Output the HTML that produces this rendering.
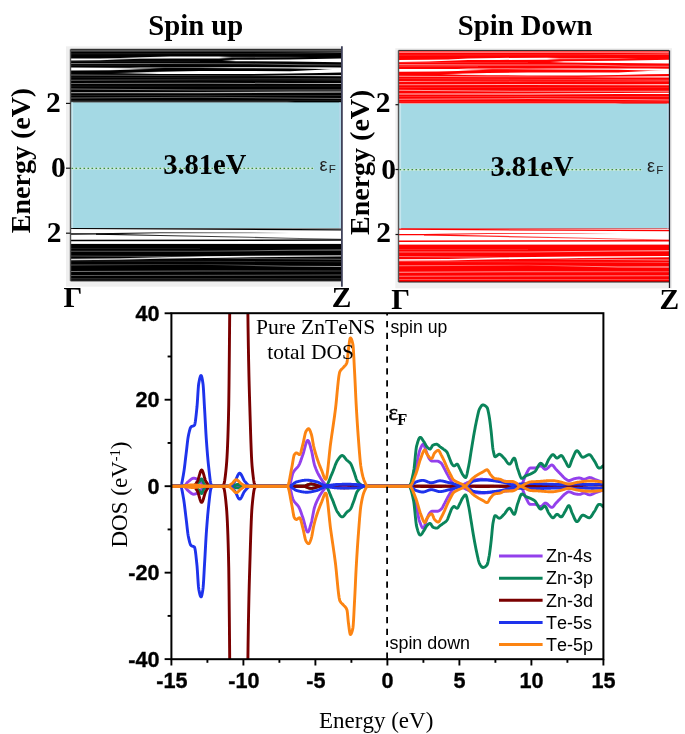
<!DOCTYPE html>
<html><head><meta charset="utf-8">
<style>
html,body{margin:0;padding:0;background:#fff;}
body{width:685px;height:734px;overflow:hidden;}
svg{display:block;}
.serif{font-family:"Liberation Serif","Times New Roman",serif;}
.sans{font-family:"Liberation Sans",Arial,sans-serif;}
text{font-kerning:none;}
.num{stroke:#000;stroke-width:0.35px;}
</style></head><body>
<svg width="685" height="734" viewBox="0 0 685 734">
<defs><filter id="blur" x="-5%" y="-50%" width="110%" height="200%"><feGaussianBlur stdDeviation="0.55"/></filter></defs>
<rect width="685" height="734" fill="#fff"/>
<rect x="66.0" y="46.3" width="275.5" height="240.4" fill="#EFEFEF"/>
<defs><clipPath id="clip70"><rect x="70.5" y="49.3" width="270.7" height="231.6"/></clipPath><linearGradient id="g1" gradientUnits="userSpaceOnUse" x1="70.0" y1="0" x2="341.0" y2="0"><stop offset="0.0000" stop-color="#fff" stop-opacity="0.45"/><stop offset="1.0000" stop-color="#fff" stop-opacity="0.42"/></linearGradient><linearGradient id="g2" gradientUnits="userSpaceOnUse" x1="70.0" y1="0" x2="341.0" y2="0"><stop offset="0.0000" stop-color="#fff" stop-opacity="0.15"/><stop offset="0.6642" stop-color="#fff" stop-opacity="0.10"/><stop offset="1.0000" stop-color="#fff" stop-opacity="0.30"/></linearGradient><linearGradient id="g3" gradientUnits="userSpaceOnUse" x1="70.0" y1="0" x2="310.0" y2="0"><stop offset="0.0000" stop-color="#fff" stop-opacity="1.00"/><stop offset="0.1250" stop-color="#fff" stop-opacity="1.00"/><stop offset="0.2083" stop-color="#fff" stop-opacity="0.75"/><stop offset="0.2917" stop-color="#fff" stop-opacity="0.85"/><stop offset="0.4167" stop-color="#fff" stop-opacity="1.00"/><stop offset="0.6208" stop-color="#fff" stop-opacity="1.00"/><stop offset="0.6750" stop-color="#fff" stop-opacity="0.35"/><stop offset="0.9167" stop-color="#fff" stop-opacity="0.25"/><stop offset="1.0000" stop-color="#fff" stop-opacity="0.00"/></linearGradient><linearGradient id="g4" gradientUnits="userSpaceOnUse" x1="222.0" y1="0" x2="341.0" y2="0"><stop offset="0.0000" stop-color="#fff" stop-opacity="0.00"/><stop offset="0.1176" stop-color="#fff" stop-opacity="1.00"/><stop offset="0.5714" stop-color="#fff" stop-opacity="1.00"/><stop offset="1.0000" stop-color="#fff" stop-opacity="1.00"/></linearGradient><linearGradient id="g5" gradientUnits="userSpaceOnUse" x1="70.0" y1="0" x2="200.0" y2="0"><stop offset="0.0000" stop-color="#fff" stop-opacity="0.15"/><stop offset="1.0000" stop-color="#fff" stop-opacity="0.10"/></linearGradient><linearGradient id="g6" gradientUnits="userSpaceOnUse" x1="70.0" y1="0" x2="341.0" y2="0"><stop offset="0.0000" stop-color="#fff" stop-opacity="0.45"/><stop offset="0.3321" stop-color="#fff" stop-opacity="0.40"/><stop offset="0.6642" stop-color="#fff" stop-opacity="0.35"/><stop offset="0.8487" stop-color="#fff" stop-opacity="0.40"/><stop offset="1.0000" stop-color="#fff" stop-opacity="0.30"/></linearGradient><linearGradient id="g7" gradientUnits="userSpaceOnUse" x1="70.0" y1="0" x2="150.0" y2="0"><stop offset="0.0000" stop-color="#fff" stop-opacity="0.15"/><stop offset="1.0000" stop-color="#fff" stop-opacity="0.10"/></linearGradient><linearGradient id="g8" gradientUnits="userSpaceOnUse" x1="70.0" y1="0" x2="165.0" y2="0"><stop offset="0.0000" stop-color="#fff" stop-opacity="1.00"/><stop offset="0.4211" stop-color="#fff" stop-opacity="1.00"/><stop offset="0.6316" stop-color="#fff" stop-opacity="0.80"/><stop offset="0.8421" stop-color="#fff" stop-opacity="0.40"/><stop offset="1.0000" stop-color="#fff" stop-opacity="0.00"/></linearGradient><linearGradient id="g9" gradientUnits="userSpaceOnUse" x1="129.0" y1="0" x2="341.0" y2="0"><stop offset="0.0000" stop-color="#fff" stop-opacity="0.00"/><stop offset="0.0519" stop-color="#fff" stop-opacity="0.30"/><stop offset="0.3349" stop-color="#fff" stop-opacity="0.45"/><stop offset="0.5000" stop-color="#fff" stop-opacity="0.80"/><stop offset="0.7594" stop-color="#fff" stop-opacity="0.85"/><stop offset="0.9009" stop-color="#fff" stop-opacity="0.90"/><stop offset="1.0000" stop-color="#fff" stop-opacity="1.00"/></linearGradient><linearGradient id="g10" gradientUnits="userSpaceOnUse" x1="112.0" y1="0" x2="341.0" y2="0"><stop offset="0.0000" stop-color="#fff" stop-opacity="0.00"/><stop offset="0.1004" stop-color="#fff" stop-opacity="0.60"/><stop offset="0.2096" stop-color="#fff" stop-opacity="1.00"/><stop offset="0.3843" stop-color="#fff" stop-opacity="1.00"/><stop offset="0.6026" stop-color="#fff" stop-opacity="1.00"/><stop offset="0.7773" stop-color="#fff" stop-opacity="1.00"/><stop offset="0.9083" stop-color="#fff" stop-opacity="1.00"/><stop offset="1.0000" stop-color="#fff" stop-opacity="1.00"/></linearGradient><linearGradient id="g11" gradientUnits="userSpaceOnUse" x1="70.0" y1="0" x2="341.0" y2="0"><stop offset="0.0000" stop-color="#fff" stop-opacity="0.45"/><stop offset="0.3321" stop-color="#fff" stop-opacity="0.30"/><stop offset="0.6642" stop-color="#fff" stop-opacity="0.20"/><stop offset="0.8118" stop-color="#fff" stop-opacity="0.60"/><stop offset="1.0000" stop-color="#fff" stop-opacity="0.85"/></linearGradient><linearGradient id="g12" gradientUnits="userSpaceOnUse" x1="70.0" y1="0" x2="341.0" y2="0"><stop offset="0.0000" stop-color="#fff" stop-opacity="0.10"/><stop offset="1.0000" stop-color="#fff" stop-opacity="0.25"/></linearGradient><linearGradient id="g13" gradientUnits="userSpaceOnUse" x1="70.0" y1="0" x2="341.0" y2="0"><stop offset="0.0000" stop-color="#fff" stop-opacity="0.40"/><stop offset="0.4797" stop-color="#fff" stop-opacity="0.20"/><stop offset="1.0000" stop-color="#fff" stop-opacity="0.15"/></linearGradient><linearGradient id="g14" gradientUnits="userSpaceOnUse" x1="70.0" y1="0" x2="341.0" y2="0"><stop offset="0.0000" stop-color="#fff" stop-opacity="0.40"/><stop offset="0.4797" stop-color="#fff" stop-opacity="0.50"/><stop offset="0.8118" stop-color="#fff" stop-opacity="0.55"/><stop offset="1.0000" stop-color="#fff" stop-opacity="0.70"/></linearGradient><linearGradient id="g15" gradientUnits="userSpaceOnUse" x1="70.0" y1="0" x2="341.0" y2="0"><stop offset="0.0000" stop-color="#fff" stop-opacity="0.12"/><stop offset="1.0000" stop-color="#fff" stop-opacity="0.10"/></linearGradient><linearGradient id="g16" gradientUnits="userSpaceOnUse" x1="70.0" y1="0" x2="341.0" y2="0"><stop offset="0.0000" stop-color="#fff" stop-opacity="0.45"/><stop offset="0.4797" stop-color="#fff" stop-opacity="0.40"/><stop offset="1.0000" stop-color="#fff" stop-opacity="0.40"/></linearGradient><linearGradient id="g17" gradientUnits="userSpaceOnUse" x1="70.0" y1="0" x2="341.0" y2="0"><stop offset="0.0000" stop-color="#fff" stop-opacity="0.55"/><stop offset="0.4797" stop-color="#fff" stop-opacity="0.65"/><stop offset="0.8118" stop-color="#fff" stop-opacity="0.75"/><stop offset="1.0000" stop-color="#fff" stop-opacity="0.85"/></linearGradient><linearGradient id="g18" gradientUnits="userSpaceOnUse" x1="70.0" y1="0" x2="341.0" y2="0"><stop offset="0.0000" stop-color="#fff" stop-opacity="0.15"/><stop offset="1.0000" stop-color="#fff" stop-opacity="0.20"/></linearGradient><linearGradient id="g19" gradientUnits="userSpaceOnUse" x1="70.0" y1="0" x2="341.0" y2="0"><stop offset="0.0000" stop-color="#fff" stop-opacity="0.40"/><stop offset="0.4797" stop-color="#fff" stop-opacity="0.35"/><stop offset="1.0000" stop-color="#fff" stop-opacity="0.40"/></linearGradient><linearGradient id="g20" gradientUnits="userSpaceOnUse" x1="70.0" y1="0" x2="341.0" y2="0"><stop offset="0.0000" stop-color="#fff" stop-opacity="0.12"/><stop offset="1.0000" stop-color="#fff" stop-opacity="0.12"/></linearGradient><linearGradient id="g21" gradientUnits="userSpaceOnUse" x1="70.0" y1="0" x2="295.0" y2="0"><stop offset="0.0000" stop-color="#fff" stop-opacity="0.40"/><stop offset="0.9644" stop-color="#fff" stop-opacity="0.35"/><stop offset="1.0000" stop-color="#fff" stop-opacity="0.00"/></linearGradient><linearGradient id="g22" gradientUnits="userSpaceOnUse" x1="70.0" y1="0" x2="200.0" y2="0"><stop offset="0.0000" stop-color="#fff" stop-opacity="0.15"/><stop offset="1.0000" stop-color="#fff" stop-opacity="0.10"/></linearGradient><linearGradient id="g23" gradientUnits="userSpaceOnUse" x1="70.0" y1="0" x2="341.0" y2="0"><stop offset="0.0000" stop-color="#fff" stop-opacity="0.35"/><stop offset="0.4797" stop-color="#fff" stop-opacity="0.35"/><stop offset="0.8118" stop-color="#fff" stop-opacity="0.45"/><stop offset="1.0000" stop-color="#fff" stop-opacity="0.55"/></linearGradient><linearGradient id="g24" gradientUnits="userSpaceOnUse" x1="70.0" y1="0" x2="341.0" y2="0"><stop offset="0.0000" stop-color="#fff" stop-opacity="0.30"/><stop offset="0.3321" stop-color="#fff" stop-opacity="0.30"/><stop offset="0.6642" stop-color="#fff" stop-opacity="0.30"/><stop offset="1.0000" stop-color="#fff" stop-opacity="0.40"/></linearGradient><linearGradient id="g25" gradientUnits="userSpaceOnUse" x1="70.0" y1="0" x2="341.0" y2="0"><stop offset="0.0000" stop-color="#fff" stop-opacity="0.85"/><stop offset="0.1845" stop-color="#fff" stop-opacity="0.80"/><stop offset="0.3321" stop-color="#fff" stop-opacity="0.85"/><stop offset="0.4982" stop-color="#fff" stop-opacity="1.00"/><stop offset="0.6716" stop-color="#fff" stop-opacity="0.95"/><stop offset="1.0000" stop-color="#fff" stop-opacity="0.80"/></linearGradient><linearGradient id="g26" gradientUnits="userSpaceOnUse" x1="70.0" y1="0" x2="341.0" y2="0"><stop offset="0.0000" stop-color="#fff" stop-opacity="0.15"/><stop offset="1.0000" stop-color="#fff" stop-opacity="0.20"/></linearGradient><linearGradient id="g27" gradientUnits="userSpaceOnUse" x1="70.0" y1="0" x2="341.0" y2="0"><stop offset="0.0000" stop-color="#fff" stop-opacity="0.35"/><stop offset="0.4797" stop-color="#fff" stop-opacity="0.20"/><stop offset="0.8118" stop-color="#fff" stop-opacity="0.45"/><stop offset="1.0000" stop-color="#fff" stop-opacity="0.60"/></linearGradient><linearGradient id="g28" gradientUnits="userSpaceOnUse" x1="70.0" y1="0" x2="341.0" y2="0"><stop offset="0.0000" stop-color="#fff" stop-opacity="0.45"/><stop offset="0.4797" stop-color="#fff" stop-opacity="0.40"/><stop offset="1.0000" stop-color="#fff" stop-opacity="0.25"/></linearGradient><linearGradient id="g29" gradientUnits="userSpaceOnUse" x1="70.0" y1="0" x2="341.0" y2="0"><stop offset="0.0000" stop-color="#fff" stop-opacity="0.35"/><stop offset="1.0000" stop-color="#fff" stop-opacity="0.35"/></linearGradient><linearGradient id="g30" gradientUnits="userSpaceOnUse" x1="70.0" y1="0" x2="341.0" y2="0"><stop offset="0.0000" stop-color="#fff" stop-opacity="0.30"/><stop offset="1.0000" stop-color="#fff" stop-opacity="0.25"/></linearGradient><linearGradient id="g31" gradientUnits="userSpaceOnUse" x1="70.0" y1="0" x2="341.0" y2="0"><stop offset="0.0000" stop-color="#000" stop-opacity="1.00"/><stop offset="1.0000" stop-color="#000" stop-opacity="1.00"/></linearGradient><linearGradient id="g32" gradientUnits="userSpaceOnUse" x1="70.0" y1="0" x2="290.0" y2="0"><stop offset="0.0000" stop-color="#000" stop-opacity="1.00"/><stop offset="0.1182" stop-color="#000" stop-opacity="1.00"/><stop offset="0.4091" stop-color="#000" stop-opacity="0.80"/><stop offset="0.8182" stop-color="#000" stop-opacity="0.45"/><stop offset="1.0000" stop-color="#000" stop-opacity="0.00"/></linearGradient><linearGradient id="g33" gradientUnits="userSpaceOnUse" x1="96.0" y1="0" x2="341.0" y2="0"><stop offset="0.0000" stop-color="#000" stop-opacity="1.00"/><stop offset="0.2612" stop-color="#000" stop-opacity="0.85"/><stop offset="0.6286" stop-color="#000" stop-opacity="0.70"/><stop offset="0.8327" stop-color="#000" stop-opacity="0.60"/><stop offset="1.0000" stop-color="#000" stop-opacity="0.60"/></linearGradient><linearGradient id="g34" gradientUnits="userSpaceOnUse" x1="70.0" y1="0" x2="341.0" y2="0"><stop offset="0.0000" stop-color="#000" stop-opacity="1.00"/><stop offset="1.0000" stop-color="#000" stop-opacity="1.00"/></linearGradient></defs>
<g clip-path="url(#clip70)">
<rect x="70.5" y="49.3" width="270.7" height="231.6" fill="#000"/>
<rect x="70.5" y="102.4" width="270.7" height="125.7" fill="#A4D9E4"/>
<rect x="70.5" y="228.5" width="270.7" height="15.4" fill="#fff"/>
<g filter="url(#blur)">
<polygon points="70.00,50.15 341.00,50.15 341.00,51.45 70.00,51.45" fill="url(#g1)"/>
<polygon points="70.00,53.50 250.00,53.10 341.00,52.10 341.00,53.10 250.00,53.90 70.00,54.30" fill="url(#g2)"/>
<polygon points="70.00,58.60 100.00,58.50 120.00,58.10 140.00,57.20 170.00,56.60 219.00,56.50 232.00,56.80 290.00,56.70 310.00,56.70 310.00,57.70 290.00,57.70 232.00,58.00 219.00,58.50 170.00,58.60 140.00,58.80 120.00,59.50 100.00,60.30 70.00,60.60" fill="url(#g3)"/>
<polygon points="222.00,60.10 236.00,59.85 290.00,59.40 341.00,58.50 341.00,62.30 290.00,61.60 236.00,61.15 222.00,61.10" fill="url(#g4)"/>
<polygon points="70.00,60.70 200.00,60.70 200.00,61.50 70.00,61.50" fill="url(#g5)"/>
<polygon points="70.00,63.00 160.00,63.10 250.00,63.30 300.00,64.35 341.00,64.55 341.00,65.45 300.00,65.25 250.00,64.30 160.00,64.10 70.00,64.00" fill="url(#g6)"/>
<polygon points="70.00,64.70 150.00,64.70 150.00,65.50 70.00,65.50" fill="url(#g7)"/>
<polygon points="70.00,67.60 110.00,67.70 130.00,67.70 150.00,67.50 165.00,67.30 165.00,68.30 150.00,68.90 130.00,69.70 110.00,70.30 70.00,70.40" fill="url(#g8)"/>
<polygon points="129.00,66.90 140.00,66.90 200.00,67.10 235.00,67.10 290.00,67.15 320.00,67.30 341.00,67.40 341.00,69.80 320.00,69.10 290.00,68.45 235.00,68.30 200.00,68.10 140.00,67.90 129.00,67.90" fill="url(#g9)"/>
<polygon points="112.00,72.90 135.00,72.30 160.00,71.80 200.00,71.10 250.00,71.10 290.00,71.20 320.00,69.80 341.00,68.60 341.00,72.60 320.00,73.00 290.00,73.60 250.00,74.10 200.00,74.10 160.00,74.00 135.00,73.70 112.00,73.50" fill="url(#g10)"/>
<polygon points="70.00,74.50 160.00,74.90 250.00,75.35 290.00,75.10 341.00,75.00 341.00,76.20 290.00,76.10 250.00,76.25 160.00,75.90 70.00,75.50" fill="url(#g11)"/>
<polygon points="70.00,76.80 341.00,78.45 341.00,79.35 70.00,77.60" fill="url(#g12)"/>
<polygon points="70.00,79.70 200.00,79.35 341.00,79.60 341.00,80.40 200.00,80.25 70.00,80.70" fill="url(#g13)"/>
<polygon points="70.00,83.00 200.00,82.70 290.00,83.00 341.00,83.00 341.00,84.00 290.00,84.00 200.00,83.70 70.00,84.00" fill="url(#g14)"/>
<polygon points="70.00,85.70 341.00,85.70 341.00,86.50 70.00,86.50" fill="url(#g15)"/>
<polygon points="70.00,88.50 200.00,89.50 341.00,89.50 341.00,90.50 200.00,90.50 70.00,89.50" fill="url(#g16)"/>
<polygon points="70.00,92.10 200.00,92.10 290.00,91.60 341.00,91.40 341.00,92.60 290.00,92.80 200.00,93.30 70.00,93.30" fill="url(#g17)"/>
<polygon points="70.00,94.90 341.00,94.90 341.00,95.70 70.00,95.70" fill="url(#g18)"/>
<polygon points="70.00,97.40 200.00,96.80 341.00,98.10 341.00,99.10 200.00,97.80 70.00,98.40" fill="url(#g19)"/>
<polygon points="70.00,100.20 341.00,100.20 341.00,101.00 70.00,101.00" fill="url(#g20)"/>
<polygon points="70.00,101.60 287.00,101.60 295.00,101.60 295.00,102.40 287.00,102.40 70.00,102.40" fill="url(#g21)"/>
<polygon points="70.00,248.20 200.00,248.20 200.00,249.00 70.00,249.00" fill="url(#g22)"/>
<polygon points="70.00,250.80 200.00,250.80 290.00,249.80 341.00,249.50 341.00,250.50 290.00,250.80 200.00,251.80 70.00,251.80" fill="url(#g23)"/>
<polygon points="70.00,255.40 160.00,256.00 250.00,258.00 341.00,258.70 341.00,259.70 250.00,259.00 160.00,257.00 70.00,256.40" fill="url(#g24)"/>
<polygon points="70.00,258.65 120.00,258.30 160.00,257.25 205.00,256.30 252.00,255.70 341.00,255.25 341.00,256.55 252.00,257.30 205.00,258.10 160.00,258.75 120.00,259.70 70.00,260.15" fill="url(#g25)"/>
<polygon points="70.00,260.40 341.00,261.40 341.00,262.20 70.00,261.20" fill="url(#g26)"/>
<polygon points="70.00,264.60 200.00,263.95 290.00,265.70 341.00,265.90 341.00,266.90 290.00,266.70 200.00,264.85 70.00,265.60" fill="url(#g27)"/>
<polygon points="70.00,271.10 200.00,270.50 341.00,270.55 341.00,271.45 200.00,271.50 70.00,272.10" fill="url(#g28)"/>
<polygon points="70.00,275.10 341.00,274.50 341.00,275.50 70.00,276.10" fill="url(#g29)"/>
<polygon points="70.00,278.45 341.00,278.45 341.00,279.35 70.00,279.35" fill="url(#g30)"/>
<polygon points="70.00,227.90 341.00,229.25 341.00,230.55 70.00,229.10" fill="url(#g31)"/>
<polygon points="70.00,233.35 96.00,233.25 160.00,232.25 250.00,232.20 290.00,232.55 290.00,233.45 250.00,233.20 160.00,233.35 96.00,234.55 70.00,234.65" fill="url(#g32)"/>
<polygon points="96.00,233.45 160.00,234.90 250.00,236.75 300.00,238.10 341.00,238.80 341.00,239.80 300.00,239.10 250.00,237.85 160.00,236.10 96.00,234.75" fill="url(#g33)"/>
<polygon points="70.00,239.85 341.00,239.35 341.00,240.85 70.00,241.35" fill="url(#g34)"/>
</g>
</g>
<rect x="71.2" y="102.4" width="1.9" height="125.7" fill="#C6E6EE"/>
<rect x="339.3" y="102.4" width="1.4" height="125.7" fill="#B9D8EA"/>
<path d="M70.5,49.3 H341.2 M70.5,280.9 H341.2" stroke="#222" stroke-width="1" fill="none"/>
<line x1="70.5" y1="49.3" x2="70.5" y2="280.9" stroke="#555" stroke-width="1.4"/>
<line x1="341.9" y1="46.3" x2="341.9" y2="286.7" stroke="#40425A" stroke-width="1.8"/>
<line x1="71.5" y1="168.4" x2="314.0" y2="168.4" stroke="#E8F6DC" stroke-width="2.0" stroke-opacity="0.6"/>
<line x1="71.5" y1="168.4" x2="314.0" y2="168.4" stroke="#3F8F3F" stroke-width="1.3" stroke-dasharray="1.6 2.4"/>
<line x1="66.0" y1="103.4" x2="70.5" y2="103.4" stroke="#111" stroke-width="1.2"/>
<line x1="66.0" y1="168.2" x2="70.5" y2="168.2" stroke="#111" stroke-width="1.2"/>
<line x1="66.0" y1="233.2" x2="70.5" y2="233.2" stroke="#111" stroke-width="1.2"/>
<rect x="395.3" y="48.2" width="276.7" height="240.2" fill="#EFEFEF"/>
<defs><clipPath id="clip398"><rect x="398.5" y="50.4" width="270.5" height="231.6"/></clipPath><linearGradient id="g35" gradientUnits="userSpaceOnUse" x1="398.0" y1="0" x2="669.0" y2="0"><stop offset="0.0000" stop-color="#fff" stop-opacity="0.63"/><stop offset="1.0000" stop-color="#fff" stop-opacity="0.59"/></linearGradient><linearGradient id="g36" gradientUnits="userSpaceOnUse" x1="398.0" y1="0" x2="669.0" y2="0"><stop offset="0.0000" stop-color="#fff" stop-opacity="0.21"/><stop offset="0.6642" stop-color="#fff" stop-opacity="0.14"/><stop offset="1.0000" stop-color="#fff" stop-opacity="0.42"/></linearGradient><linearGradient id="g37" gradientUnits="userSpaceOnUse" x1="398.0" y1="0" x2="638.0" y2="0"><stop offset="0.0000" stop-color="#fff" stop-opacity="1.00"/><stop offset="0.1250" stop-color="#fff" stop-opacity="1.00"/><stop offset="0.2083" stop-color="#fff" stop-opacity="1.00"/><stop offset="0.2917" stop-color="#fff" stop-opacity="1.00"/><stop offset="0.4167" stop-color="#fff" stop-opacity="1.00"/><stop offset="0.6208" stop-color="#fff" stop-opacity="1.00"/><stop offset="0.6750" stop-color="#fff" stop-opacity="0.49"/><stop offset="0.9167" stop-color="#fff" stop-opacity="0.35"/><stop offset="1.0000" stop-color="#fff" stop-opacity="0.00"/></linearGradient><linearGradient id="g38" gradientUnits="userSpaceOnUse" x1="550.0" y1="0" x2="669.0" y2="0"><stop offset="0.0000" stop-color="#fff" stop-opacity="0.00"/><stop offset="0.1176" stop-color="#fff" stop-opacity="1.00"/><stop offset="0.5714" stop-color="#fff" stop-opacity="1.00"/><stop offset="1.0000" stop-color="#fff" stop-opacity="1.00"/></linearGradient><linearGradient id="g39" gradientUnits="userSpaceOnUse" x1="398.0" y1="0" x2="528.0" y2="0"><stop offset="0.0000" stop-color="#fff" stop-opacity="0.21"/><stop offset="1.0000" stop-color="#fff" stop-opacity="0.14"/></linearGradient><linearGradient id="g40" gradientUnits="userSpaceOnUse" x1="398.0" y1="0" x2="669.0" y2="0"><stop offset="0.0000" stop-color="#fff" stop-opacity="0.63"/><stop offset="0.3321" stop-color="#fff" stop-opacity="0.56"/><stop offset="0.6642" stop-color="#fff" stop-opacity="0.49"/><stop offset="0.8487" stop-color="#fff" stop-opacity="0.56"/><stop offset="1.0000" stop-color="#fff" stop-opacity="0.42"/></linearGradient><linearGradient id="g41" gradientUnits="userSpaceOnUse" x1="398.0" y1="0" x2="478.0" y2="0"><stop offset="0.0000" stop-color="#fff" stop-opacity="0.21"/><stop offset="1.0000" stop-color="#fff" stop-opacity="0.14"/></linearGradient><linearGradient id="g42" gradientUnits="userSpaceOnUse" x1="398.0" y1="0" x2="493.0" y2="0"><stop offset="0.0000" stop-color="#fff" stop-opacity="1.00"/><stop offset="0.4211" stop-color="#fff" stop-opacity="1.00"/><stop offset="0.6316" stop-color="#fff" stop-opacity="1.00"/><stop offset="0.8421" stop-color="#fff" stop-opacity="0.56"/><stop offset="1.0000" stop-color="#fff" stop-opacity="0.00"/></linearGradient><linearGradient id="g43" gradientUnits="userSpaceOnUse" x1="457.0" y1="0" x2="669.0" y2="0"><stop offset="0.0000" stop-color="#fff" stop-opacity="0.00"/><stop offset="0.0519" stop-color="#fff" stop-opacity="0.42"/><stop offset="0.3349" stop-color="#fff" stop-opacity="0.63"/><stop offset="0.5000" stop-color="#fff" stop-opacity="1.00"/><stop offset="0.7594" stop-color="#fff" stop-opacity="1.00"/><stop offset="0.9009" stop-color="#fff" stop-opacity="1.00"/><stop offset="1.0000" stop-color="#fff" stop-opacity="1.00"/></linearGradient><linearGradient id="g44" gradientUnits="userSpaceOnUse" x1="440.0" y1="0" x2="669.0" y2="0"><stop offset="0.0000" stop-color="#fff" stop-opacity="0.00"/><stop offset="0.1004" stop-color="#fff" stop-opacity="0.84"/><stop offset="0.2096" stop-color="#fff" stop-opacity="1.00"/><stop offset="0.3843" stop-color="#fff" stop-opacity="1.00"/><stop offset="0.6026" stop-color="#fff" stop-opacity="1.00"/><stop offset="0.7773" stop-color="#fff" stop-opacity="1.00"/><stop offset="0.9083" stop-color="#fff" stop-opacity="1.00"/><stop offset="1.0000" stop-color="#fff" stop-opacity="1.00"/></linearGradient><linearGradient id="g45" gradientUnits="userSpaceOnUse" x1="398.0" y1="0" x2="669.0" y2="0"><stop offset="0.0000" stop-color="#fff" stop-opacity="0.63"/><stop offset="0.3321" stop-color="#fff" stop-opacity="0.42"/><stop offset="0.6642" stop-color="#fff" stop-opacity="0.28"/><stop offset="0.8118" stop-color="#fff" stop-opacity="0.84"/><stop offset="1.0000" stop-color="#fff" stop-opacity="1.00"/></linearGradient><linearGradient id="g46" gradientUnits="userSpaceOnUse" x1="398.0" y1="0" x2="669.0" y2="0"><stop offset="0.0000" stop-color="#fff" stop-opacity="0.14"/><stop offset="1.0000" stop-color="#fff" stop-opacity="0.35"/></linearGradient><linearGradient id="g47" gradientUnits="userSpaceOnUse" x1="398.0" y1="0" x2="669.0" y2="0"><stop offset="0.0000" stop-color="#fff" stop-opacity="0.56"/><stop offset="0.4797" stop-color="#fff" stop-opacity="0.28"/><stop offset="1.0000" stop-color="#fff" stop-opacity="0.21"/></linearGradient><linearGradient id="g48" gradientUnits="userSpaceOnUse" x1="398.0" y1="0" x2="669.0" y2="0"><stop offset="0.0000" stop-color="#fff" stop-opacity="0.56"/><stop offset="0.4797" stop-color="#fff" stop-opacity="0.70"/><stop offset="0.8118" stop-color="#fff" stop-opacity="0.77"/><stop offset="1.0000" stop-color="#fff" stop-opacity="0.98"/></linearGradient><linearGradient id="g49" gradientUnits="userSpaceOnUse" x1="398.0" y1="0" x2="669.0" y2="0"><stop offset="0.0000" stop-color="#fff" stop-opacity="0.17"/><stop offset="1.0000" stop-color="#fff" stop-opacity="0.14"/></linearGradient><linearGradient id="g50" gradientUnits="userSpaceOnUse" x1="398.0" y1="0" x2="669.0" y2="0"><stop offset="0.0000" stop-color="#fff" stop-opacity="0.63"/><stop offset="0.4797" stop-color="#fff" stop-opacity="0.56"/><stop offset="1.0000" stop-color="#fff" stop-opacity="0.56"/></linearGradient><linearGradient id="g51" gradientUnits="userSpaceOnUse" x1="398.0" y1="0" x2="669.0" y2="0"><stop offset="0.0000" stop-color="#fff" stop-opacity="0.77"/><stop offset="0.4797" stop-color="#fff" stop-opacity="0.91"/><stop offset="0.8118" stop-color="#fff" stop-opacity="1.00"/><stop offset="1.0000" stop-color="#fff" stop-opacity="1.00"/></linearGradient><linearGradient id="g52" gradientUnits="userSpaceOnUse" x1="398.0" y1="0" x2="669.0" y2="0"><stop offset="0.0000" stop-color="#fff" stop-opacity="0.21"/><stop offset="1.0000" stop-color="#fff" stop-opacity="0.28"/></linearGradient><linearGradient id="g53" gradientUnits="userSpaceOnUse" x1="398.0" y1="0" x2="669.0" y2="0"><stop offset="0.0000" stop-color="#fff" stop-opacity="0.56"/><stop offset="0.4797" stop-color="#fff" stop-opacity="0.49"/><stop offset="1.0000" stop-color="#fff" stop-opacity="0.56"/></linearGradient><linearGradient id="g54" gradientUnits="userSpaceOnUse" x1="398.0" y1="0" x2="669.0" y2="0"><stop offset="0.0000" stop-color="#fff" stop-opacity="0.17"/><stop offset="1.0000" stop-color="#fff" stop-opacity="0.17"/></linearGradient><linearGradient id="g55" gradientUnits="userSpaceOnUse" x1="398.0" y1="0" x2="623.0" y2="0"><stop offset="0.0000" stop-color="#fff" stop-opacity="0.56"/><stop offset="0.9644" stop-color="#fff" stop-opacity="0.49"/><stop offset="1.0000" stop-color="#fff" stop-opacity="0.00"/></linearGradient><linearGradient id="g56" gradientUnits="userSpaceOnUse" x1="398.0" y1="0" x2="528.0" y2="0"><stop offset="0.0000" stop-color="#fff" stop-opacity="0.21"/><stop offset="1.0000" stop-color="#fff" stop-opacity="0.14"/></linearGradient><linearGradient id="g57" gradientUnits="userSpaceOnUse" x1="398.0" y1="0" x2="669.0" y2="0"><stop offset="0.0000" stop-color="#fff" stop-opacity="0.49"/><stop offset="0.4797" stop-color="#fff" stop-opacity="0.49"/><stop offset="0.8118" stop-color="#fff" stop-opacity="0.63"/><stop offset="1.0000" stop-color="#fff" stop-opacity="0.77"/></linearGradient><linearGradient id="g58" gradientUnits="userSpaceOnUse" x1="398.0" y1="0" x2="669.0" y2="0"><stop offset="0.0000" stop-color="#fff" stop-opacity="0.42"/><stop offset="0.3321" stop-color="#fff" stop-opacity="0.42"/><stop offset="0.6642" stop-color="#fff" stop-opacity="0.42"/><stop offset="1.0000" stop-color="#fff" stop-opacity="0.56"/></linearGradient><linearGradient id="g59" gradientUnits="userSpaceOnUse" x1="398.0" y1="0" x2="669.0" y2="0"><stop offset="0.0000" stop-color="#fff" stop-opacity="1.00"/><stop offset="0.1845" stop-color="#fff" stop-opacity="1.00"/><stop offset="0.3321" stop-color="#fff" stop-opacity="1.00"/><stop offset="0.4982" stop-color="#fff" stop-opacity="1.00"/><stop offset="0.6716" stop-color="#fff" stop-opacity="1.00"/><stop offset="1.0000" stop-color="#fff" stop-opacity="1.00"/></linearGradient><linearGradient id="g60" gradientUnits="userSpaceOnUse" x1="398.0" y1="0" x2="669.0" y2="0"><stop offset="0.0000" stop-color="#fff" stop-opacity="0.21"/><stop offset="1.0000" stop-color="#fff" stop-opacity="0.28"/></linearGradient><linearGradient id="g61" gradientUnits="userSpaceOnUse" x1="398.0" y1="0" x2="669.0" y2="0"><stop offset="0.0000" stop-color="#fff" stop-opacity="0.49"/><stop offset="0.4797" stop-color="#fff" stop-opacity="0.28"/><stop offset="0.8118" stop-color="#fff" stop-opacity="0.63"/><stop offset="1.0000" stop-color="#fff" stop-opacity="0.84"/></linearGradient><linearGradient id="g62" gradientUnits="userSpaceOnUse" x1="398.0" y1="0" x2="669.0" y2="0"><stop offset="0.0000" stop-color="#fff" stop-opacity="0.63"/><stop offset="0.4797" stop-color="#fff" stop-opacity="0.56"/><stop offset="1.0000" stop-color="#fff" stop-opacity="0.35"/></linearGradient><linearGradient id="g63" gradientUnits="userSpaceOnUse" x1="398.0" y1="0" x2="669.0" y2="0"><stop offset="0.0000" stop-color="#fff" stop-opacity="0.49"/><stop offset="1.0000" stop-color="#fff" stop-opacity="0.49"/></linearGradient><linearGradient id="g64" gradientUnits="userSpaceOnUse" x1="398.0" y1="0" x2="669.0" y2="0"><stop offset="0.0000" stop-color="#fff" stop-opacity="0.42"/><stop offset="1.0000" stop-color="#fff" stop-opacity="0.35"/></linearGradient><linearGradient id="g65" gradientUnits="userSpaceOnUse" x1="398.0" y1="0" x2="669.0" y2="0"><stop offset="0.0000" stop-color="#FF0000" stop-opacity="1.00"/><stop offset="1.0000" stop-color="#FF0000" stop-opacity="1.00"/></linearGradient><linearGradient id="g66" gradientUnits="userSpaceOnUse" x1="398.0" y1="0" x2="618.0" y2="0"><stop offset="0.0000" stop-color="#FF0000" stop-opacity="1.00"/><stop offset="0.1182" stop-color="#FF0000" stop-opacity="1.00"/><stop offset="0.4091" stop-color="#FF0000" stop-opacity="0.80"/><stop offset="0.8182" stop-color="#FF0000" stop-opacity="0.45"/><stop offset="1.0000" stop-color="#FF0000" stop-opacity="0.00"/></linearGradient><linearGradient id="g67" gradientUnits="userSpaceOnUse" x1="424.0" y1="0" x2="669.0" y2="0"><stop offset="0.0000" stop-color="#FF0000" stop-opacity="1.00"/><stop offset="0.2612" stop-color="#FF0000" stop-opacity="0.85"/><stop offset="0.6286" stop-color="#FF0000" stop-opacity="0.70"/><stop offset="0.8327" stop-color="#FF0000" stop-opacity="0.60"/><stop offset="1.0000" stop-color="#FF0000" stop-opacity="0.60"/></linearGradient><linearGradient id="g68" gradientUnits="userSpaceOnUse" x1="398.0" y1="0" x2="669.0" y2="0"><stop offset="0.0000" stop-color="#FF0000" stop-opacity="1.00"/><stop offset="1.0000" stop-color="#FF0000" stop-opacity="1.00"/></linearGradient></defs>
<g clip-path="url(#clip398)">
<rect x="398.5" y="50.4" width="270.5" height="231.6" fill="#FF0000"/>
<rect x="398.5" y="103.6" width="270.5" height="124.9" fill="#A4D9E4"/>
<rect x="398.5" y="229.2" width="270.5" height="15.4" fill="#fff"/>
<g filter="url(#blur)">
<polygon points="398.00,51.45 669.00,51.45 669.00,52.75 398.00,52.75" fill="url(#g35)"/>
<polygon points="398.00,54.80 578.00,54.40 669.00,53.40 669.00,54.40 578.00,55.20 398.00,55.60" fill="url(#g36)"/>
<polygon points="398.00,59.90 428.00,59.80 448.00,59.40 468.00,58.50 498.00,57.90 547.00,57.80 560.00,58.10 618.00,58.00 638.00,58.00 638.00,59.00 618.00,59.00 560.00,59.30 547.00,59.80 498.00,59.90 468.00,60.10 448.00,60.80 428.00,61.60 398.00,61.90" fill="url(#g37)"/>
<polygon points="550.00,61.40 564.00,61.15 618.00,60.70 669.00,59.80 669.00,63.60 618.00,62.90 564.00,62.45 550.00,62.40" fill="url(#g38)"/>
<polygon points="398.00,62.00 528.00,62.00 528.00,62.80 398.00,62.80" fill="url(#g39)"/>
<polygon points="398.00,64.30 488.00,64.40 578.00,64.60 628.00,65.65 669.00,65.85 669.00,66.75 628.00,66.55 578.00,65.60 488.00,65.40 398.00,65.30" fill="url(#g40)"/>
<polygon points="398.00,66.00 478.00,66.00 478.00,66.80 398.00,66.80" fill="url(#g41)"/>
<polygon points="398.00,68.90 438.00,69.00 458.00,69.00 478.00,68.80 493.00,68.60 493.00,69.60 478.00,70.20 458.00,71.00 438.00,71.60 398.00,71.70" fill="url(#g42)"/>
<polygon points="457.00,68.20 468.00,68.20 528.00,68.40 563.00,68.40 618.00,68.45 648.00,68.60 669.00,68.70 669.00,71.10 648.00,70.40 618.00,69.75 563.00,69.60 528.00,69.40 468.00,69.20 457.00,69.20" fill="url(#g43)"/>
<polygon points="440.00,74.20 463.00,73.60 488.00,73.10 528.00,72.40 578.00,72.40 618.00,72.50 648.00,71.10 669.00,69.90 669.00,73.90 648.00,74.30 618.00,74.90 578.00,75.40 528.00,75.40 488.00,75.30 463.00,75.00 440.00,74.80" fill="url(#g44)"/>
<polygon points="398.00,75.80 488.00,76.20 578.00,76.65 618.00,76.40 669.00,76.30 669.00,77.50 618.00,77.40 578.00,77.55 488.00,77.20 398.00,76.80" fill="url(#g45)"/>
<polygon points="398.00,78.10 669.00,79.75 669.00,80.65 398.00,78.90" fill="url(#g46)"/>
<polygon points="398.00,81.00 528.00,80.65 669.00,80.90 669.00,81.70 528.00,81.55 398.00,82.00" fill="url(#g47)"/>
<polygon points="398.00,84.30 528.00,84.00 618.00,84.30 669.00,84.30 669.00,85.30 618.00,85.30 528.00,85.00 398.00,85.30" fill="url(#g48)"/>
<polygon points="398.00,87.00 669.00,87.00 669.00,87.80 398.00,87.80" fill="url(#g49)"/>
<polygon points="398.00,89.80 528.00,90.80 669.00,90.80 669.00,91.80 528.00,91.80 398.00,90.80" fill="url(#g50)"/>
<polygon points="398.00,93.40 528.00,93.40 618.00,92.90 669.00,92.70 669.00,93.90 618.00,94.10 528.00,94.60 398.00,94.60" fill="url(#g51)"/>
<polygon points="398.00,96.20 669.00,96.20 669.00,97.00 398.00,97.00" fill="url(#g52)"/>
<polygon points="398.00,98.70 528.00,98.10 669.00,99.40 669.00,100.40 528.00,99.10 398.00,99.70" fill="url(#g53)"/>
<polygon points="398.00,101.50 669.00,101.50 669.00,102.30 398.00,102.30" fill="url(#g54)"/>
<polygon points="398.00,102.90 615.00,102.90 623.00,102.90 623.00,103.70 615.00,103.70 398.00,103.70" fill="url(#g55)"/>
<polygon points="398.00,248.90 528.00,248.90 528.00,249.70 398.00,249.70" fill="url(#g56)"/>
<polygon points="398.00,251.50 528.00,251.50 618.00,250.50 669.00,250.20 669.00,251.20 618.00,251.50 528.00,252.50 398.00,252.50" fill="url(#g57)"/>
<polygon points="398.00,256.10 488.00,256.70 578.00,258.70 669.00,259.40 669.00,260.40 578.00,259.70 488.00,257.70 398.00,257.10" fill="url(#g58)"/>
<polygon points="398.00,259.35 448.00,259.00 488.00,257.95 533.00,257.00 580.00,256.40 669.00,255.95 669.00,257.25 580.00,258.00 533.00,258.80 488.00,259.45 448.00,260.40 398.00,260.85" fill="url(#g59)"/>
<polygon points="398.00,261.10 669.00,262.10 669.00,262.90 398.00,261.90" fill="url(#g60)"/>
<polygon points="398.00,265.30 528.00,264.65 618.00,266.40 669.00,266.60 669.00,267.60 618.00,267.40 528.00,265.55 398.00,266.30" fill="url(#g61)"/>
<polygon points="398.00,271.80 528.00,271.20 669.00,271.25 669.00,272.15 528.00,272.20 398.00,272.80" fill="url(#g62)"/>
<polygon points="398.00,275.80 669.00,275.20 669.00,276.20 398.00,276.80" fill="url(#g63)"/>
<polygon points="398.00,279.15 669.00,279.15 669.00,280.05 398.00,280.05" fill="url(#g64)"/>
<polygon points="398.00,228.60 669.00,229.95 669.00,231.25 398.00,229.80" fill="url(#g65)"/>
<polygon points="398.00,234.05 424.00,233.95 488.00,232.95 578.00,232.90 618.00,233.25 618.00,234.15 578.00,233.90 488.00,234.05 424.00,235.25 398.00,235.35" fill="url(#g66)"/>
<polygon points="424.00,234.15 488.00,235.60 578.00,237.45 628.00,238.80 669.00,239.50 669.00,240.50 628.00,239.80 578.00,238.55 488.00,236.80 424.00,235.45" fill="url(#g67)"/>
<polygon points="398.00,240.55 669.00,240.05 669.00,241.55 398.00,242.05" fill="url(#g68)"/>
</g>
</g>
<rect x="399.2" y="103.6" width="1.9" height="124.9" fill="#C6E6EE"/>
<rect x="667.1" y="103.6" width="1.4" height="124.9" fill="#B9D8EA"/>
<path d="M398.5,50.4 H669.0 M398.5,282.0 H669.0" stroke="#222" stroke-width="1" fill="none"/>
<line x1="398.5" y1="50.4" x2="398.5" y2="282.0" stroke="#555" stroke-width="1.4"/>
<line x1="669.5" y1="50.4" x2="669.5" y2="288.0" stroke="#1E1E28" stroke-width="1.3"/>
<line x1="399.5" y1="169.7" x2="641.5" y2="169.7" stroke="#E8F6DC" stroke-width="2.0" stroke-opacity="0.6"/>
<line x1="399.5" y1="169.7" x2="641.5" y2="169.7" stroke="#3F8F3F" stroke-width="1.3" stroke-dasharray="1.6 2.4"/>
<line x1="395.5" y1="104.7" x2="398.5" y2="104.7" stroke="#111" stroke-width="1.2"/>
<line x1="395.5" y1="169.5" x2="398.5" y2="169.5" stroke="#111" stroke-width="1.2"/>
<line x1="395.5" y1="234.5" x2="398.5" y2="234.5" stroke="#111" stroke-width="1.2"/>
<text class="serif" x="195.8" y="34.7" font-size="28.7" font-weight="bold" text-anchor="middle">Spin up</text>
<text class="serif" x="525.2" y="34.7" font-size="28.7" font-weight="bold" text-anchor="middle">Spin Down</text>
<text class="serif" x="204.8" y="173.5" font-size="28.5" font-weight="bold" text-anchor="middle">3.81eV</text>
<text class="serif" x="532" y="176.1" font-size="28.5" font-weight="bold" text-anchor="middle">3.81eV</text>
<text class="sans" x="319.6" y="170.6" font-size="18" fill="#222">&#949;<tspan font-size="11.6" dx="1.0" dy="2.2">F</tspan></text>
<text class="sans" x="647.1" y="171.6" font-size="18" fill="#222">&#949;<tspan font-size="11.6" dx="1.0" dy="2.2">F</tspan></text>
<text class="serif" transform="translate(30.1,160.5) rotate(-90)" font-size="28" font-weight="bold" text-anchor="middle">Energy (eV)</text>
<text class="serif" transform="translate(369,162.3) rotate(-90)" font-size="28" font-weight="bold" text-anchor="middle">Energy (eV)</text>
<text class="serif" x="53.3" y="111.5" font-size="29.5" font-weight="bold" text-anchor="middle">2</text>
<text class="serif" x="58.4" y="177.1" font-size="29.5" font-weight="bold" text-anchor="middle">0</text>
<text class="serif" x="54.1" y="241.9" font-size="29.5" font-weight="bold" text-anchor="middle">2</text>
<text class="serif" x="383.2" y="111.8" font-size="29.5" font-weight="bold" text-anchor="middle">2</text>
<text class="serif" x="388.5" y="178.6" font-size="29.5" font-weight="bold" text-anchor="middle">0</text>
<text class="serif" x="383.6" y="242.1" font-size="29.5" font-weight="bold" text-anchor="middle">2</text>
<text class="serif" x="72.8" y="306.5" font-size="29.5" font-weight="bold" text-anchor="middle">&#915;</text>
<text class="serif" x="341.5" y="307" font-size="29.5" font-weight="bold" text-anchor="middle">Z</text>
<text class="serif" x="400.7" y="308.5" font-size="29.5" font-weight="bold" text-anchor="middle">&#915;</text>
<text class="serif" x="669.3" y="308.6" font-size="29.5" font-weight="bold" text-anchor="middle">Z</text>
<defs><clipPath id="pc"><rect x="171.4" y="313.2" width="432.0" height="346.0"/></clipPath></defs>
<g clip-path="url(#pc)" fill="none" stroke-width="2.9" stroke-linejoin="round">
<path d="M171.40,486.20 L171.69,486.20 L171.98,486.20 L172.26,486.20 L172.55,486.20 L172.84,486.20 L173.13,486.20 L173.42,486.20 L173.71,486.20 L173.99,486.20 L174.28,486.20 L174.57,486.20 L174.86,486.20 L175.15,486.20 L175.43,486.20 L175.72,486.20 L176.01,486.20 L176.30,486.20 L176.59,486.20 L176.88,486.20 L177.16,486.20 L177.45,486.20 L177.74,486.20 L178.03,486.20 L178.32,486.20 L178.60,486.20 L178.89,486.20 L179.18,486.20 L179.47,486.20 L179.76,486.20 L180.05,486.20 L180.33,486.20 L180.62,486.20 L180.91,486.20 L181.20,486.20 L181.49,486.20 L181.77,486.20 L182.06,486.20 L182.35,486.20 L182.64,486.20 L182.93,486.20 L183.22,486.20 L183.50,486.20 L183.79,486.19 L184.08,486.11 L184.37,485.95 L184.66,485.74 L184.95,485.47 L185.23,485.16 L185.52,484.82 L185.81,484.45 L186.10,484.07 L186.39,483.68 L186.67,483.30 L186.96,482.93 L187.25,482.58 L187.54,482.26 L187.83,481.99 L188.12,481.75 L188.40,481.52 L188.69,481.27 L188.98,481.03 L189.27,480.78 L189.56,480.53 L189.84,480.28 L190.13,480.04 L190.42,479.80 L190.71,479.57 L191.00,479.35 L191.29,479.15 L191.57,478.96 L191.86,478.78 L192.15,478.63 L192.44,478.49 L192.73,478.38 L193.01,478.29 L193.30,478.23 L193.59,478.21 L193.88,478.20 L194.17,478.22 L194.46,478.26 L194.74,478.32 L195.03,478.39 L195.32,478.47 L195.61,478.57 L195.90,478.68 L196.18,478.80 L196.47,478.92 L196.76,479.06 L197.05,479.21 L197.34,479.36 L197.63,479.51 L197.91,479.67 L198.20,479.83 L198.49,479.99 L198.78,480.16 L199.07,480.35 L199.35,480.58 L199.64,480.85 L199.93,481.15 L200.22,481.47 L200.51,481.81 L200.80,482.15 L201.08,482.50 L201.37,482.85 L201.66,483.19 L201.95,483.51 L202.24,483.80 L202.52,484.07 L202.81,484.30 L203.10,484.48 L203.39,484.65 L203.68,484.81 L203.97,484.98 L204.25,485.14 L204.54,485.30 L204.83,485.45 L205.12,485.59 L205.41,485.72 L205.69,485.84 L205.98,485.94 L206.27,486.03 L206.56,486.10 L206.85,486.16 L207.14,486.19 L207.42,486.20 L207.71,486.20 L208.00,486.20 L208.29,486.20 L208.58,486.20 L208.86,486.20 L209.15,486.20 L209.44,486.20 L209.73,486.20 L210.02,486.20 L210.31,486.20 L210.59,486.20 L210.88,486.20 L211.17,486.20 L211.46,486.20 L211.75,486.20 L212.04,486.20 L212.32,486.20 L212.61,486.20 L212.90,486.20 L213.19,486.20 L213.48,486.20 L213.76,486.20 L214.05,486.20 L214.34,486.20 L214.63,486.20 L214.92,486.20 L215.21,486.20 L215.49,486.20 L215.78,486.20 L216.07,486.20 L216.36,486.20 L216.65,486.20 L216.93,486.20 L217.22,486.20 L217.51,486.20 L217.80,486.20 L218.09,486.20 L218.38,486.20 L218.66,486.20 L218.95,486.20 L219.24,486.20 L219.53,486.20 L219.82,486.20 L220.10,486.20 L220.39,486.20 L220.68,486.20 L220.97,486.20 L221.26,486.20 L221.55,486.20 L221.83,486.20 L222.12,486.20 L222.41,486.20 L222.70,486.20 L222.99,486.20 L223.27,486.20 L223.56,486.20 L223.85,486.20 L224.14,486.20 L224.43,486.20 L224.72,486.20 L225.00,486.20 L225.29,486.20 L225.58,486.20 L225.87,486.20 L226.16,486.20 L226.44,486.20 L226.73,486.20 L227.02,486.20 L227.31,486.20 L227.60,486.20 L227.89,486.20 L228.17,486.20 L228.46,486.20 L228.75,486.20 L229.04,486.20 L229.33,486.20 L229.61,486.20 L229.90,486.20 L230.19,486.20 L230.48,486.20 L230.77,486.20 L231.06,486.20 L231.34,486.20 L231.63,486.20 L231.92,486.20 L232.21,486.20 L232.50,486.20 L232.78,486.20 L233.07,486.20 L233.36,486.20 L233.65,486.20 L233.94,486.20 L234.23,486.20 L234.51,486.20 L234.80,486.20 L235.09,486.20 L235.38,486.20 L235.67,486.20 L235.96,486.20 L236.24,486.20 L236.53,486.20 L236.82,486.20 L237.11,486.20 L237.40,486.20 L237.68,486.20 L237.97,486.20 L238.26,486.20 L238.55,486.20 L238.84,486.20 L239.13,486.20 L239.41,486.20 L239.70,486.20 L239.99,486.20 L240.28,486.20 L240.57,486.20 L240.85,486.20 L241.14,486.20 L241.43,486.20 L241.72,486.20 L242.01,486.20 L242.30,486.20 L242.58,486.20 L242.87,486.20 L243.16,486.20 L243.45,486.20 L243.74,486.20 L244.02,486.20 L244.31,486.20 L244.60,486.20 L244.89,486.20 L245.18,486.20 L245.47,486.20 L245.75,486.20 L246.04,486.20 L246.33,486.20 L246.62,486.20 L246.91,486.20 L247.19,486.20 L247.48,486.20 L247.77,486.20 L248.06,486.20 L248.35,486.20 L248.64,486.20 L248.92,486.20 L249.21,486.20 L249.50,486.20 L249.79,486.20 L250.08,486.20 L250.36,486.20 L250.65,486.20 L250.94,486.20 L251.23,486.20 L251.52,486.20 L251.81,486.20 L252.09,486.20 L252.38,486.20 L252.67,486.20 L252.96,486.20 L253.25,486.20 L253.53,486.20 L253.82,486.20 L254.11,486.20 L254.40,486.20 L254.69,486.20 L254.98,486.20 L255.26,486.20 L255.55,486.20 L255.84,486.20 L256.13,486.20 L256.42,486.20 L256.70,486.20 L256.99,486.20 L257.28,486.20 L257.57,486.20 L257.86,486.20 L258.15,486.20 L258.43,486.20 L258.72,486.20 L259.01,486.20 L259.30,486.20 L259.59,486.20 L259.87,486.20 L260.16,486.20 L260.45,486.20 L260.74,486.20 L261.03,486.20 L261.32,486.20 L261.60,486.20 L261.89,486.20 L262.18,486.20 L262.47,486.20 L262.76,486.20 L263.05,486.20 L263.33,486.20 L263.62,486.20 L263.91,486.20 L264.20,486.20 L264.49,486.20 L264.77,486.20 L265.06,486.20 L265.35,486.20 L265.64,486.20 L265.93,486.20 L266.22,486.20 L266.50,486.20 L266.79,486.20 L267.08,486.20 L267.37,486.20 L267.66,486.20 L267.94,486.20 L268.23,486.20 L268.52,486.20 L268.81,486.20 L269.10,486.20 L269.39,486.20 L269.67,486.20 L269.96,486.20 L270.25,486.20 L270.54,486.20 L270.83,486.20 L271.11,486.20 L271.40,486.20 L271.69,486.20 L271.98,486.20 L272.27,486.20 L272.56,486.20 L272.84,486.20 L273.13,486.20 L273.42,486.20 L273.71,486.20 L274.00,486.20 L274.28,486.20 L274.57,486.20 L274.86,486.20 L275.15,486.20 L275.44,486.20 L275.73,486.20 L276.01,486.20 L276.30,486.20 L276.59,486.20 L276.88,486.20 L277.17,486.20 L277.45,486.20 L277.74,486.20 L278.03,486.20 L278.32,486.20 L278.61,486.20 L278.90,486.20 L279.18,486.20 L279.47,486.20 L279.76,486.20 L280.05,486.20 L280.34,486.20 L280.62,486.20 L280.91,486.20 L281.20,486.20 L281.49,486.20 L281.78,486.20 L282.07,486.20 L282.35,486.20 L282.64,486.20 L282.93,486.20 L283.22,486.20 L283.51,486.20 L283.79,486.20 L284.08,486.20 L284.37,486.20 L284.66,486.20 L284.95,486.20 L285.24,486.20 L285.52,486.20 L285.81,486.20 L286.10,486.20 L286.39,486.20 L286.68,486.20 L286.97,486.20 L287.25,486.20 L287.54,486.20 L287.83,486.20 L288.12,486.19 L288.41,486.08 L288.69,485.84 L288.98,485.50 L289.27,485.09 L289.56,484.63 L289.85,484.15 L290.14,483.59 L290.42,482.79 L290.71,481.81 L291.00,480.68 L291.29,479.47 L291.58,478.20 L291.86,476.94 L292.15,475.74 L292.44,474.64 L292.73,473.68 L293.02,472.93 L293.31,472.36 L293.59,471.84 L293.88,471.37 L294.17,470.94 L294.46,470.54 L294.75,470.17 L295.03,469.82 L295.32,469.50 L295.61,469.19 L295.90,468.89 L296.19,468.59 L296.48,468.30 L296.76,468.00 L297.05,467.69 L297.34,467.37 L297.63,467.03 L297.92,466.66 L298.20,466.27 L298.49,465.84 L298.78,465.37 L299.07,464.86 L299.36,464.29 L299.65,463.65 L299.93,462.97 L300.22,462.24 L300.51,461.47 L300.80,460.67 L301.09,459.85 L301.37,459.01 L301.66,458.15 L301.95,457.30 L302.24,456.45 L302.53,455.62 L302.82,454.80 L303.10,453.96 L303.39,453.04 L303.68,452.04 L303.97,450.98 L304.26,449.88 L304.54,448.77 L304.83,447.65 L305.12,446.55 L305.41,445.48 L305.70,444.46 L305.99,443.52 L306.27,442.67 L306.56,441.92 L306.85,441.30 L307.14,440.82 L307.43,440.51 L307.71,440.38 L308.00,440.44 L308.29,440.71 L308.58,441.15 L308.87,441.74 L309.16,442.46 L309.44,443.29 L309.73,444.21 L310.02,445.19 L310.31,446.21 L310.60,447.24 L310.88,448.28 L311.17,449.28 L311.46,450.32 L311.75,451.54 L312.04,452.90 L312.33,454.36 L312.61,455.89 L312.90,457.44 L313.19,458.99 L313.48,460.50 L313.77,461.92 L314.06,463.22 L314.34,464.36 L314.63,465.32 L314.92,466.19 L315.21,467.03 L315.50,467.82 L315.78,468.58 L316.07,469.31 L316.36,470.01 L316.65,470.68 L316.94,471.32 L317.23,471.94 L317.51,472.54 L317.80,473.12 L318.09,473.68 L318.38,474.23 L318.67,474.78 L318.95,475.31 L319.24,475.83 L319.53,476.34 L319.82,476.84 L320.11,477.33 L320.40,477.80 L320.68,478.27 L320.97,478.72 L321.26,479.16 L321.55,479.59 L321.84,480.02 L322.12,480.43 L322.41,480.84 L322.70,481.23 L322.99,481.63 L323.28,482.01 L323.57,482.39 L323.85,482.76 L324.14,483.12 L324.43,483.50 L324.72,483.91 L325.01,484.33 L325.29,484.76 L325.58,485.16 L325.87,485.52 L326.16,485.82 L326.45,486.04 L326.74,486.18 L327.02,486.20 L327.31,486.20 L327.60,486.19 L327.89,486.19 L328.18,486.18 L328.46,486.17 L328.75,486.16 L329.04,486.15 L329.33,486.13 L329.62,486.12 L329.91,486.10 L330.19,486.08 L330.48,486.06 L330.77,486.04 L331.06,486.01 L331.35,485.99 L331.63,485.96 L331.92,485.94 L332.21,485.91 L332.50,485.88 L332.79,485.85 L333.08,485.82 L333.36,485.79 L333.65,485.76 L333.94,485.73 L334.23,485.70 L334.52,485.67 L334.80,485.64 L335.09,485.60 L335.38,485.57 L335.67,485.54 L335.96,485.51 L336.25,485.47 L336.53,485.44 L336.82,485.41 L337.11,485.38 L337.40,485.35 L337.69,485.32 L337.98,485.29 L338.26,485.26 L338.55,485.23 L338.84,485.20 L339.13,485.17 L339.42,485.15 L339.70,485.12 L339.99,485.10 L340.28,485.07 L340.57,485.05 L340.86,485.03 L341.15,485.01 L341.43,484.99 L341.72,484.98 L342.01,484.96 L342.30,484.95 L342.59,484.93 L342.87,484.92 L343.16,484.92 L343.45,484.91 L343.74,484.91 L344.03,484.90 L344.32,484.90 L344.60,484.90 L344.89,484.91 L345.18,484.91 L345.47,484.92 L345.76,484.93 L346.04,484.93 L346.33,484.94 L346.62,484.95 L346.91,484.97 L347.20,484.98 L347.49,485.00 L347.77,485.01 L348.06,485.03 L348.35,485.05 L348.64,485.06 L348.93,485.08 L349.21,485.10 L349.50,485.13 L349.79,485.15 L350.08,485.17 L350.37,485.19 L350.66,485.22 L350.94,485.24 L351.23,485.27 L351.52,485.29 L351.81,485.32 L352.10,485.34 L352.38,485.37 L352.67,485.40 L352.96,485.42 L353.25,485.45 L353.54,485.48 L353.83,485.51 L354.11,485.54 L354.40,485.56 L354.69,485.59 L354.98,485.62 L355.27,485.65 L355.55,485.67 L355.84,485.70 L356.13,485.73 L356.42,485.75 L356.71,485.78 L357.00,485.81 L357.28,485.83 L357.57,485.86 L357.86,485.88 L358.15,485.91 L358.44,485.93 L358.72,485.95 L359.01,485.97 L359.30,486.00 L359.59,486.02 L359.88,486.04 L360.17,486.05 L360.45,486.07 L360.74,486.09 L361.03,486.11 L361.32,486.12 L361.61,486.13 L361.89,486.15 L362.18,486.16 L362.47,486.17 L362.76,486.18 L363.05,486.18 L363.34,486.19 L363.62,486.19 L363.91,486.20 L364.20,486.20 L364.49,486.20 L364.78,486.20 L365.07,486.20 L365.35,486.20 L365.64,486.20 L365.93,486.20 L366.22,486.20 L366.51,486.20 L366.79,486.20 L367.08,486.20 L367.37,486.20 L367.66,486.20 L367.95,486.20 L368.24,486.20 L368.52,486.20 L368.81,486.20 L369.10,486.20 L369.39,486.20 L369.68,486.20 L369.96,486.20 L370.25,486.20 L370.54,486.20 L370.83,486.20 L371.12,486.20 L371.41,486.20 L371.69,486.20 L371.98,486.20 L372.27,486.20 L372.56,486.20 L372.85,486.20 L373.13,486.20 L373.42,486.20 L373.71,486.20 L374.00,486.20 L374.29,486.20 L374.58,486.20 L374.86,486.20 L375.15,486.20 L375.44,486.20 L375.73,486.20 L376.02,486.20 L376.30,486.20 L376.59,486.20 L376.88,486.20 L377.17,486.20 L377.46,486.20 L377.75,486.20 L378.03,486.20 L378.32,486.20 L378.61,486.20 L378.90,486.20 L379.19,486.20 L379.47,486.20 L379.76,486.20 L380.05,486.20 L380.34,486.20 L380.63,486.20 L380.92,486.20 L381.20,486.20 L381.49,486.20 L381.78,486.20 L382.07,486.20 L382.36,486.20 L382.64,486.20 L382.93,486.20 L383.22,486.20 L383.51,486.20 L383.80,486.20 L384.09,486.20 L384.37,486.20 L384.66,486.20 L384.95,486.20 L385.24,486.20 L385.53,486.20 L385.81,486.20 L386.10,486.20 L386.39,486.20 L386.68,486.20 L386.97,486.20 L387.26,486.20 L387.54,486.20 L387.83,486.20 L388.12,486.20 L388.41,486.20 L388.70,486.20 L388.99,486.20 L389.27,486.20 L389.56,486.20 L389.85,486.20 L390.14,486.20 L390.43,486.20 L390.71,486.20 L391.00,486.20 L391.29,486.20 L391.58,486.20 L391.87,486.20 L392.16,486.20 L392.44,486.20 L392.73,486.20 L393.02,486.20 L393.31,486.20 L393.60,486.20 L393.88,486.20 L394.17,486.20 L394.46,486.20 L394.75,486.20 L395.04,486.20 L395.33,486.20 L395.61,486.20 L395.90,486.20 L396.19,486.20 L396.48,486.20 L396.77,486.20 L397.05,486.20 L397.34,486.20 L397.63,486.20 L397.92,486.20 L398.21,486.20 L398.50,486.20 L398.78,486.20 L399.07,486.20 L399.36,486.20 L399.65,486.20 L399.94,486.20 L400.22,486.20 L400.51,486.20 L400.80,486.20 L401.09,486.20 L401.38,486.20 L401.67,486.20 L401.95,486.20 L402.24,486.20 L402.53,486.20 L402.82,486.20 L403.11,486.20 L403.39,486.20 L403.68,486.20 L403.97,486.20 L404.26,486.20 L404.55,486.20 L404.84,486.20 L405.12,486.20 L405.41,486.20 L405.70,486.20 L405.99,486.20 L406.28,486.20 L406.56,486.20 L406.85,486.20 L407.14,486.20 L407.43,486.20 L407.72,486.20 L408.01,486.20 L408.29,486.20 L408.58,486.20 L408.87,486.20 L409.16,486.17 L409.45,485.97 L409.73,485.66 L410.02,485.32 L410.31,484.94 L410.60,484.48 L410.89,483.96 L411.18,483.38 L411.46,482.73 L411.75,482.03 L412.04,481.27 L412.33,480.47 L412.62,479.62 L412.91,478.74 L413.19,477.83 L413.48,476.88 L413.77,475.91 L414.06,474.91 L414.35,473.90 L414.63,472.88 L414.92,471.85 L415.21,470.82 L415.50,469.79 L415.79,468.73 L416.08,467.54 L416.36,466.22 L416.65,464.80 L416.94,463.31 L417.23,461.77 L417.52,460.21 L417.80,458.66 L418.09,457.15 L418.38,455.70 L418.67,454.34 L418.96,453.10 L419.25,452.01 L419.53,451.08 L419.82,450.32 L420.11,449.58 L420.40,448.83 L420.69,448.11 L420.97,447.42 L421.26,446.76 L421.55,446.16 L421.84,445.62 L422.13,445.15 L422.42,444.77 L422.70,444.49 L422.99,444.32 L423.28,444.26 L423.57,444.41 L423.86,444.78 L424.14,445.33 L424.43,446.04 L424.72,446.85 L425.01,447.75 L425.30,448.69 L425.59,449.63 L425.87,450.53 L426.16,451.37 L426.45,452.11 L426.74,452.82 L427.03,453.56 L427.31,454.32 L427.60,455.08 L427.89,455.83 L428.18,456.55 L428.47,457.22 L428.76,457.83 L429.04,458.37 L429.33,458.81 L429.62,459.17 L429.91,459.52 L430.20,459.86 L430.48,460.17 L430.77,460.46 L431.06,460.71 L431.35,460.91 L431.64,461.05 L431.93,461.12 L432.21,461.12 L432.50,461.12 L432.79,461.12 L433.08,461.12 L433.37,461.12 L433.65,461.12 L433.94,461.12 L434.23,461.12 L434.52,461.12 L434.81,461.12 L435.10,461.12 L435.38,461.12 L435.67,461.12 L435.96,461.12 L436.25,461.12 L436.54,461.12 L436.82,461.12 L437.11,461.12 L437.40,461.13 L437.69,461.16 L437.98,461.23 L438.27,461.32 L438.55,461.43 L438.84,461.56 L439.13,461.72 L439.42,461.89 L439.71,462.08 L440.00,462.29 L440.28,462.50 L440.57,462.73 L440.86,462.96 L441.15,463.20 L441.44,463.45 L441.72,463.79 L442.01,464.20 L442.30,464.66 L442.59,465.18 L442.88,465.72 L443.17,466.29 L443.45,466.87 L443.74,467.45 L444.03,468.01 L444.32,468.54 L444.61,469.07 L444.89,469.62 L445.18,470.17 L445.47,470.73 L445.76,471.29 L446.05,471.86 L446.34,472.42 L446.62,472.98 L446.91,473.53 L447.20,474.07 L447.49,474.60 L447.78,475.12 L448.06,475.64 L448.35,476.17 L448.64,476.68 L448.93,477.19 L449.22,477.70 L449.51,478.19 L449.79,478.66 L450.08,479.12 L450.37,479.56 L450.66,479.99 L450.95,480.42 L451.23,480.85 L451.52,481.28 L451.81,481.69 L452.10,482.09 L452.39,482.46 L452.68,482.81 L452.96,483.13 L453.25,483.40 L453.54,483.64 L453.83,483.86 L454.12,484.07 L454.40,484.29 L454.69,484.50 L454.98,484.70 L455.27,484.89 L455.56,485.07 L455.85,485.23 L456.13,485.37 L456.42,485.50 L456.71,485.61 L457.00,485.69 L457.29,485.74 L457.57,485.77 L457.86,485.77 L458.15,485.75 L458.44,485.73 L458.73,485.70 L459.02,485.66 L459.30,485.62 L459.59,485.56 L459.88,485.51 L460.17,485.44 L460.46,485.38 L460.74,485.31 L461.03,485.23 L461.32,485.16 L461.61,485.08 L461.90,485.00 L462.19,484.93 L462.47,484.85 L462.76,484.76 L463.05,484.66 L463.34,484.55 L463.63,484.44 L463.92,484.31 L464.20,484.18 L464.49,484.04 L464.78,483.90 L465.07,483.76 L465.36,483.61 L465.64,483.46 L465.93,483.32 L466.22,483.17 L466.51,483.02 L466.80,482.88 L467.09,482.74 L467.37,482.60 L467.66,482.47 L467.95,482.35 L468.24,482.23 L468.53,482.11 L468.81,481.98 L469.10,481.86 L469.39,481.73 L469.68,481.60 L469.97,481.48 L470.26,481.35 L470.54,481.23 L470.83,481.10 L471.12,480.99 L471.41,480.87 L471.70,480.76 L471.98,480.65 L472.27,480.55 L472.56,480.46 L472.85,480.37 L473.14,480.30 L473.43,480.23 L473.71,480.16 L474.00,480.11 L474.29,480.06 L474.58,480.00 L474.87,479.95 L475.15,479.90 L475.44,479.85 L475.73,479.80 L476.02,479.75 L476.31,479.71 L476.60,479.66 L476.88,479.62 L477.17,479.58 L477.46,479.54 L477.75,479.50 L478.04,479.47 L478.32,479.44 L478.61,479.41 L478.90,479.38 L479.19,479.36 L479.48,479.34 L479.77,479.32 L480.05,479.30 L480.34,479.29 L480.63,479.29 L480.92,479.28 L481.21,479.28 L481.49,479.29 L481.78,479.29 L482.07,479.30 L482.36,479.31 L482.65,479.32 L482.94,479.33 L483.22,479.34 L483.51,479.36 L483.80,479.37 L484.09,479.39 L484.38,479.41 L484.66,479.43 L484.95,479.45 L485.24,479.47 L485.53,479.50 L485.82,479.52 L486.11,479.54 L486.39,479.57 L486.68,479.59 L486.97,479.61 L487.26,479.64 L487.55,479.66 L487.83,479.69 L488.12,479.71 L488.41,479.73 L488.70,479.76 L488.99,479.79 L489.28,479.82 L489.56,479.85 L489.85,479.89 L490.14,479.92 L490.43,479.96 L490.72,480.00 L491.01,480.04 L491.29,480.08 L491.58,480.12 L491.87,480.16 L492.16,480.20 L492.45,480.24 L492.73,480.28 L493.02,480.32 L493.31,480.35 L493.60,480.39 L493.89,480.43 L494.18,480.46 L494.46,480.49 L494.75,480.52 L495.04,480.55 L495.33,480.57 L495.62,480.60 L495.90,480.62 L496.19,480.64 L496.48,480.66 L496.77,480.68 L497.06,480.69 L497.35,480.71 L497.63,480.73 L497.92,480.74 L498.21,480.76 L498.50,480.77 L498.79,480.79 L499.07,480.80 L499.36,480.81 L499.65,480.83 L499.94,480.84 L500.23,480.86 L500.52,480.87 L500.80,480.89 L501.09,480.91 L501.38,480.93 L501.67,480.94 L501.96,480.96 L502.24,480.98 L502.53,481.01 L502.82,481.03 L503.11,481.05 L503.40,481.08 L503.69,481.10 L503.97,481.13 L504.26,481.16 L504.55,481.18 L504.84,481.21 L505.13,481.24 L505.41,481.27 L505.70,481.31 L505.99,481.34 L506.28,481.37 L506.57,481.41 L506.86,481.44 L507.14,481.48 L507.43,481.52 L507.72,481.56 L508.01,481.60 L508.30,481.64 L508.58,481.68 L508.87,481.72 L509.16,481.77 L509.45,481.82 L509.74,481.87 L510.03,481.92 L510.31,481.97 L510.60,482.03 L510.89,482.09 L511.18,482.16 L511.47,482.23 L511.75,482.30 L512.04,482.38 L512.33,482.45 L512.62,482.54 L512.91,482.62 L513.20,482.71 L513.48,482.80 L513.77,482.89 L514.06,482.98 L514.35,483.08 L514.64,483.18 L514.93,483.28 L515.21,483.38 L515.50,483.48 L515.79,483.59 L516.08,483.69 L516.37,483.80 L516.65,483.91 L516.94,484.02 L517.23,484.14 L517.52,484.28 L517.81,484.44 L518.10,484.62 L518.38,484.81 L518.67,484.99 L518.96,485.17 L519.25,485.34 L519.54,485.49 L519.82,485.61 L520.11,485.70 L520.40,485.76 L520.69,485.76 L520.98,485.65 L521.27,485.41 L521.55,485.06 L521.84,484.61 L522.13,484.07 L522.42,483.45 L522.71,482.76 L522.99,482.03 L523.28,481.26 L523.57,480.46 L523.86,479.65 L524.15,478.83 L524.44,478.03 L524.72,477.25 L525.01,476.51 L525.30,475.81 L525.59,475.18 L525.88,474.62 L526.16,474.10 L526.45,473.56 L526.74,472.99 L527.03,472.41 L527.32,471.83 L527.61,471.26 L527.89,470.70 L528.18,470.17 L528.47,469.68 L528.76,469.24 L529.05,468.85 L529.33,468.52 L529.62,468.28 L529.91,468.11 L530.20,468.04 L530.49,468.04 L530.78,468.04 L531.06,468.04 L531.35,468.04 L531.64,468.04 L531.93,468.04 L532.22,468.04 L532.50,468.04 L532.79,468.04 L533.08,468.04 L533.37,468.04 L533.66,468.04 L533.95,468.04 L534.23,468.04 L534.52,468.04 L534.81,468.04 L535.10,468.03 L535.39,467.99 L535.67,467.93 L535.96,467.84 L536.25,467.74 L536.54,467.62 L536.83,467.48 L537.12,467.33 L537.40,467.18 L537.69,467.02 L537.98,466.87 L538.27,466.71 L538.56,466.56 L538.84,466.42 L539.13,466.28 L539.42,466.16 L539.71,466.06 L540.00,465.98 L540.29,465.92 L540.57,465.89 L540.86,465.89 L541.15,465.95 L541.44,466.08 L541.73,466.27 L542.02,466.51 L542.30,466.78 L542.59,467.09 L542.88,467.40 L543.17,467.73 L543.46,468.05 L543.74,468.35 L544.03,468.64 L544.32,468.88 L544.61,469.09 L544.90,469.24 L545.19,469.32 L545.47,469.34 L545.76,469.29 L546.05,469.21 L546.34,469.08 L546.63,468.91 L546.91,468.72 L547.20,468.50 L547.49,468.25 L547.78,467.99 L548.07,467.71 L548.36,467.43 L548.64,467.14 L548.93,466.85 L549.22,466.57 L549.51,466.30 L549.80,466.04 L550.08,465.80 L550.37,465.59 L550.66,465.40 L550.95,465.24 L551.24,465.12 L551.53,465.05 L551.81,465.02 L552.10,465.05 L552.39,465.15 L552.68,465.32 L552.97,465.55 L553.25,465.83 L553.54,466.15 L553.83,466.50 L554.12,466.88 L554.41,467.27 L554.70,467.67 L554.98,468.06 L555.27,468.45 L555.56,468.81 L555.85,469.15 L556.14,469.46 L556.42,469.75 L556.71,470.05 L557.00,470.35 L557.29,470.65 L557.58,470.95 L557.87,471.25 L558.15,471.55 L558.44,471.85 L558.73,472.15 L559.02,472.45 L559.31,472.74 L559.59,473.04 L559.88,473.33 L560.17,473.63 L560.46,473.92 L560.75,474.21 L561.04,474.51 L561.32,474.81 L561.61,475.12 L561.90,475.43 L562.19,475.75 L562.48,476.06 L562.76,476.37 L563.05,476.67 L563.34,476.97 L563.63,477.26 L563.92,477.54 L564.21,477.80 L564.49,478.06 L564.78,478.29 L565.07,478.51 L565.36,478.72 L565.65,478.92 L565.94,479.14 L566.22,479.35 L566.51,479.56 L566.80,479.76 L567.09,479.95 L567.38,480.12 L567.66,480.27 L567.95,480.40 L568.24,480.49 L568.53,480.56 L568.82,480.58 L569.11,480.57 L569.39,480.54 L569.68,480.49 L569.97,480.42 L570.26,480.33 L570.55,480.24 L570.83,480.13 L571.12,480.01 L571.41,479.88 L571.70,479.75 L571.99,479.62 L572.28,479.49 L572.56,479.36 L572.85,479.23 L573.14,479.10 L573.43,478.99 L573.72,478.88 L574.00,478.78 L574.29,478.70 L574.58,478.64 L574.87,478.58 L575.16,478.53 L575.45,478.47 L575.73,478.42 L576.02,478.36 L576.31,478.31 L576.60,478.26 L576.89,478.21 L577.17,478.17 L577.46,478.12 L577.75,478.09 L578.04,478.06 L578.33,478.03 L578.62,478.01 L578.90,477.99 L579.19,477.99 L579.48,477.99 L579.77,478.02 L580.06,478.07 L580.34,478.14 L580.63,478.23 L580.92,478.33 L581.21,478.45 L581.50,478.57 L581.79,478.69 L582.07,478.81 L582.36,478.92 L582.65,479.03 L582.94,479.12 L583.23,479.19 L583.51,479.25 L583.80,479.28 L584.09,479.28 L584.38,479.26 L584.67,479.21 L584.96,479.15 L585.24,479.06 L585.53,478.97 L585.82,478.86 L586.11,478.74 L586.40,478.62 L586.68,478.49 L586.97,478.36 L587.26,478.23 L587.55,478.11 L587.84,477.99 L588.13,477.88 L588.41,477.78 L588.70,477.70 L588.99,477.63 L589.28,477.58 L589.57,477.56 L589.85,477.56 L590.14,477.58 L590.43,477.61 L590.72,477.67 L591.01,477.74 L591.30,477.83 L591.58,477.92 L591.87,478.03 L592.16,478.15 L592.45,478.27 L592.74,478.41 L593.03,478.54 L593.31,478.68 L593.60,478.82 L593.89,478.96 L594.18,479.10 L594.47,479.24 L594.75,479.37 L595.04,479.49 L595.33,479.61 L595.62,479.71 L595.91,479.81 L596.20,479.91 L596.48,480.01 L596.77,480.11 L597.06,480.21 L597.35,480.31 L597.64,480.41 L597.92,480.51 L598.21,480.61 L598.50,480.71 L598.79,480.80 L599.08,480.90 L599.37,481.00 L599.65,481.09 L599.94,481.19 L600.23,481.28 L600.52,481.38 L600.81,481.47 L601.09,481.57 L601.38,481.66 L601.67,481.76 L601.96,481.85 L602.25,481.94 L602.54,482.03 L602.82,482.13 L603.11,482.22 L603.40,482.31" stroke="#9340EC"/>
<path d="M171.40,486.20 L171.69,486.20 L171.98,486.20 L172.26,486.20 L172.55,486.20 L172.84,486.20 L173.13,486.20 L173.42,486.20 L173.71,486.20 L173.99,486.20 L174.28,486.20 L174.57,486.20 L174.86,486.20 L175.15,486.20 L175.43,486.20 L175.72,486.20 L176.01,486.20 L176.30,486.20 L176.59,486.20 L176.88,486.20 L177.16,486.20 L177.45,486.20 L177.74,486.20 L178.03,486.20 L178.32,486.20 L178.60,486.20 L178.89,486.20 L179.18,486.20 L179.47,486.20 L179.76,486.20 L180.05,486.20 L180.33,486.20 L180.62,486.20 L180.91,486.20 L181.20,486.20 L181.49,486.20 L181.77,486.20 L182.06,486.20 L182.35,486.20 L182.64,486.20 L182.93,486.20 L183.22,486.20 L183.50,486.20 L183.79,486.21 L184.08,486.29 L184.37,486.45 L184.66,486.66 L184.95,486.93 L185.23,487.24 L185.52,487.58 L185.81,487.95 L186.10,488.33 L186.39,488.72 L186.67,489.10 L186.96,489.47 L187.25,489.82 L187.54,490.14 L187.83,490.41 L188.12,490.65 L188.40,490.88 L188.69,491.13 L188.98,491.37 L189.27,491.62 L189.56,491.87 L189.84,492.12 L190.13,492.36 L190.42,492.60 L190.71,492.83 L191.00,493.05 L191.29,493.25 L191.57,493.44 L191.86,493.62 L192.15,493.77 L192.44,493.91 L192.73,494.02 L193.01,494.11 L193.30,494.17 L193.59,494.19 L193.88,494.20 L194.17,494.18 L194.46,494.14 L194.74,494.08 L195.03,494.01 L195.32,493.93 L195.61,493.83 L195.90,493.72 L196.18,493.60 L196.47,493.48 L196.76,493.34 L197.05,493.19 L197.34,493.04 L197.63,492.89 L197.91,492.73 L198.20,492.57 L198.49,492.41 L198.78,492.24 L199.07,492.05 L199.35,491.82 L199.64,491.55 L199.93,491.25 L200.22,490.93 L200.51,490.59 L200.80,490.25 L201.08,489.90 L201.37,489.55 L201.66,489.21 L201.95,488.89 L202.24,488.60 L202.52,488.33 L202.81,488.10 L203.10,487.92 L203.39,487.75 L203.68,487.59 L203.97,487.42 L204.25,487.26 L204.54,487.10 L204.83,486.95 L205.12,486.81 L205.41,486.68 L205.69,486.56 L205.98,486.46 L206.27,486.37 L206.56,486.30 L206.85,486.24 L207.14,486.21 L207.42,486.20 L207.71,486.20 L208.00,486.20 L208.29,486.20 L208.58,486.20 L208.86,486.20 L209.15,486.20 L209.44,486.20 L209.73,486.20 L210.02,486.20 L210.31,486.20 L210.59,486.20 L210.88,486.20 L211.17,486.20 L211.46,486.20 L211.75,486.20 L212.04,486.20 L212.32,486.20 L212.61,486.20 L212.90,486.20 L213.19,486.20 L213.48,486.20 L213.76,486.20 L214.05,486.20 L214.34,486.20 L214.63,486.20 L214.92,486.20 L215.21,486.20 L215.49,486.20 L215.78,486.20 L216.07,486.20 L216.36,486.20 L216.65,486.20 L216.93,486.20 L217.22,486.20 L217.51,486.20 L217.80,486.20 L218.09,486.20 L218.38,486.20 L218.66,486.20 L218.95,486.20 L219.24,486.20 L219.53,486.20 L219.82,486.20 L220.10,486.20 L220.39,486.20 L220.68,486.20 L220.97,486.20 L221.26,486.20 L221.55,486.20 L221.83,486.20 L222.12,486.20 L222.41,486.20 L222.70,486.20 L222.99,486.20 L223.27,486.20 L223.56,486.20 L223.85,486.20 L224.14,486.20 L224.43,486.20 L224.72,486.20 L225.00,486.20 L225.29,486.20 L225.58,486.20 L225.87,486.20 L226.16,486.20 L226.44,486.20 L226.73,486.20 L227.02,486.20 L227.31,486.20 L227.60,486.20 L227.89,486.20 L228.17,486.20 L228.46,486.20 L228.75,486.20 L229.04,486.20 L229.33,486.20 L229.61,486.20 L229.90,486.20 L230.19,486.20 L230.48,486.20 L230.77,486.20 L231.06,486.20 L231.34,486.20 L231.63,486.20 L231.92,486.20 L232.21,486.20 L232.50,486.20 L232.78,486.20 L233.07,486.20 L233.36,486.20 L233.65,486.20 L233.94,486.20 L234.23,486.20 L234.51,486.20 L234.80,486.20 L235.09,486.20 L235.38,486.20 L235.67,486.20 L235.96,486.20 L236.24,486.20 L236.53,486.20 L236.82,486.20 L237.11,486.20 L237.40,486.20 L237.68,486.20 L237.97,486.20 L238.26,486.20 L238.55,486.20 L238.84,486.20 L239.13,486.20 L239.41,486.20 L239.70,486.20 L239.99,486.20 L240.28,486.20 L240.57,486.20 L240.85,486.20 L241.14,486.20 L241.43,486.20 L241.72,486.20 L242.01,486.20 L242.30,486.20 L242.58,486.20 L242.87,486.20 L243.16,486.20 L243.45,486.20 L243.74,486.20 L244.02,486.20 L244.31,486.20 L244.60,486.20 L244.89,486.20 L245.18,486.20 L245.47,486.20 L245.75,486.20 L246.04,486.20 L246.33,486.20 L246.62,486.20 L246.91,486.20 L247.19,486.20 L247.48,486.20 L247.77,486.20 L248.06,486.20 L248.35,486.20 L248.64,486.20 L248.92,486.20 L249.21,486.20 L249.50,486.20 L249.79,486.20 L250.08,486.20 L250.36,486.20 L250.65,486.20 L250.94,486.20 L251.23,486.20 L251.52,486.20 L251.81,486.20 L252.09,486.20 L252.38,486.20 L252.67,486.20 L252.96,486.20 L253.25,486.20 L253.53,486.20 L253.82,486.20 L254.11,486.20 L254.40,486.20 L254.69,486.20 L254.98,486.20 L255.26,486.20 L255.55,486.20 L255.84,486.20 L256.13,486.20 L256.42,486.20 L256.70,486.20 L256.99,486.20 L257.28,486.20 L257.57,486.20 L257.86,486.20 L258.15,486.20 L258.43,486.20 L258.72,486.20 L259.01,486.20 L259.30,486.20 L259.59,486.20 L259.87,486.20 L260.16,486.20 L260.45,486.20 L260.74,486.20 L261.03,486.20 L261.32,486.20 L261.60,486.20 L261.89,486.20 L262.18,486.20 L262.47,486.20 L262.76,486.20 L263.05,486.20 L263.33,486.20 L263.62,486.20 L263.91,486.20 L264.20,486.20 L264.49,486.20 L264.77,486.20 L265.06,486.20 L265.35,486.20 L265.64,486.20 L265.93,486.20 L266.22,486.20 L266.50,486.20 L266.79,486.20 L267.08,486.20 L267.37,486.20 L267.66,486.20 L267.94,486.20 L268.23,486.20 L268.52,486.20 L268.81,486.20 L269.10,486.20 L269.39,486.20 L269.67,486.20 L269.96,486.20 L270.25,486.20 L270.54,486.20 L270.83,486.20 L271.11,486.20 L271.40,486.20 L271.69,486.20 L271.98,486.20 L272.27,486.20 L272.56,486.20 L272.84,486.20 L273.13,486.20 L273.42,486.20 L273.71,486.20 L274.00,486.20 L274.28,486.20 L274.57,486.20 L274.86,486.20 L275.15,486.20 L275.44,486.20 L275.73,486.20 L276.01,486.20 L276.30,486.20 L276.59,486.20 L276.88,486.20 L277.17,486.20 L277.45,486.20 L277.74,486.20 L278.03,486.20 L278.32,486.20 L278.61,486.20 L278.90,486.20 L279.18,486.20 L279.47,486.20 L279.76,486.20 L280.05,486.20 L280.34,486.20 L280.62,486.20 L280.91,486.20 L281.20,486.20 L281.49,486.20 L281.78,486.20 L282.07,486.20 L282.35,486.20 L282.64,486.20 L282.93,486.20 L283.22,486.20 L283.51,486.20 L283.79,486.20 L284.08,486.20 L284.37,486.20 L284.66,486.20 L284.95,486.20 L285.24,486.20 L285.52,486.20 L285.81,486.20 L286.10,486.20 L286.39,486.20 L286.68,486.20 L286.97,486.20 L287.25,486.20 L287.54,486.20 L287.83,486.20 L288.12,486.21 L288.41,486.32 L288.69,486.56 L288.98,486.90 L289.27,487.31 L289.56,487.77 L289.85,488.25 L290.14,488.81 L290.42,489.61 L290.71,490.59 L291.00,491.72 L291.29,492.93 L291.58,494.20 L291.86,495.46 L292.15,496.66 L292.44,497.76 L292.73,498.72 L293.02,499.47 L293.31,500.04 L293.59,500.56 L293.88,501.03 L294.17,501.46 L294.46,501.86 L294.75,502.23 L295.03,502.58 L295.32,502.90 L295.61,503.21 L295.90,503.51 L296.19,503.81 L296.48,504.10 L296.76,504.40 L297.05,504.71 L297.34,505.03 L297.63,505.37 L297.92,505.74 L298.20,506.13 L298.49,506.56 L298.78,507.03 L299.07,507.54 L299.36,508.11 L299.65,508.75 L299.93,509.43 L300.22,510.16 L300.51,510.93 L300.80,511.73 L301.09,512.55 L301.37,513.39 L301.66,514.25 L301.95,515.10 L302.24,515.95 L302.53,516.78 L302.82,517.60 L303.10,518.44 L303.39,519.36 L303.68,520.36 L303.97,521.42 L304.26,522.52 L304.54,523.63 L304.83,524.75 L305.12,525.85 L305.41,526.92 L305.70,527.94 L305.99,528.88 L306.27,529.73 L306.56,530.48 L306.85,531.10 L307.14,531.58 L307.43,531.89 L307.71,532.02 L308.00,531.96 L308.29,531.69 L308.58,531.25 L308.87,530.66 L309.16,529.94 L309.44,529.11 L309.73,528.19 L310.02,527.21 L310.31,526.19 L310.60,525.16 L310.88,524.12 L311.17,523.12 L311.46,522.08 L311.75,520.86 L312.04,519.50 L312.33,518.04 L312.61,516.51 L312.90,514.96 L313.19,513.41 L313.48,511.90 L313.77,510.48 L314.06,509.18 L314.34,508.04 L314.63,507.08 L314.92,506.21 L315.21,505.37 L315.50,504.58 L315.78,503.82 L316.07,503.09 L316.36,502.39 L316.65,501.72 L316.94,501.08 L317.23,500.46 L317.51,499.86 L317.80,499.28 L318.09,498.72 L318.38,498.17 L318.67,497.62 L318.95,497.09 L319.24,496.57 L319.53,496.06 L319.82,495.56 L320.11,495.07 L320.40,494.60 L320.68,494.13 L320.97,493.68 L321.26,493.24 L321.55,492.81 L321.84,492.38 L322.12,491.97 L322.41,491.56 L322.70,491.17 L322.99,490.77 L323.28,490.39 L323.57,490.01 L323.85,489.64 L324.14,489.28 L324.43,488.90 L324.72,488.49 L325.01,488.07 L325.29,487.64 L325.58,487.24 L325.87,486.88 L326.16,486.58 L326.45,486.36 L326.74,486.22 L327.02,486.20 L327.31,486.20 L327.60,486.21 L327.89,486.21 L328.18,486.22 L328.46,486.23 L328.75,486.24 L329.04,486.25 L329.33,486.27 L329.62,486.28 L329.91,486.30 L330.19,486.32 L330.48,486.34 L330.77,486.36 L331.06,486.39 L331.35,486.41 L331.63,486.44 L331.92,486.46 L332.21,486.49 L332.50,486.52 L332.79,486.55 L333.08,486.58 L333.36,486.61 L333.65,486.64 L333.94,486.67 L334.23,486.70 L334.52,486.73 L334.80,486.76 L335.09,486.80 L335.38,486.83 L335.67,486.86 L335.96,486.89 L336.25,486.93 L336.53,486.96 L336.82,486.99 L337.11,487.02 L337.40,487.05 L337.69,487.08 L337.98,487.11 L338.26,487.14 L338.55,487.17 L338.84,487.20 L339.13,487.23 L339.42,487.25 L339.70,487.28 L339.99,487.30 L340.28,487.33 L340.57,487.35 L340.86,487.37 L341.15,487.39 L341.43,487.41 L341.72,487.42 L342.01,487.44 L342.30,487.45 L342.59,487.47 L342.87,487.48 L343.16,487.48 L343.45,487.49 L343.74,487.49 L344.03,487.50 L344.32,487.50 L344.60,487.50 L344.89,487.49 L345.18,487.49 L345.47,487.48 L345.76,487.47 L346.04,487.47 L346.33,487.46 L346.62,487.45 L346.91,487.43 L347.20,487.42 L347.49,487.40 L347.77,487.39 L348.06,487.37 L348.35,487.35 L348.64,487.34 L348.93,487.32 L349.21,487.30 L349.50,487.27 L349.79,487.25 L350.08,487.23 L350.37,487.21 L350.66,487.18 L350.94,487.16 L351.23,487.13 L351.52,487.11 L351.81,487.08 L352.10,487.06 L352.38,487.03 L352.67,487.00 L352.96,486.98 L353.25,486.95 L353.54,486.92 L353.83,486.89 L354.11,486.86 L354.40,486.84 L354.69,486.81 L354.98,486.78 L355.27,486.75 L355.55,486.73 L355.84,486.70 L356.13,486.67 L356.42,486.65 L356.71,486.62 L357.00,486.59 L357.28,486.57 L357.57,486.54 L357.86,486.52 L358.15,486.49 L358.44,486.47 L358.72,486.45 L359.01,486.43 L359.30,486.40 L359.59,486.38 L359.88,486.36 L360.17,486.35 L360.45,486.33 L360.74,486.31 L361.03,486.29 L361.32,486.28 L361.61,486.27 L361.89,486.25 L362.18,486.24 L362.47,486.23 L362.76,486.22 L363.05,486.22 L363.34,486.21 L363.62,486.21 L363.91,486.20 L364.20,486.20 L364.49,486.20 L364.78,486.20 L365.07,486.20 L365.35,486.20 L365.64,486.20 L365.93,486.20 L366.22,486.20 L366.51,486.20 L366.79,486.20 L367.08,486.20 L367.37,486.20 L367.66,486.20 L367.95,486.20 L368.24,486.20 L368.52,486.20 L368.81,486.20 L369.10,486.20 L369.39,486.20 L369.68,486.20 L369.96,486.20 L370.25,486.20 L370.54,486.20 L370.83,486.20 L371.12,486.20 L371.41,486.20 L371.69,486.20 L371.98,486.20 L372.27,486.20 L372.56,486.20 L372.85,486.20 L373.13,486.20 L373.42,486.20 L373.71,486.20 L374.00,486.20 L374.29,486.20 L374.58,486.20 L374.86,486.20 L375.15,486.20 L375.44,486.20 L375.73,486.20 L376.02,486.20 L376.30,486.20 L376.59,486.20 L376.88,486.20 L377.17,486.20 L377.46,486.20 L377.75,486.20 L378.03,486.20 L378.32,486.20 L378.61,486.20 L378.90,486.20 L379.19,486.20 L379.47,486.20 L379.76,486.20 L380.05,486.20 L380.34,486.20 L380.63,486.20 L380.92,486.20 L381.20,486.20 L381.49,486.20 L381.78,486.20 L382.07,486.20 L382.36,486.20 L382.64,486.20 L382.93,486.20 L383.22,486.20 L383.51,486.20 L383.80,486.20 L384.09,486.20 L384.37,486.20 L384.66,486.20 L384.95,486.20 L385.24,486.20 L385.53,486.20 L385.81,486.20 L386.10,486.20 L386.39,486.20 L386.68,486.20 L386.97,486.20 L387.26,486.20 L387.54,486.20 L387.83,486.20 L388.12,486.20 L388.41,486.20 L388.70,486.20 L388.99,486.20 L389.27,486.20 L389.56,486.20 L389.85,486.20 L390.14,486.20 L390.43,486.20 L390.71,486.20 L391.00,486.20 L391.29,486.20 L391.58,486.20 L391.87,486.20 L392.16,486.20 L392.44,486.20 L392.73,486.20 L393.02,486.20 L393.31,486.20 L393.60,486.20 L393.88,486.20 L394.17,486.20 L394.46,486.20 L394.75,486.20 L395.04,486.20 L395.33,486.20 L395.61,486.20 L395.90,486.20 L396.19,486.20 L396.48,486.20 L396.77,486.20 L397.05,486.20 L397.34,486.20 L397.63,486.20 L397.92,486.20 L398.21,486.20 L398.50,486.20 L398.78,486.20 L399.07,486.20 L399.36,486.20 L399.65,486.20 L399.94,486.20 L400.22,486.20 L400.51,486.20 L400.80,486.20 L401.09,486.20 L401.38,486.20 L401.67,486.20 L401.95,486.20 L402.24,486.20 L402.53,486.20 L402.82,486.20 L403.11,486.20 L403.39,486.20 L403.68,486.20 L403.97,486.20 L404.26,486.20 L404.55,486.20 L404.84,486.20 L405.12,486.20 L405.41,486.20 L405.70,486.20 L405.99,486.20 L406.28,486.20 L406.56,486.20 L406.85,486.20 L407.14,486.20 L407.43,486.20 L407.72,486.20 L408.01,486.20 L408.29,486.20 L408.58,486.20 L408.87,486.20 L409.16,486.23 L409.45,486.43 L409.73,486.74 L410.02,487.08 L410.31,487.46 L410.60,487.92 L410.89,488.44 L411.18,489.02 L411.46,489.67 L411.75,490.37 L412.04,491.13 L412.33,491.93 L412.62,492.78 L412.91,493.66 L413.19,494.57 L413.48,495.52 L413.77,496.49 L414.06,497.49 L414.35,498.50 L414.63,499.52 L414.92,500.55 L415.21,501.58 L415.50,502.61 L415.79,503.67 L416.08,504.86 L416.36,506.18 L416.65,507.60 L416.94,509.09 L417.23,510.63 L417.52,512.19 L417.80,513.74 L418.09,515.25 L418.38,516.70 L418.67,518.06 L418.96,519.30 L419.25,520.39 L419.53,521.32 L419.82,522.08 L420.11,522.82 L420.40,523.57 L420.69,524.29 L420.97,524.98 L421.26,525.64 L421.55,526.24 L421.84,526.78 L422.13,527.25 L422.42,527.63 L422.70,527.91 L422.99,528.08 L423.28,528.14 L423.57,527.99 L423.86,527.62 L424.14,527.07 L424.43,526.36 L424.72,525.55 L425.01,524.65 L425.30,523.71 L425.59,522.77 L425.87,521.87 L426.16,521.03 L426.45,520.29 L426.74,519.58 L427.03,518.84 L427.31,518.08 L427.60,517.32 L427.89,516.57 L428.18,515.85 L428.47,515.18 L428.76,514.57 L429.04,514.03 L429.33,513.59 L429.62,513.23 L429.91,512.88 L430.20,512.54 L430.48,512.23 L430.77,511.94 L431.06,511.69 L431.35,511.49 L431.64,511.35 L431.93,511.28 L432.21,511.28 L432.50,511.28 L432.79,511.28 L433.08,511.28 L433.37,511.28 L433.65,511.28 L433.94,511.28 L434.23,511.28 L434.52,511.28 L434.81,511.28 L435.10,511.28 L435.38,511.28 L435.67,511.28 L435.96,511.28 L436.25,511.28 L436.54,511.28 L436.82,511.28 L437.11,511.28 L437.40,511.27 L437.69,511.24 L437.98,511.17 L438.27,511.08 L438.55,510.97 L438.84,510.84 L439.13,510.68 L439.42,510.51 L439.71,510.32 L440.00,510.11 L440.28,509.90 L440.57,509.67 L440.86,509.44 L441.15,509.20 L441.44,508.95 L441.72,508.61 L442.01,508.20 L442.30,507.74 L442.59,507.22 L442.88,506.68 L443.17,506.11 L443.45,505.53 L443.74,504.95 L444.03,504.39 L444.32,503.86 L444.61,503.33 L444.89,502.78 L445.18,502.23 L445.47,501.67 L445.76,501.11 L446.05,500.54 L446.34,499.98 L446.62,499.42 L446.91,498.87 L447.20,498.33 L447.49,497.80 L447.78,497.28 L448.06,496.76 L448.35,496.23 L448.64,495.72 L448.93,495.21 L449.22,494.70 L449.51,494.21 L449.79,493.74 L450.08,493.28 L450.37,492.84 L450.66,492.41 L450.95,491.98 L451.23,491.55 L451.52,491.12 L451.81,490.71 L452.10,490.31 L452.39,489.94 L452.68,489.59 L452.96,489.27 L453.25,489.00 L453.54,488.76 L453.83,488.54 L454.12,488.33 L454.40,488.11 L454.69,487.90 L454.98,487.70 L455.27,487.51 L455.56,487.33 L455.85,487.17 L456.13,487.03 L456.42,486.90 L456.71,486.79 L457.00,486.71 L457.29,486.66 L457.57,486.63 L457.86,486.63 L458.15,486.65 L458.44,486.67 L458.73,486.70 L459.02,486.74 L459.30,486.78 L459.59,486.84 L459.88,486.89 L460.17,486.96 L460.46,487.02 L460.74,487.09 L461.03,487.17 L461.32,487.24 L461.61,487.32 L461.90,487.40 L462.19,487.47 L462.47,487.55 L462.76,487.64 L463.05,487.74 L463.34,487.85 L463.63,487.96 L463.92,488.09 L464.20,488.22 L464.49,488.36 L464.78,488.50 L465.07,488.64 L465.36,488.79 L465.64,488.94 L465.93,489.08 L466.22,489.23 L466.51,489.38 L466.80,489.52 L467.09,489.66 L467.37,489.80 L467.66,489.93 L467.95,490.05 L468.24,490.17 L468.53,490.29 L468.81,490.42 L469.10,490.54 L469.39,490.67 L469.68,490.80 L469.97,490.92 L470.26,491.05 L470.54,491.17 L470.83,491.30 L471.12,491.41 L471.41,491.53 L471.70,491.64 L471.98,491.75 L472.27,491.85 L472.56,491.94 L472.85,492.03 L473.14,492.10 L473.43,492.17 L473.71,492.24 L474.00,492.29 L474.29,492.34 L474.58,492.40 L474.87,492.45 L475.15,492.50 L475.44,492.55 L475.73,492.60 L476.02,492.65 L476.31,492.69 L476.60,492.74 L476.88,492.78 L477.17,492.82 L477.46,492.86 L477.75,492.90 L478.04,492.93 L478.32,492.96 L478.61,492.99 L478.90,493.02 L479.19,493.04 L479.48,493.06 L479.77,493.08 L480.05,493.10 L480.34,493.11 L480.63,493.11 L480.92,493.12 L481.21,493.12 L481.49,493.11 L481.78,493.11 L482.07,493.10 L482.36,493.09 L482.65,493.08 L482.94,493.07 L483.22,493.06 L483.51,493.04 L483.80,493.03 L484.09,493.01 L484.38,492.99 L484.66,492.97 L484.95,492.95 L485.24,492.93 L485.53,492.90 L485.82,492.88 L486.11,492.86 L486.39,492.83 L486.68,492.81 L486.97,492.79 L487.26,492.76 L487.55,492.74 L487.83,492.71 L488.12,492.69 L488.41,492.67 L488.70,492.64 L488.99,492.61 L489.28,492.58 L489.56,492.55 L489.85,492.51 L490.14,492.48 L490.43,492.44 L490.72,492.40 L491.01,492.36 L491.29,492.32 L491.58,492.28 L491.87,492.24 L492.16,492.20 L492.45,492.16 L492.73,492.12 L493.02,492.08 L493.31,492.05 L493.60,492.01 L493.89,491.97 L494.18,491.94 L494.46,491.91 L494.75,491.88 L495.04,491.85 L495.33,491.83 L495.62,491.80 L495.90,491.78 L496.19,491.76 L496.48,491.74 L496.77,491.72 L497.06,491.71 L497.35,491.69 L497.63,491.67 L497.92,491.66 L498.21,491.64 L498.50,491.63 L498.79,491.61 L499.07,491.60 L499.36,491.59 L499.65,491.57 L499.94,491.56 L500.23,491.54 L500.52,491.53 L500.80,491.51 L501.09,491.49 L501.38,491.47 L501.67,491.46 L501.96,491.44 L502.24,491.42 L502.53,491.39 L502.82,491.37 L503.11,491.35 L503.40,491.32 L503.69,491.30 L503.97,491.27 L504.26,491.24 L504.55,491.22 L504.84,491.19 L505.13,491.16 L505.41,491.13 L505.70,491.09 L505.99,491.06 L506.28,491.03 L506.57,490.99 L506.86,490.96 L507.14,490.92 L507.43,490.88 L507.72,490.84 L508.01,490.80 L508.30,490.76 L508.58,490.72 L508.87,490.68 L509.16,490.63 L509.45,490.58 L509.74,490.53 L510.03,490.48 L510.31,490.43 L510.60,490.37 L510.89,490.31 L511.18,490.24 L511.47,490.17 L511.75,490.10 L512.04,490.02 L512.33,489.95 L512.62,489.86 L512.91,489.78 L513.20,489.69 L513.48,489.60 L513.77,489.51 L514.06,489.42 L514.35,489.32 L514.64,489.22 L514.93,489.12 L515.21,489.02 L515.50,488.92 L515.79,488.81 L516.08,488.71 L516.37,488.60 L516.65,488.49 L516.94,488.38 L517.23,488.26 L517.52,488.12 L517.81,487.96 L518.10,487.78 L518.38,487.59 L518.67,487.41 L518.96,487.23 L519.25,487.06 L519.54,486.91 L519.82,486.79 L520.11,486.70 L520.40,486.64 L520.69,486.64 L520.98,486.75 L521.27,486.99 L521.55,487.34 L521.84,487.79 L522.13,488.33 L522.42,488.95 L522.71,489.64 L522.99,490.37 L523.28,491.14 L523.57,491.94 L523.86,492.75 L524.15,493.57 L524.44,494.37 L524.72,495.15 L525.01,495.89 L525.30,496.59 L525.59,497.22 L525.88,497.78 L526.16,498.30 L526.45,498.84 L526.74,499.41 L527.03,499.99 L527.32,500.57 L527.61,501.14 L527.89,501.70 L528.18,502.23 L528.47,502.72 L528.76,503.16 L529.05,503.55 L529.33,503.88 L529.62,504.12 L529.91,504.29 L530.20,504.36 L530.49,504.36 L530.78,504.36 L531.06,504.36 L531.35,504.36 L531.64,504.36 L531.93,504.36 L532.22,504.36 L532.50,504.36 L532.79,504.36 L533.08,504.36 L533.37,504.36 L533.66,504.36 L533.95,504.36 L534.23,504.36 L534.52,504.36 L534.81,504.36 L535.10,504.37 L535.39,504.41 L535.67,504.47 L535.96,504.56 L536.25,504.66 L536.54,504.78 L536.83,504.92 L537.12,505.07 L537.40,505.22 L537.69,505.38 L537.98,505.53 L538.27,505.69 L538.56,505.84 L538.84,505.98 L539.13,506.12 L539.42,506.24 L539.71,506.34 L540.00,506.42 L540.29,506.48 L540.57,506.51 L540.86,506.51 L541.15,506.45 L541.44,506.32 L541.73,506.13 L542.02,505.89 L542.30,505.62 L542.59,505.31 L542.88,505.00 L543.17,504.67 L543.46,504.35 L543.74,504.05 L544.03,503.76 L544.32,503.52 L544.61,503.31 L544.90,503.16 L545.19,503.08 L545.47,503.06 L545.76,503.11 L546.05,503.19 L546.34,503.32 L546.63,503.49 L546.91,503.68 L547.20,503.90 L547.49,504.15 L547.78,504.41 L548.07,504.69 L548.36,504.97 L548.64,505.26 L548.93,505.55 L549.22,505.83 L549.51,506.10 L549.80,506.36 L550.08,506.60 L550.37,506.81 L550.66,507.00 L550.95,507.16 L551.24,507.28 L551.53,507.35 L551.81,507.38 L552.10,507.35 L552.39,507.25 L552.68,507.08 L552.97,506.85 L553.25,506.57 L553.54,506.25 L553.83,505.90 L554.12,505.52 L554.41,505.13 L554.70,504.73 L554.98,504.34 L555.27,503.95 L555.56,503.59 L555.85,503.25 L556.14,502.94 L556.42,502.65 L556.71,502.35 L557.00,502.05 L557.29,501.75 L557.58,501.45 L557.87,501.15 L558.15,500.85 L558.44,500.55 L558.73,500.25 L559.02,499.95 L559.31,499.66 L559.59,499.36 L559.88,499.07 L560.17,498.77 L560.46,498.48 L560.75,498.19 L561.04,497.89 L561.32,497.59 L561.61,497.28 L561.90,496.97 L562.19,496.65 L562.48,496.34 L562.76,496.03 L563.05,495.73 L563.34,495.43 L563.63,495.14 L563.92,494.86 L564.21,494.60 L564.49,494.34 L564.78,494.11 L565.07,493.89 L565.36,493.68 L565.65,493.48 L565.94,493.26 L566.22,493.05 L566.51,492.84 L566.80,492.64 L567.09,492.45 L567.38,492.28 L567.66,492.13 L567.95,492.00 L568.24,491.91 L568.53,491.84 L568.82,491.82 L569.11,491.83 L569.39,491.86 L569.68,491.91 L569.97,491.98 L570.26,492.07 L570.55,492.16 L570.83,492.27 L571.12,492.39 L571.41,492.52 L571.70,492.65 L571.99,492.78 L572.28,492.91 L572.56,493.04 L572.85,493.17 L573.14,493.30 L573.43,493.41 L573.72,493.52 L574.00,493.62 L574.29,493.70 L574.58,493.76 L574.87,493.82 L575.16,493.87 L575.45,493.93 L575.73,493.98 L576.02,494.04 L576.31,494.09 L576.60,494.14 L576.89,494.19 L577.17,494.23 L577.46,494.28 L577.75,494.31 L578.04,494.34 L578.33,494.37 L578.62,494.39 L578.90,494.41 L579.19,494.41 L579.48,494.41 L579.77,494.38 L580.06,494.33 L580.34,494.26 L580.63,494.17 L580.92,494.07 L581.21,493.95 L581.50,493.83 L581.79,493.71 L582.07,493.59 L582.36,493.48 L582.65,493.37 L582.94,493.28 L583.23,493.21 L583.51,493.15 L583.80,493.12 L584.09,493.12 L584.38,493.14 L584.67,493.19 L584.96,493.25 L585.24,493.34 L585.53,493.43 L585.82,493.54 L586.11,493.66 L586.40,493.78 L586.68,493.91 L586.97,494.04 L587.26,494.17 L587.55,494.29 L587.84,494.41 L588.13,494.52 L588.41,494.62 L588.70,494.70 L588.99,494.77 L589.28,494.82 L589.57,494.84 L589.85,494.84 L590.14,494.82 L590.43,494.79 L590.72,494.73 L591.01,494.66 L591.30,494.57 L591.58,494.48 L591.87,494.37 L592.16,494.25 L592.45,494.13 L592.74,493.99 L593.03,493.86 L593.31,493.72 L593.60,493.58 L593.89,493.44 L594.18,493.30 L594.47,493.16 L594.75,493.03 L595.04,492.91 L595.33,492.79 L595.62,492.69 L595.91,492.59 L596.20,492.49 L596.48,492.39 L596.77,492.29 L597.06,492.19 L597.35,492.09 L597.64,491.99 L597.92,491.89 L598.21,491.79 L598.50,491.69 L598.79,491.60 L599.08,491.50 L599.37,491.40 L599.65,491.31 L599.94,491.21 L600.23,491.12 L600.52,491.02 L600.81,490.93 L601.09,490.83 L601.38,490.74 L601.67,490.64 L601.96,490.55 L602.25,490.46 L602.54,490.37 L602.82,490.27 L603.11,490.18 L603.40,490.09" stroke="#9340EC"/>
<path d="M171.40,486.20 L171.69,486.20 L171.98,486.20 L172.26,486.20 L172.55,486.20 L172.84,486.20 L173.13,486.20 L173.42,486.20 L173.71,486.20 L173.99,486.20 L174.28,486.20 L174.57,486.20 L174.86,486.20 L175.15,486.20 L175.43,486.20 L175.72,486.20 L176.01,486.20 L176.30,486.20 L176.59,486.20 L176.88,486.20 L177.16,486.20 L177.45,486.20 L177.74,486.20 L178.03,486.20 L178.32,486.20 L178.60,486.20 L178.89,486.20 L179.18,486.20 L179.47,486.20 L179.76,486.20 L180.05,486.20 L180.33,486.20 L180.62,486.20 L180.91,486.20 L181.20,486.20 L181.49,486.20 L181.77,486.20 L182.06,486.20 L182.35,486.20 L182.64,486.20 L182.93,486.20 L183.22,486.20 L183.50,486.20 L183.79,486.20 L184.08,486.20 L184.37,486.20 L184.66,486.20 L184.95,486.20 L185.23,486.20 L185.52,486.20 L185.81,486.20 L186.10,486.20 L186.39,486.20 L186.67,486.20 L186.96,486.20 L187.25,486.20 L187.54,486.20 L187.83,486.20 L188.12,486.20 L188.40,486.20 L188.69,486.20 L188.98,486.20 L189.27,486.20 L189.56,486.20 L189.84,486.20 L190.13,486.20 L190.42,486.20 L190.71,486.20 L191.00,486.20 L191.29,486.20 L191.57,486.20 L191.86,486.20 L192.15,486.20 L192.44,486.20 L192.73,486.20 L193.01,486.20 L193.30,486.20 L193.59,486.20 L193.88,486.19 L194.17,486.15 L194.46,486.06 L194.74,485.94 L195.03,485.78 L195.32,485.59 L195.61,485.39 L195.90,485.15 L196.18,484.91 L196.47,484.65 L196.76,484.38 L197.05,484.10 L197.34,483.83 L197.63,483.55 L197.91,483.29 L198.20,483.02 L198.49,482.68 L198.78,482.29 L199.07,481.85 L199.35,481.39 L199.64,480.93 L199.93,480.47 L200.22,480.04 L200.51,479.65 L200.80,479.32 L201.08,479.06 L201.37,478.90 L201.66,478.85 L201.95,479.04 L202.24,479.49 L202.52,480.13 L202.81,480.88 L203.10,481.66 L203.39,482.39 L203.68,482.98 L203.97,483.41 L204.25,483.83 L204.54,484.24 L204.83,484.65 L205.12,485.04 L205.41,485.39 L205.69,485.69 L205.98,485.93 L206.27,486.10 L206.56,486.19 L206.85,486.20 L207.14,486.20 L207.42,486.20 L207.71,486.20 L208.00,486.20 L208.29,486.20 L208.58,486.20 L208.86,486.20 L209.15,486.20 L209.44,486.20 L209.73,486.20 L210.02,486.20 L210.31,486.20 L210.59,486.20 L210.88,486.20 L211.17,486.20 L211.46,486.20 L211.75,486.20 L212.04,486.20 L212.32,486.20 L212.61,486.20 L212.90,486.20 L213.19,486.20 L213.48,486.20 L213.76,486.20 L214.05,486.20 L214.34,486.20 L214.63,486.20 L214.92,486.20 L215.21,486.20 L215.49,486.20 L215.78,486.20 L216.07,486.20 L216.36,486.20 L216.65,486.20 L216.93,486.20 L217.22,486.20 L217.51,486.20 L217.80,486.20 L218.09,486.20 L218.38,486.20 L218.66,486.20 L218.95,486.20 L219.24,486.20 L219.53,486.20 L219.82,486.20 L220.10,486.20 L220.39,486.20 L220.68,486.20 L220.97,486.20 L221.26,486.20 L221.55,486.20 L221.83,486.20 L222.12,486.20 L222.41,486.20 L222.70,486.20 L222.99,486.20 L223.27,486.20 L223.56,486.20 L223.85,486.20 L224.14,486.20 L224.43,486.20 L224.72,486.20 L225.00,486.20 L225.29,486.20 L225.58,486.20 L225.87,486.20 L226.16,486.20 L226.44,486.20 L226.73,486.20 L227.02,486.20 L227.31,486.20 L227.60,486.20 L227.89,486.20 L228.17,486.20 L228.46,486.20 L228.75,486.20 L229.04,486.20 L229.33,486.20 L229.61,486.20 L229.90,486.20 L230.19,486.20 L230.48,486.20 L230.77,486.19 L231.06,486.16 L231.34,486.13 L231.63,486.07 L231.92,486.01 L232.21,485.94 L232.50,485.86 L232.78,485.77 L233.07,485.68 L233.36,485.58 L233.65,485.48 L233.94,485.37 L234.23,485.27 L234.51,485.17 L234.80,485.06 L235.09,484.97 L235.38,484.88 L235.67,484.79 L235.96,484.71 L236.24,484.64 L236.53,484.58 L236.82,484.53 L237.11,484.50 L237.40,484.48 L237.68,484.47 L237.97,484.48 L238.26,484.50 L238.55,484.52 L238.84,484.56 L239.13,484.61 L239.41,484.66 L239.70,484.72 L239.99,484.78 L240.28,484.86 L240.57,484.93 L240.85,485.01 L241.14,485.09 L241.43,485.18 L241.72,485.26 L242.01,485.35 L242.30,485.44 L242.58,485.52 L242.87,485.60 L243.16,485.69 L243.45,485.76 L243.74,485.84 L244.02,485.91 L244.31,485.97 L244.60,486.03 L244.89,486.08 L245.18,486.12 L245.47,486.16 L245.75,486.18 L246.04,486.20 L246.33,486.20 L246.62,486.20 L246.91,486.20 L247.19,486.20 L247.48,486.20 L247.77,486.20 L248.06,486.20 L248.35,486.20 L248.64,486.20 L248.92,486.20 L249.21,486.20 L249.50,486.20 L249.79,486.20 L250.08,486.20 L250.36,486.20 L250.65,486.20 L250.94,486.20 L251.23,486.20 L251.52,486.20 L251.81,486.20 L252.09,486.20 L252.38,486.20 L252.67,486.20 L252.96,486.20 L253.25,486.20 L253.53,486.20 L253.82,486.20 L254.11,486.20 L254.40,486.20 L254.69,486.20 L254.98,486.20 L255.26,486.20 L255.55,486.20 L255.84,486.20 L256.13,486.20 L256.42,486.20 L256.70,486.20 L256.99,486.20 L257.28,486.20 L257.57,486.20 L257.86,486.20 L258.15,486.20 L258.43,486.20 L258.72,486.20 L259.01,486.20 L259.30,486.20 L259.59,486.20 L259.87,486.20 L260.16,486.20 L260.45,486.20 L260.74,486.20 L261.03,486.20 L261.32,486.20 L261.60,486.20 L261.89,486.20 L262.18,486.20 L262.47,486.20 L262.76,486.20 L263.05,486.20 L263.33,486.20 L263.62,486.20 L263.91,486.20 L264.20,486.20 L264.49,486.20 L264.77,486.20 L265.06,486.20 L265.35,486.20 L265.64,486.20 L265.93,486.20 L266.22,486.20 L266.50,486.20 L266.79,486.20 L267.08,486.20 L267.37,486.20 L267.66,486.20 L267.94,486.20 L268.23,486.20 L268.52,486.20 L268.81,486.20 L269.10,486.20 L269.39,486.20 L269.67,486.20 L269.96,486.20 L270.25,486.20 L270.54,486.20 L270.83,486.20 L271.11,486.20 L271.40,486.20 L271.69,486.20 L271.98,486.20 L272.27,486.20 L272.56,486.20 L272.84,486.20 L273.13,486.20 L273.42,486.20 L273.71,486.20 L274.00,486.20 L274.28,486.20 L274.57,486.20 L274.86,486.20 L275.15,486.20 L275.44,486.20 L275.73,486.20 L276.01,486.20 L276.30,486.20 L276.59,486.20 L276.88,486.20 L277.17,486.20 L277.45,486.20 L277.74,486.20 L278.03,486.20 L278.32,486.20 L278.61,486.20 L278.90,486.20 L279.18,486.20 L279.47,486.20 L279.76,486.20 L280.05,486.20 L280.34,486.20 L280.62,486.20 L280.91,486.20 L281.20,486.20 L281.49,486.20 L281.78,486.20 L282.07,486.20 L282.35,486.20 L282.64,486.20 L282.93,486.20 L283.22,486.20 L283.51,486.20 L283.79,486.20 L284.08,486.20 L284.37,486.20 L284.66,486.20 L284.95,486.20 L285.24,486.20 L285.52,486.20 L285.81,486.20 L286.10,486.20 L286.39,486.20 L286.68,486.20 L286.97,486.20 L287.25,486.20 L287.54,486.20 L287.83,486.20 L288.12,486.20 L288.41,486.20 L288.69,486.20 L288.98,486.20 L289.27,486.20 L289.56,486.20 L289.85,486.20 L290.14,486.20 L290.42,486.20 L290.71,486.20 L291.00,486.20 L291.29,486.20 L291.58,486.20 L291.86,486.20 L292.15,486.20 L292.44,486.20 L292.73,486.20 L293.02,486.20 L293.31,486.20 L293.59,486.20 L293.88,486.20 L294.17,486.20 L294.46,486.20 L294.75,486.20 L295.03,486.20 L295.32,486.20 L295.61,486.20 L295.90,486.20 L296.19,486.20 L296.48,486.20 L296.76,486.20 L297.05,486.20 L297.34,486.20 L297.63,486.20 L297.92,486.20 L298.20,486.20 L298.49,486.20 L298.78,486.20 L299.07,486.20 L299.36,486.20 L299.65,486.20 L299.93,486.20 L300.22,486.20 L300.51,486.20 L300.80,486.20 L301.09,486.20 L301.37,486.20 L301.66,486.20 L301.95,486.20 L302.24,486.20 L302.53,486.20 L302.82,486.20 L303.10,486.19 L303.39,486.18 L303.68,486.14 L303.97,486.09 L304.26,486.04 L304.54,485.97 L304.83,485.89 L305.12,485.80 L305.41,485.71 L305.70,485.61 L305.99,485.50 L306.27,485.39 L306.56,485.28 L306.85,485.17 L307.14,485.06 L307.43,484.94 L307.71,484.83 L308.00,484.72 L308.29,484.62 L308.58,484.52 L308.87,484.42 L309.16,484.34 L309.44,484.26 L309.73,484.19 L310.02,484.14 L310.31,484.09 L310.60,484.06 L310.88,484.04 L311.17,484.04 L311.46,484.05 L311.75,484.06 L312.04,484.09 L312.33,484.12 L312.61,484.16 L312.90,484.21 L313.19,484.26 L313.48,484.32 L313.77,484.39 L314.06,484.46 L314.34,484.53 L314.63,484.61 L314.92,484.69 L315.21,484.78 L315.50,484.86 L315.78,484.95 L316.07,485.04 L316.36,485.13 L316.65,485.22 L316.94,485.30 L317.23,485.39 L317.51,485.48 L317.80,485.56 L318.09,485.64 L318.38,485.72 L318.67,485.79 L318.95,485.86 L319.24,485.92 L319.53,485.98 L319.82,486.04 L320.11,486.08 L320.40,486.12 L320.68,486.15 L320.97,486.18 L321.26,486.19 L321.55,486.20 L321.84,486.20 L322.12,486.20 L322.41,486.20 L322.70,486.20 L322.99,486.20 L323.28,486.20 L323.57,486.20 L323.85,486.20 L324.14,486.20 L324.43,486.20 L324.72,486.20 L325.01,486.20 L325.29,486.20 L325.58,486.19 L325.87,486.12 L326.16,485.95 L326.45,485.71 L326.74,485.39 L327.02,485.00 L327.31,484.55 L327.60,484.05 L327.89,483.49 L328.18,482.89 L328.46,482.26 L328.75,481.59 L329.04,480.90 L329.33,480.18 L329.62,479.45 L329.91,478.72 L330.19,477.98 L330.48,477.25 L330.77,476.53 L331.06,475.82 L331.35,475.14 L331.63,474.49 L331.92,473.86 L332.21,473.21 L332.50,472.53 L332.79,471.81 L333.08,471.07 L333.36,470.30 L333.65,469.52 L333.94,468.74 L334.23,467.95 L334.52,467.16 L334.80,466.37 L335.09,465.60 L335.38,464.85 L335.67,464.12 L335.96,463.42 L336.25,462.75 L336.53,462.12 L336.82,461.54 L337.11,461.00 L337.40,460.52 L337.69,460.10 L337.98,459.69 L338.26,459.27 L338.55,458.85 L338.84,458.44 L339.13,458.03 L339.42,457.65 L339.70,457.28 L339.99,456.93 L340.28,456.61 L340.57,456.32 L340.86,456.07 L341.15,455.86 L341.43,455.70 L341.72,455.58 L342.01,455.52 L342.30,455.51 L342.59,455.57 L342.87,455.70 L343.16,455.88 L343.45,456.11 L343.74,456.38 L344.03,456.69 L344.32,457.03 L344.60,457.38 L344.89,457.76 L345.18,458.14 L345.47,458.53 L345.76,458.91 L346.04,459.27 L346.33,459.62 L346.62,459.94 L346.91,460.23 L347.20,460.49 L347.49,460.73 L347.77,460.96 L348.06,461.17 L348.35,461.39 L348.64,461.60 L348.93,461.83 L349.21,462.06 L349.50,462.32 L349.79,462.60 L350.08,462.91 L350.37,463.26 L350.66,463.66 L350.94,464.16 L351.23,464.73 L351.52,465.36 L351.81,466.05 L352.10,466.78 L352.38,467.55 L352.67,468.33 L352.96,469.12 L353.25,469.91 L353.54,470.69 L353.83,471.44 L354.11,472.21 L354.40,473.05 L354.69,473.93 L354.98,474.84 L355.27,475.77 L355.55,476.68 L355.84,477.58 L356.13,478.42 L356.42,479.20 L356.71,479.90 L357.00,480.50 L357.28,480.98 L357.57,481.38 L357.86,481.76 L358.15,482.13 L358.44,482.48 L358.72,482.81 L359.01,483.12 L359.30,483.42 L359.59,483.70 L359.88,483.96 L360.17,484.20 L360.45,484.43 L360.74,484.63 L361.03,484.82 L361.32,484.99 L361.61,485.14 L361.89,485.27 L362.18,485.38 L362.47,485.49 L362.76,485.60 L363.05,485.70 L363.34,485.80 L363.62,485.89 L363.91,485.97 L364.20,486.04 L364.49,486.10 L364.78,486.15 L365.07,486.18 L365.35,486.20 L365.64,486.20 L365.93,486.20 L366.22,486.20 L366.51,486.20 L366.79,486.20 L367.08,486.20 L367.37,486.20 L367.66,486.20 L367.95,486.20 L368.24,486.20 L368.52,486.20 L368.81,486.20 L369.10,486.20 L369.39,486.20 L369.68,486.20 L369.96,486.20 L370.25,486.20 L370.54,486.20 L370.83,486.20 L371.12,486.20 L371.41,486.20 L371.69,486.20 L371.98,486.20 L372.27,486.20 L372.56,486.20 L372.85,486.20 L373.13,486.20 L373.42,486.20 L373.71,486.20 L374.00,486.20 L374.29,486.20 L374.58,486.20 L374.86,486.20 L375.15,486.20 L375.44,486.20 L375.73,486.20 L376.02,486.20 L376.30,486.20 L376.59,486.20 L376.88,486.20 L377.17,486.20 L377.46,486.20 L377.75,486.20 L378.03,486.20 L378.32,486.20 L378.61,486.20 L378.90,486.20 L379.19,486.20 L379.47,486.20 L379.76,486.20 L380.05,486.20 L380.34,486.20 L380.63,486.20 L380.92,486.20 L381.20,486.20 L381.49,486.20 L381.78,486.20 L382.07,486.20 L382.36,486.20 L382.64,486.20 L382.93,486.20 L383.22,486.20 L383.51,486.20 L383.80,486.20 L384.09,486.20 L384.37,486.20 L384.66,486.20 L384.95,486.20 L385.24,486.20 L385.53,486.20 L385.81,486.20 L386.10,486.20 L386.39,486.20 L386.68,486.20 L386.97,486.20 L387.26,486.20 L387.54,486.20 L387.83,486.20 L388.12,486.20 L388.41,486.20 L388.70,486.20 L388.99,486.20 L389.27,486.20 L389.56,486.20 L389.85,486.20 L390.14,486.20 L390.43,486.20 L390.71,486.20 L391.00,486.20 L391.29,486.20 L391.58,486.20 L391.87,486.20 L392.16,486.20 L392.44,486.20 L392.73,486.20 L393.02,486.20 L393.31,486.20 L393.60,486.20 L393.88,486.20 L394.17,486.20 L394.46,486.20 L394.75,486.20 L395.04,486.20 L395.33,486.20 L395.61,486.20 L395.90,486.20 L396.19,486.20 L396.48,486.20 L396.77,486.20 L397.05,486.20 L397.34,486.20 L397.63,486.20 L397.92,486.20 L398.21,486.20 L398.50,486.20 L398.78,486.20 L399.07,486.20 L399.36,486.20 L399.65,486.20 L399.94,486.20 L400.22,486.20 L400.51,486.20 L400.80,486.20 L401.09,486.20 L401.38,486.20 L401.67,486.20 L401.95,486.20 L402.24,486.20 L402.53,486.20 L402.82,486.20 L403.11,486.20 L403.39,486.20 L403.68,486.20 L403.97,486.20 L404.26,486.20 L404.55,486.20 L404.84,486.20 L405.12,486.20 L405.41,486.20 L405.70,486.20 L405.99,486.20 L406.28,486.20 L406.56,486.20 L406.85,486.20 L407.14,486.20 L407.43,486.20 L407.72,486.20 L408.01,486.20 L408.29,486.20 L408.58,486.20 L408.87,486.20 L409.16,486.17 L409.45,486.00 L409.73,485.67 L410.02,485.19 L410.31,484.58 L410.60,483.85 L410.89,483.00 L411.18,482.05 L411.46,481.02 L411.75,479.90 L412.04,478.71 L412.33,477.46 L412.62,476.17 L412.91,474.84 L413.19,473.48 L413.48,472.11 L413.77,470.63 L414.06,468.63 L414.35,466.19 L414.63,463.42 L414.92,460.45 L415.21,457.43 L415.50,454.47 L415.79,451.71 L416.08,449.28 L416.36,447.31 L416.65,445.92 L416.94,444.84 L417.23,443.78 L417.52,442.77 L417.80,441.81 L418.09,440.92 L418.38,440.10 L418.67,439.36 L418.96,438.72 L419.25,438.19 L419.53,437.78 L419.82,437.50 L420.11,437.36 L420.40,437.36 L420.69,437.47 L420.97,437.65 L421.26,437.91 L421.55,438.24 L421.84,438.61 L422.13,439.02 L422.42,439.46 L422.70,439.92 L422.99,440.39 L423.28,440.85 L423.57,441.29 L423.86,441.70 L424.14,442.14 L424.43,442.62 L424.72,443.13 L425.01,443.66 L425.30,444.20 L425.59,444.73 L425.87,445.25 L426.16,445.74 L426.45,446.18 L426.74,446.57 L427.03,446.88 L427.31,447.17 L427.60,447.46 L427.89,447.75 L428.18,448.02 L428.47,448.28 L428.76,448.50 L429.04,448.70 L429.33,448.85 L429.62,448.96 L429.91,449.01 L430.20,448.99 L430.48,448.80 L430.77,448.48 L431.06,448.06 L431.35,447.57 L431.64,447.04 L431.93,446.52 L432.21,446.03 L432.50,445.61 L432.79,445.30 L433.08,445.12 L433.37,445.00 L433.65,444.89 L433.94,444.79 L434.23,444.69 L434.52,444.60 L434.81,444.52 L435.10,444.45 L435.38,444.39 L435.67,444.34 L435.96,444.30 L436.25,444.28 L436.54,444.27 L436.82,444.28 L437.11,444.35 L437.40,444.47 L437.69,444.64 L437.98,444.84 L438.27,445.08 L438.55,445.33 L438.84,445.61 L439.13,445.88 L439.42,446.16 L439.71,446.42 L440.00,446.66 L440.28,446.88 L440.57,447.09 L440.86,447.29 L441.15,447.49 L441.44,447.69 L441.72,447.89 L442.01,448.10 L442.30,448.30 L442.59,448.51 L442.88,448.72 L443.17,448.94 L443.45,449.16 L443.74,449.37 L444.03,449.57 L444.32,449.77 L444.61,449.97 L444.89,450.18 L445.18,450.39 L445.47,450.62 L445.76,450.87 L446.05,451.13 L446.34,451.42 L446.62,451.74 L446.91,452.10 L447.20,452.54 L447.49,453.10 L447.78,453.75 L448.06,454.46 L448.35,455.21 L448.64,455.99 L448.93,456.76 L449.22,457.50 L449.51,458.20 L449.79,458.91 L450.08,459.66 L450.37,460.44 L450.66,461.21 L450.95,461.96 L451.23,462.66 L451.52,463.28 L451.81,463.80 L452.10,464.20 L452.39,464.56 L452.68,464.91 L452.96,465.22 L453.25,465.50 L453.54,465.71 L453.83,465.84 L454.12,465.88 L454.40,465.82 L454.69,465.69 L454.98,465.51 L455.27,465.28 L455.56,465.04 L455.85,464.79 L456.13,464.56 L456.42,464.37 L456.71,464.23 L457.00,464.16 L457.29,464.19 L457.57,464.41 L457.86,464.77 L458.15,465.25 L458.44,465.82 L458.73,466.44 L459.02,467.08 L459.30,467.71 L459.59,468.30 L459.88,468.84 L460.17,469.41 L460.46,470.02 L460.74,470.66 L461.03,471.30 L461.32,471.93 L461.61,472.55 L461.90,473.14 L462.19,473.68 L462.47,474.17 L462.76,474.60 L463.05,475.00 L463.34,475.42 L463.63,475.83 L463.92,476.23 L464.20,476.60 L464.49,476.92 L464.78,477.19 L465.07,477.40 L465.36,477.52 L465.64,477.55 L465.93,477.31 L466.22,476.78 L466.51,475.97 L466.80,474.95 L467.09,473.76 L467.37,472.44 L467.66,471.03 L467.95,469.58 L468.24,468.13 L468.53,466.73 L468.81,465.36 L469.10,463.85 L469.39,462.22 L469.68,460.49 L469.97,458.68 L470.26,456.84 L470.54,454.97 L470.83,453.12 L471.12,451.30 L471.41,449.55 L471.70,447.80 L471.98,446.04 L472.27,444.26 L472.56,442.49 L472.85,440.73 L473.14,438.98 L473.43,437.26 L473.71,435.58 L474.00,433.94 L474.29,432.34 L474.58,430.74 L474.87,429.17 L475.15,427.62 L475.44,426.09 L475.73,424.61 L476.02,423.16 L476.31,421.77 L476.60,420.43 L476.88,419.13 L477.17,417.80 L477.46,416.46 L477.75,415.13 L478.04,413.85 L478.32,412.63 L478.61,411.51 L478.90,410.51 L479.19,409.65 L479.48,408.97 L479.77,408.44 L480.05,407.93 L480.34,407.43 L480.63,406.96 L480.92,406.52 L481.21,406.12 L481.49,405.77 L481.78,405.47 L482.07,405.23 L482.36,405.05 L482.65,404.95 L482.94,404.92 L483.22,404.94 L483.51,404.99 L483.80,405.06 L484.09,405.16 L484.38,405.28 L484.66,405.43 L484.95,405.60 L485.24,405.79 L485.53,406.01 L485.82,406.25 L486.11,406.51 L486.39,406.80 L486.68,407.10 L486.97,407.43 L487.26,407.86 L487.55,408.62 L487.83,409.65 L488.12,410.90 L488.41,412.30 L488.70,413.79 L488.99,415.33 L489.28,416.93 L489.56,418.78 L489.85,420.84 L490.14,423.06 L490.43,425.40 L490.72,427.81 L491.01,430.23 L491.29,432.78 L491.58,435.70 L491.87,438.83 L492.16,441.96 L492.45,444.91 L492.73,447.49 L493.02,449.49 L493.31,450.97 L493.60,452.39 L493.89,453.71 L494.18,454.88 L494.46,455.83 L494.75,456.48 L495.04,456.79 L495.33,456.78 L495.62,456.70 L495.90,456.56 L496.19,456.37 L496.48,456.15 L496.77,455.90 L497.06,455.64 L497.35,455.37 L497.63,455.11 L497.92,454.86 L498.21,454.64 L498.50,454.45 L498.79,454.31 L499.07,454.23 L499.36,454.21 L499.65,454.25 L499.94,454.33 L500.23,454.46 L500.52,454.63 L500.80,454.83 L501.09,455.07 L501.38,455.32 L501.67,455.60 L501.96,455.89 L502.24,456.20 L502.53,456.51 L502.82,456.83 L503.11,457.14 L503.40,457.45 L503.69,457.75 L503.97,458.04 L504.26,458.32 L504.55,458.64 L504.84,458.99 L505.13,459.37 L505.41,459.78 L505.70,460.19 L505.99,460.62 L506.28,461.04 L506.57,461.47 L506.86,461.88 L507.14,462.28 L507.43,462.65 L507.72,463.00 L508.01,463.31 L508.30,463.58 L508.58,463.81 L508.87,463.98 L509.16,464.10 L509.45,464.15 L509.74,464.11 L510.03,463.95 L510.31,463.69 L510.60,463.34 L510.89,462.92 L511.18,462.44 L511.47,461.92 L511.75,461.38 L512.04,460.83 L512.33,460.29 L512.62,459.77 L512.91,459.30 L513.20,458.88 L513.48,458.53 L513.77,458.28 L514.06,458.13 L514.35,458.11 L514.64,458.35 L514.93,458.86 L515.21,459.60 L515.50,460.51 L515.79,461.56 L516.08,462.71 L516.37,463.90 L516.65,465.11 L516.94,466.27 L517.23,467.36 L517.52,468.33 L517.81,469.14 L518.10,469.95 L518.38,470.79 L518.67,471.67 L518.96,472.55 L519.25,473.42 L519.54,474.27 L519.82,475.09 L520.11,475.85 L520.40,476.54 L520.69,477.15 L520.98,477.66 L521.27,478.05 L521.55,478.30 L521.84,478.42 L522.13,478.40 L522.42,478.33 L522.71,478.21 L522.99,478.05 L523.28,477.86 L523.57,477.65 L523.86,477.41 L524.15,477.17 L524.44,476.92 L524.72,476.67 L525.01,476.44 L525.30,476.21 L525.59,476.02 L525.88,475.85 L526.16,475.71 L526.45,475.58 L526.74,475.46 L527.03,475.34 L527.32,475.23 L527.61,475.12 L527.89,475.01 L528.18,474.91 L528.47,474.81 L528.76,474.70 L529.05,474.59 L529.33,474.48 L529.62,474.37 L529.91,474.25 L530.20,474.12 L530.49,473.98 L530.78,473.85 L531.06,473.72 L531.35,473.58 L531.64,473.44 L531.93,473.30 L532.22,473.16 L532.50,473.01 L532.79,472.85 L533.08,472.69 L533.37,472.52 L533.66,472.35 L533.95,472.16 L534.23,471.96 L534.52,471.76 L534.81,471.54 L535.10,471.28 L535.39,470.97 L535.67,470.59 L535.96,470.17 L536.25,469.70 L536.54,469.20 L536.83,468.68 L537.12,468.13 L537.40,467.58 L537.69,467.03 L537.98,466.49 L538.27,465.96 L538.56,465.46 L538.84,464.99 L539.13,464.56 L539.42,464.18 L539.71,463.85 L540.00,463.59 L540.29,463.41 L540.57,463.31 L540.86,463.29 L541.15,463.37 L541.44,463.51 L541.73,463.73 L542.02,463.98 L542.30,464.28 L542.59,464.59 L542.88,464.92 L543.17,465.24 L543.46,465.54 L543.74,465.81 L544.03,466.03 L544.32,466.20 L544.61,466.29 L544.90,466.30 L545.19,466.17 L545.47,465.91 L545.76,465.54 L546.05,465.07 L546.34,464.52 L546.63,463.91 L546.91,463.25 L547.20,462.58 L547.49,461.89 L547.78,461.22 L548.07,460.58 L548.36,459.99 L548.64,459.46 L548.93,459.01 L549.22,458.62 L549.51,458.21 L549.80,457.79 L550.08,457.38 L550.37,456.96 L550.66,456.56 L550.95,456.18 L551.24,455.82 L551.53,455.50 L551.81,455.21 L552.10,454.98 L552.39,454.80 L552.68,454.69 L552.97,454.64 L553.25,454.68 L553.54,454.81 L553.83,455.02 L554.12,455.29 L554.41,455.61 L554.70,455.96 L554.98,456.33 L555.27,456.70 L555.56,457.05 L555.85,457.38 L556.14,457.66 L556.42,457.89 L556.71,458.04 L557.00,458.10 L557.29,458.07 L557.58,457.98 L557.87,457.83 L558.15,457.64 L558.44,457.41 L558.73,457.16 L559.02,456.90 L559.31,456.63 L559.59,456.37 L559.88,456.12 L560.17,455.90 L560.46,455.72 L560.75,455.59 L561.04,455.52 L561.32,455.51 L561.61,455.61 L561.90,455.80 L562.19,456.07 L562.48,456.42 L562.76,456.83 L563.05,457.28 L563.34,457.78 L563.63,458.29 L563.92,458.83 L564.21,459.36 L564.49,459.89 L564.78,460.39 L565.07,460.87 L565.36,461.31 L565.65,461.80 L565.94,462.34 L566.22,462.92 L566.51,463.52 L566.80,464.11 L567.09,464.69 L567.38,465.23 L567.66,465.72 L567.95,466.13 L568.24,466.45 L568.53,466.66 L568.82,466.74 L569.11,466.65 L569.39,466.36 L569.68,465.90 L569.97,465.29 L570.26,464.58 L570.55,463.78 L570.83,462.94 L571.12,462.07 L571.41,461.21 L571.70,460.40 L571.99,459.65 L572.28,459.01 L572.56,458.41 L572.85,457.77 L573.14,457.11 L573.43,456.43 L573.72,455.74 L574.00,455.06 L574.29,454.39 L574.58,453.75 L574.87,453.14 L575.16,452.57 L575.45,452.07 L575.73,451.63 L576.02,451.26 L576.31,450.99 L576.60,450.81 L576.89,450.75 L577.17,450.79 L577.46,450.91 L577.75,451.11 L578.04,451.38 L578.33,451.70 L578.62,452.07 L578.90,452.48 L579.19,452.92 L579.48,453.38 L579.77,453.85 L580.06,454.32 L580.34,454.79 L580.63,455.24 L580.92,455.67 L581.21,456.06 L581.50,456.42 L581.79,456.72 L582.07,456.96 L582.36,457.13 L582.65,457.22 L582.94,457.23 L583.23,457.20 L583.51,457.15 L583.80,457.07 L584.09,456.97 L584.38,456.85 L584.67,456.72 L584.96,456.57 L585.24,456.41 L585.53,456.24 L585.82,456.07 L586.11,455.90 L586.40,455.73 L586.68,455.56 L586.97,455.40 L587.26,455.24 L587.55,455.10 L587.84,454.97 L588.13,454.86 L588.41,454.77 L588.70,454.70 L588.99,454.66 L589.28,454.64 L589.57,454.67 L589.85,454.78 L590.14,454.95 L590.43,455.18 L590.72,455.46 L591.01,455.79 L591.30,456.15 L591.58,456.56 L591.87,456.98 L592.16,457.44 L592.45,457.90 L592.74,458.38 L593.03,458.86 L593.31,459.34 L593.60,459.81 L593.89,460.27 L594.18,460.71 L594.47,461.12 L594.75,461.54 L595.04,462.02 L595.33,462.53 L595.62,463.08 L595.91,463.65 L596.20,464.23 L596.48,464.80 L596.77,465.36 L597.06,465.90 L597.35,466.40 L597.64,466.86 L597.92,467.25 L598.21,467.58 L598.50,467.83 L598.79,467.99 L599.08,468.04 L599.37,468.04 L599.65,468.01 L599.94,467.97 L600.23,467.91 L600.52,467.82 L600.81,467.71 L601.09,467.57 L601.38,467.39 L601.67,467.18 L601.96,466.93 L602.25,466.64 L602.54,466.31 L602.82,465.93 L603.11,465.50 L603.40,465.02" stroke="#0A845A"/>
<path d="M171.40,486.20 L171.69,486.20 L171.98,486.20 L172.26,486.20 L172.55,486.20 L172.84,486.20 L173.13,486.20 L173.42,486.20 L173.71,486.20 L173.99,486.20 L174.28,486.20 L174.57,486.20 L174.86,486.20 L175.15,486.20 L175.43,486.20 L175.72,486.20 L176.01,486.20 L176.30,486.20 L176.59,486.20 L176.88,486.20 L177.16,486.20 L177.45,486.20 L177.74,486.20 L178.03,486.20 L178.32,486.20 L178.60,486.20 L178.89,486.20 L179.18,486.20 L179.47,486.20 L179.76,486.20 L180.05,486.20 L180.33,486.20 L180.62,486.20 L180.91,486.20 L181.20,486.20 L181.49,486.20 L181.77,486.20 L182.06,486.20 L182.35,486.20 L182.64,486.20 L182.93,486.20 L183.22,486.20 L183.50,486.20 L183.79,486.20 L184.08,486.20 L184.37,486.20 L184.66,486.20 L184.95,486.20 L185.23,486.20 L185.52,486.20 L185.81,486.20 L186.10,486.20 L186.39,486.20 L186.67,486.20 L186.96,486.20 L187.25,486.20 L187.54,486.20 L187.83,486.20 L188.12,486.20 L188.40,486.20 L188.69,486.20 L188.98,486.20 L189.27,486.20 L189.56,486.20 L189.84,486.20 L190.13,486.20 L190.42,486.20 L190.71,486.20 L191.00,486.20 L191.29,486.20 L191.57,486.20 L191.86,486.20 L192.15,486.20 L192.44,486.20 L192.73,486.20 L193.01,486.20 L193.30,486.20 L193.59,486.20 L193.88,486.21 L194.17,486.25 L194.46,486.34 L194.74,486.46 L195.03,486.62 L195.32,486.81 L195.61,487.01 L195.90,487.25 L196.18,487.49 L196.47,487.75 L196.76,488.02 L197.05,488.30 L197.34,488.57 L197.63,488.85 L197.91,489.11 L198.20,489.38 L198.49,489.72 L198.78,490.11 L199.07,490.55 L199.35,491.01 L199.64,491.47 L199.93,491.93 L200.22,492.36 L200.51,492.75 L200.80,493.08 L201.08,493.34 L201.37,493.50 L201.66,493.55 L201.95,493.36 L202.24,492.91 L202.52,492.27 L202.81,491.52 L203.10,490.74 L203.39,490.01 L203.68,489.42 L203.97,488.99 L204.25,488.57 L204.54,488.16 L204.83,487.75 L205.12,487.36 L205.41,487.01 L205.69,486.71 L205.98,486.47 L206.27,486.30 L206.56,486.21 L206.85,486.20 L207.14,486.20 L207.42,486.20 L207.71,486.20 L208.00,486.20 L208.29,486.20 L208.58,486.20 L208.86,486.20 L209.15,486.20 L209.44,486.20 L209.73,486.20 L210.02,486.20 L210.31,486.20 L210.59,486.20 L210.88,486.20 L211.17,486.20 L211.46,486.20 L211.75,486.20 L212.04,486.20 L212.32,486.20 L212.61,486.20 L212.90,486.20 L213.19,486.20 L213.48,486.20 L213.76,486.20 L214.05,486.20 L214.34,486.20 L214.63,486.20 L214.92,486.20 L215.21,486.20 L215.49,486.20 L215.78,486.20 L216.07,486.20 L216.36,486.20 L216.65,486.20 L216.93,486.20 L217.22,486.20 L217.51,486.20 L217.80,486.20 L218.09,486.20 L218.38,486.20 L218.66,486.20 L218.95,486.20 L219.24,486.20 L219.53,486.20 L219.82,486.20 L220.10,486.20 L220.39,486.20 L220.68,486.20 L220.97,486.20 L221.26,486.20 L221.55,486.20 L221.83,486.20 L222.12,486.20 L222.41,486.20 L222.70,486.20 L222.99,486.20 L223.27,486.20 L223.56,486.20 L223.85,486.20 L224.14,486.20 L224.43,486.20 L224.72,486.20 L225.00,486.20 L225.29,486.20 L225.58,486.20 L225.87,486.20 L226.16,486.20 L226.44,486.20 L226.73,486.20 L227.02,486.20 L227.31,486.20 L227.60,486.20 L227.89,486.20 L228.17,486.20 L228.46,486.20 L228.75,486.20 L229.04,486.20 L229.33,486.20 L229.61,486.20 L229.90,486.20 L230.19,486.20 L230.48,486.20 L230.77,486.21 L231.06,486.24 L231.34,486.27 L231.63,486.33 L231.92,486.39 L232.21,486.46 L232.50,486.54 L232.78,486.63 L233.07,486.72 L233.36,486.82 L233.65,486.92 L233.94,487.03 L234.23,487.13 L234.51,487.23 L234.80,487.34 L235.09,487.43 L235.38,487.52 L235.67,487.61 L235.96,487.69 L236.24,487.76 L236.53,487.82 L236.82,487.87 L237.11,487.90 L237.40,487.92 L237.68,487.93 L237.97,487.92 L238.26,487.90 L238.55,487.88 L238.84,487.84 L239.13,487.79 L239.41,487.74 L239.70,487.68 L239.99,487.62 L240.28,487.54 L240.57,487.47 L240.85,487.39 L241.14,487.31 L241.43,487.22 L241.72,487.14 L242.01,487.05 L242.30,486.96 L242.58,486.88 L242.87,486.80 L243.16,486.71 L243.45,486.64 L243.74,486.56 L244.02,486.49 L244.31,486.43 L244.60,486.37 L244.89,486.32 L245.18,486.28 L245.47,486.24 L245.75,486.22 L246.04,486.20 L246.33,486.20 L246.62,486.20 L246.91,486.20 L247.19,486.20 L247.48,486.20 L247.77,486.20 L248.06,486.20 L248.35,486.20 L248.64,486.20 L248.92,486.20 L249.21,486.20 L249.50,486.20 L249.79,486.20 L250.08,486.20 L250.36,486.20 L250.65,486.20 L250.94,486.20 L251.23,486.20 L251.52,486.20 L251.81,486.20 L252.09,486.20 L252.38,486.20 L252.67,486.20 L252.96,486.20 L253.25,486.20 L253.53,486.20 L253.82,486.20 L254.11,486.20 L254.40,486.20 L254.69,486.20 L254.98,486.20 L255.26,486.20 L255.55,486.20 L255.84,486.20 L256.13,486.20 L256.42,486.20 L256.70,486.20 L256.99,486.20 L257.28,486.20 L257.57,486.20 L257.86,486.20 L258.15,486.20 L258.43,486.20 L258.72,486.20 L259.01,486.20 L259.30,486.20 L259.59,486.20 L259.87,486.20 L260.16,486.20 L260.45,486.20 L260.74,486.20 L261.03,486.20 L261.32,486.20 L261.60,486.20 L261.89,486.20 L262.18,486.20 L262.47,486.20 L262.76,486.20 L263.05,486.20 L263.33,486.20 L263.62,486.20 L263.91,486.20 L264.20,486.20 L264.49,486.20 L264.77,486.20 L265.06,486.20 L265.35,486.20 L265.64,486.20 L265.93,486.20 L266.22,486.20 L266.50,486.20 L266.79,486.20 L267.08,486.20 L267.37,486.20 L267.66,486.20 L267.94,486.20 L268.23,486.20 L268.52,486.20 L268.81,486.20 L269.10,486.20 L269.39,486.20 L269.67,486.20 L269.96,486.20 L270.25,486.20 L270.54,486.20 L270.83,486.20 L271.11,486.20 L271.40,486.20 L271.69,486.20 L271.98,486.20 L272.27,486.20 L272.56,486.20 L272.84,486.20 L273.13,486.20 L273.42,486.20 L273.71,486.20 L274.00,486.20 L274.28,486.20 L274.57,486.20 L274.86,486.20 L275.15,486.20 L275.44,486.20 L275.73,486.20 L276.01,486.20 L276.30,486.20 L276.59,486.20 L276.88,486.20 L277.17,486.20 L277.45,486.20 L277.74,486.20 L278.03,486.20 L278.32,486.20 L278.61,486.20 L278.90,486.20 L279.18,486.20 L279.47,486.20 L279.76,486.20 L280.05,486.20 L280.34,486.20 L280.62,486.20 L280.91,486.20 L281.20,486.20 L281.49,486.20 L281.78,486.20 L282.07,486.20 L282.35,486.20 L282.64,486.20 L282.93,486.20 L283.22,486.20 L283.51,486.20 L283.79,486.20 L284.08,486.20 L284.37,486.20 L284.66,486.20 L284.95,486.20 L285.24,486.20 L285.52,486.20 L285.81,486.20 L286.10,486.20 L286.39,486.20 L286.68,486.20 L286.97,486.20 L287.25,486.20 L287.54,486.20 L287.83,486.20 L288.12,486.20 L288.41,486.20 L288.69,486.20 L288.98,486.20 L289.27,486.20 L289.56,486.20 L289.85,486.20 L290.14,486.20 L290.42,486.20 L290.71,486.20 L291.00,486.20 L291.29,486.20 L291.58,486.20 L291.86,486.20 L292.15,486.20 L292.44,486.20 L292.73,486.20 L293.02,486.20 L293.31,486.20 L293.59,486.20 L293.88,486.20 L294.17,486.20 L294.46,486.20 L294.75,486.20 L295.03,486.20 L295.32,486.20 L295.61,486.20 L295.90,486.20 L296.19,486.20 L296.48,486.20 L296.76,486.20 L297.05,486.20 L297.34,486.20 L297.63,486.20 L297.92,486.20 L298.20,486.20 L298.49,486.20 L298.78,486.20 L299.07,486.20 L299.36,486.20 L299.65,486.20 L299.93,486.20 L300.22,486.20 L300.51,486.20 L300.80,486.20 L301.09,486.20 L301.37,486.20 L301.66,486.20 L301.95,486.20 L302.24,486.20 L302.53,486.20 L302.82,486.20 L303.10,486.21 L303.39,486.22 L303.68,486.26 L303.97,486.31 L304.26,486.36 L304.54,486.43 L304.83,486.51 L305.12,486.60 L305.41,486.69 L305.70,486.79 L305.99,486.90 L306.27,487.01 L306.56,487.12 L306.85,487.23 L307.14,487.34 L307.43,487.46 L307.71,487.57 L308.00,487.68 L308.29,487.78 L308.58,487.88 L308.87,487.98 L309.16,488.06 L309.44,488.14 L309.73,488.21 L310.02,488.26 L310.31,488.31 L310.60,488.34 L310.88,488.36 L311.17,488.36 L311.46,488.35 L311.75,488.34 L312.04,488.31 L312.33,488.28 L312.61,488.24 L312.90,488.19 L313.19,488.14 L313.48,488.08 L313.77,488.01 L314.06,487.94 L314.34,487.87 L314.63,487.79 L314.92,487.71 L315.21,487.62 L315.50,487.54 L315.78,487.45 L316.07,487.36 L316.36,487.27 L316.65,487.18 L316.94,487.10 L317.23,487.01 L317.51,486.92 L317.80,486.84 L318.09,486.76 L318.38,486.68 L318.67,486.61 L318.95,486.54 L319.24,486.48 L319.53,486.42 L319.82,486.36 L320.11,486.32 L320.40,486.28 L320.68,486.25 L320.97,486.22 L321.26,486.21 L321.55,486.20 L321.84,486.20 L322.12,486.20 L322.41,486.20 L322.70,486.20 L322.99,486.20 L323.28,486.20 L323.57,486.20 L323.85,486.20 L324.14,486.20 L324.43,486.20 L324.72,486.20 L325.01,486.20 L325.29,486.20 L325.58,486.21 L325.87,486.28 L326.16,486.45 L326.45,486.69 L326.74,487.01 L327.02,487.40 L327.31,487.85 L327.60,488.35 L327.89,488.91 L328.18,489.51 L328.46,490.14 L328.75,490.81 L329.04,491.50 L329.33,492.22 L329.62,492.95 L329.91,493.68 L330.19,494.42 L330.48,495.15 L330.77,495.87 L331.06,496.58 L331.35,497.26 L331.63,497.91 L331.92,498.54 L332.21,499.19 L332.50,499.87 L332.79,500.59 L333.08,501.33 L333.36,502.10 L333.65,502.88 L333.94,503.66 L334.23,504.45 L334.52,505.24 L334.80,506.03 L335.09,506.80 L335.38,507.55 L335.67,508.28 L335.96,508.98 L336.25,509.65 L336.53,510.28 L336.82,510.86 L337.11,511.40 L337.40,511.88 L337.69,512.30 L337.98,512.71 L338.26,513.13 L338.55,513.55 L338.84,513.96 L339.13,514.37 L339.42,514.75 L339.70,515.12 L339.99,515.47 L340.28,515.79 L340.57,516.08 L340.86,516.33 L341.15,516.54 L341.43,516.70 L341.72,516.82 L342.01,516.88 L342.30,516.89 L342.59,516.83 L342.87,516.70 L343.16,516.52 L343.45,516.29 L343.74,516.02 L344.03,515.71 L344.32,515.37 L344.60,515.02 L344.89,514.64 L345.18,514.26 L345.47,513.87 L345.76,513.49 L346.04,513.13 L346.33,512.78 L346.62,512.46 L346.91,512.17 L347.20,511.91 L347.49,511.67 L347.77,511.44 L348.06,511.23 L348.35,511.01 L348.64,510.80 L348.93,510.57 L349.21,510.34 L349.50,510.08 L349.79,509.80 L350.08,509.49 L350.37,509.14 L350.66,508.74 L350.94,508.24 L351.23,507.67 L351.52,507.04 L351.81,506.35 L352.10,505.62 L352.38,504.85 L352.67,504.07 L352.96,503.28 L353.25,502.49 L353.54,501.71 L353.83,500.96 L354.11,500.19 L354.40,499.35 L354.69,498.47 L354.98,497.56 L355.27,496.63 L355.55,495.72 L355.84,494.82 L356.13,493.98 L356.42,493.20 L356.71,492.50 L357.00,491.90 L357.28,491.42 L357.57,491.02 L357.86,490.64 L358.15,490.27 L358.44,489.92 L358.72,489.59 L359.01,489.28 L359.30,488.98 L359.59,488.70 L359.88,488.44 L360.17,488.20 L360.45,487.97 L360.74,487.77 L361.03,487.58 L361.32,487.41 L361.61,487.26 L361.89,487.13 L362.18,487.02 L362.47,486.91 L362.76,486.80 L363.05,486.70 L363.34,486.60 L363.62,486.51 L363.91,486.43 L364.20,486.36 L364.49,486.30 L364.78,486.25 L365.07,486.22 L365.35,486.20 L365.64,486.20 L365.93,486.20 L366.22,486.20 L366.51,486.20 L366.79,486.20 L367.08,486.20 L367.37,486.20 L367.66,486.20 L367.95,486.20 L368.24,486.20 L368.52,486.20 L368.81,486.20 L369.10,486.20 L369.39,486.20 L369.68,486.20 L369.96,486.20 L370.25,486.20 L370.54,486.20 L370.83,486.20 L371.12,486.20 L371.41,486.20 L371.69,486.20 L371.98,486.20 L372.27,486.20 L372.56,486.20 L372.85,486.20 L373.13,486.20 L373.42,486.20 L373.71,486.20 L374.00,486.20 L374.29,486.20 L374.58,486.20 L374.86,486.20 L375.15,486.20 L375.44,486.20 L375.73,486.20 L376.02,486.20 L376.30,486.20 L376.59,486.20 L376.88,486.20 L377.17,486.20 L377.46,486.20 L377.75,486.20 L378.03,486.20 L378.32,486.20 L378.61,486.20 L378.90,486.20 L379.19,486.20 L379.47,486.20 L379.76,486.20 L380.05,486.20 L380.34,486.20 L380.63,486.20 L380.92,486.20 L381.20,486.20 L381.49,486.20 L381.78,486.20 L382.07,486.20 L382.36,486.20 L382.64,486.20 L382.93,486.20 L383.22,486.20 L383.51,486.20 L383.80,486.20 L384.09,486.20 L384.37,486.20 L384.66,486.20 L384.95,486.20 L385.24,486.20 L385.53,486.20 L385.81,486.20 L386.10,486.20 L386.39,486.20 L386.68,486.20 L386.97,486.20 L387.26,486.20 L387.54,486.20 L387.83,486.20 L388.12,486.20 L388.41,486.20 L388.70,486.20 L388.99,486.20 L389.27,486.20 L389.56,486.20 L389.85,486.20 L390.14,486.20 L390.43,486.20 L390.71,486.20 L391.00,486.20 L391.29,486.20 L391.58,486.20 L391.87,486.20 L392.16,486.20 L392.44,486.20 L392.73,486.20 L393.02,486.20 L393.31,486.20 L393.60,486.20 L393.88,486.20 L394.17,486.20 L394.46,486.20 L394.75,486.20 L395.04,486.20 L395.33,486.20 L395.61,486.20 L395.90,486.20 L396.19,486.20 L396.48,486.20 L396.77,486.20 L397.05,486.20 L397.34,486.20 L397.63,486.20 L397.92,486.20 L398.21,486.20 L398.50,486.20 L398.78,486.20 L399.07,486.20 L399.36,486.20 L399.65,486.20 L399.94,486.20 L400.22,486.20 L400.51,486.20 L400.80,486.20 L401.09,486.20 L401.38,486.20 L401.67,486.20 L401.95,486.20 L402.24,486.20 L402.53,486.20 L402.82,486.20 L403.11,486.20 L403.39,486.20 L403.68,486.20 L403.97,486.20 L404.26,486.20 L404.55,486.20 L404.84,486.20 L405.12,486.20 L405.41,486.20 L405.70,486.20 L405.99,486.20 L406.28,486.20 L406.56,486.20 L406.85,486.20 L407.14,486.20 L407.43,486.20 L407.72,486.20 L408.01,486.20 L408.29,486.20 L408.58,486.20 L408.87,486.20 L409.16,486.23 L409.45,486.40 L409.73,486.73 L410.02,487.21 L410.31,487.82 L410.60,488.55 L410.89,489.40 L411.18,490.35 L411.46,491.38 L411.75,492.50 L412.04,493.69 L412.33,494.94 L412.62,496.23 L412.91,497.56 L413.19,498.92 L413.48,500.29 L413.77,501.77 L414.06,503.77 L414.35,506.21 L414.63,508.98 L414.92,511.95 L415.21,514.97 L415.50,517.93 L415.79,520.69 L416.08,523.12 L416.36,525.09 L416.65,526.48 L416.94,527.56 L417.23,528.62 L417.52,529.63 L417.80,530.59 L418.09,531.48 L418.38,532.30 L418.67,533.04 L418.96,533.68 L419.25,534.21 L419.53,534.62 L419.82,534.90 L420.11,535.04 L420.40,535.04 L420.69,534.93 L420.97,534.75 L421.26,534.49 L421.55,534.16 L421.84,533.79 L422.13,533.38 L422.42,532.94 L422.70,532.48 L422.99,532.01 L423.28,531.55 L423.57,531.11 L423.86,530.70 L424.14,530.26 L424.43,529.78 L424.72,529.27 L425.01,528.74 L425.30,528.20 L425.59,527.67 L425.87,527.15 L426.16,526.66 L426.45,526.22 L426.74,525.83 L427.03,525.52 L427.31,525.23 L427.60,524.94 L427.89,524.65 L428.18,524.38 L428.47,524.12 L428.76,523.90 L429.04,523.70 L429.33,523.55 L429.62,523.44 L429.91,523.39 L430.20,523.41 L430.48,523.60 L430.77,523.92 L431.06,524.34 L431.35,524.83 L431.64,525.36 L431.93,525.88 L432.21,526.37 L432.50,526.79 L432.79,527.10 L433.08,527.28 L433.37,527.40 L433.65,527.51 L433.94,527.61 L434.23,527.71 L434.52,527.80 L434.81,527.88 L435.10,527.95 L435.38,528.01 L435.67,528.06 L435.96,528.10 L436.25,528.12 L436.54,528.13 L436.82,528.12 L437.11,528.05 L437.40,527.93 L437.69,527.76 L437.98,527.56 L438.27,527.32 L438.55,527.07 L438.84,526.79 L439.13,526.52 L439.42,526.24 L439.71,525.98 L440.00,525.74 L440.28,525.52 L440.57,525.31 L440.86,525.11 L441.15,524.91 L441.44,524.71 L441.72,524.51 L442.01,524.30 L442.30,524.10 L442.59,523.89 L442.88,523.68 L443.17,523.46 L443.45,523.24 L443.74,523.03 L444.03,522.83 L444.32,522.63 L444.61,522.43 L444.89,522.22 L445.18,522.01 L445.47,521.78 L445.76,521.53 L446.05,521.27 L446.34,520.98 L446.62,520.66 L446.91,520.30 L447.20,519.86 L447.49,519.30 L447.78,518.65 L448.06,517.94 L448.35,517.19 L448.64,516.41 L448.93,515.64 L449.22,514.90 L449.51,514.20 L449.79,513.49 L450.08,512.74 L450.37,511.96 L450.66,511.19 L450.95,510.44 L451.23,509.74 L451.52,509.12 L451.81,508.60 L452.10,508.20 L452.39,507.84 L452.68,507.49 L452.96,507.18 L453.25,506.90 L453.54,506.69 L453.83,506.56 L454.12,506.52 L454.40,506.58 L454.69,506.71 L454.98,506.89 L455.27,507.12 L455.56,507.36 L455.85,507.61 L456.13,507.84 L456.42,508.03 L456.71,508.17 L457.00,508.24 L457.29,508.21 L457.57,507.99 L457.86,507.63 L458.15,507.15 L458.44,506.58 L458.73,505.96 L459.02,505.32 L459.30,504.69 L459.59,504.10 L459.88,503.56 L460.17,502.99 L460.46,502.38 L460.74,501.74 L461.03,501.10 L461.32,500.47 L461.61,499.85 L461.90,499.26 L462.19,498.72 L462.47,498.23 L462.76,497.80 L463.05,497.40 L463.34,496.98 L463.63,496.57 L463.92,496.17 L464.20,495.80 L464.49,495.48 L464.78,495.21 L465.07,495.00 L465.36,494.88 L465.64,494.85 L465.93,495.09 L466.22,495.62 L466.51,496.43 L466.80,497.45 L467.09,498.64 L467.37,499.96 L467.66,501.37 L467.95,502.82 L468.24,504.27 L468.53,505.67 L468.81,507.04 L469.10,508.55 L469.39,510.18 L469.68,511.91 L469.97,513.72 L470.26,515.56 L470.54,517.43 L470.83,519.28 L471.12,521.10 L471.41,522.85 L471.70,524.60 L471.98,526.36 L472.27,528.14 L472.56,529.91 L472.85,531.67 L473.14,533.42 L473.43,535.14 L473.71,536.82 L474.00,538.46 L474.29,540.06 L474.58,541.66 L474.87,543.23 L475.15,544.78 L475.44,546.31 L475.73,547.79 L476.02,549.24 L476.31,550.63 L476.60,551.97 L476.88,553.27 L477.17,554.60 L477.46,555.94 L477.75,557.27 L478.04,558.55 L478.32,559.77 L478.61,560.89 L478.90,561.89 L479.19,562.75 L479.48,563.43 L479.77,563.96 L480.05,564.47 L480.34,564.97 L480.63,565.44 L480.92,565.88 L481.21,566.28 L481.49,566.63 L481.78,566.93 L482.07,567.17 L482.36,567.35 L482.65,567.45 L482.94,567.48 L483.22,567.46 L483.51,567.41 L483.80,567.34 L484.09,567.24 L484.38,567.12 L484.66,566.97 L484.95,566.80 L485.24,566.61 L485.53,566.39 L485.82,566.15 L486.11,565.89 L486.39,565.60 L486.68,565.30 L486.97,564.97 L487.26,564.54 L487.55,563.78 L487.83,562.75 L488.12,561.50 L488.41,560.10 L488.70,558.61 L488.99,557.07 L489.28,555.47 L489.56,553.62 L489.85,551.56 L490.14,549.34 L490.43,547.00 L490.72,544.59 L491.01,542.17 L491.29,539.62 L491.58,536.70 L491.87,533.57 L492.16,530.44 L492.45,527.49 L492.73,524.91 L493.02,522.91 L493.31,521.43 L493.60,520.01 L493.89,518.69 L494.18,517.52 L494.46,516.57 L494.75,515.92 L495.04,515.61 L495.33,515.62 L495.62,515.70 L495.90,515.84 L496.19,516.03 L496.48,516.25 L496.77,516.50 L497.06,516.76 L497.35,517.03 L497.63,517.29 L497.92,517.54 L498.21,517.76 L498.50,517.95 L498.79,518.09 L499.07,518.17 L499.36,518.19 L499.65,518.15 L499.94,518.07 L500.23,517.94 L500.52,517.77 L500.80,517.57 L501.09,517.33 L501.38,517.08 L501.67,516.80 L501.96,516.51 L502.24,516.20 L502.53,515.89 L502.82,515.57 L503.11,515.26 L503.40,514.95 L503.69,514.65 L503.97,514.36 L504.26,514.08 L504.55,513.76 L504.84,513.41 L505.13,513.03 L505.41,512.62 L505.70,512.21 L505.99,511.78 L506.28,511.36 L506.57,510.93 L506.86,510.52 L507.14,510.12 L507.43,509.75 L507.72,509.40 L508.01,509.09 L508.30,508.82 L508.58,508.59 L508.87,508.42 L509.16,508.30 L509.45,508.25 L509.74,508.29 L510.03,508.45 L510.31,508.71 L510.60,509.06 L510.89,509.48 L511.18,509.96 L511.47,510.48 L511.75,511.02 L512.04,511.57 L512.33,512.11 L512.62,512.63 L512.91,513.10 L513.20,513.52 L513.48,513.87 L513.77,514.12 L514.06,514.27 L514.35,514.29 L514.64,514.05 L514.93,513.54 L515.21,512.80 L515.50,511.89 L515.79,510.84 L516.08,509.69 L516.37,508.50 L516.65,507.29 L516.94,506.13 L517.23,505.04 L517.52,504.07 L517.81,503.26 L518.10,502.45 L518.38,501.61 L518.67,500.73 L518.96,499.85 L519.25,498.98 L519.54,498.13 L519.82,497.31 L520.11,496.55 L520.40,495.86 L520.69,495.25 L520.98,494.74 L521.27,494.35 L521.55,494.10 L521.84,493.98 L522.13,494.00 L522.42,494.07 L522.71,494.19 L522.99,494.35 L523.28,494.54 L523.57,494.75 L523.86,494.99 L524.15,495.23 L524.44,495.48 L524.72,495.73 L525.01,495.96 L525.30,496.19 L525.59,496.38 L525.88,496.55 L526.16,496.69 L526.45,496.82 L526.74,496.94 L527.03,497.06 L527.32,497.17 L527.61,497.28 L527.89,497.39 L528.18,497.49 L528.47,497.59 L528.76,497.70 L529.05,497.81 L529.33,497.92 L529.62,498.03 L529.91,498.15 L530.20,498.28 L530.49,498.42 L530.78,498.55 L531.06,498.68 L531.35,498.82 L531.64,498.96 L531.93,499.10 L532.22,499.24 L532.50,499.39 L532.79,499.55 L533.08,499.71 L533.37,499.88 L533.66,500.05 L533.95,500.24 L534.23,500.44 L534.52,500.64 L534.81,500.86 L535.10,501.12 L535.39,501.43 L535.67,501.81 L535.96,502.23 L536.25,502.70 L536.54,503.20 L536.83,503.72 L537.12,504.27 L537.40,504.82 L537.69,505.37 L537.98,505.91 L538.27,506.44 L538.56,506.94 L538.84,507.41 L539.13,507.84 L539.42,508.22 L539.71,508.55 L540.00,508.81 L540.29,508.99 L540.57,509.09 L540.86,509.11 L541.15,509.03 L541.44,508.89 L541.73,508.67 L542.02,508.42 L542.30,508.12 L542.59,507.81 L542.88,507.48 L543.17,507.16 L543.46,506.86 L543.74,506.59 L544.03,506.37 L544.32,506.20 L544.61,506.11 L544.90,506.10 L545.19,506.23 L545.47,506.49 L545.76,506.86 L546.05,507.33 L546.34,507.88 L546.63,508.49 L546.91,509.15 L547.20,509.82 L547.49,510.51 L547.78,511.18 L548.07,511.82 L548.36,512.41 L548.64,512.94 L548.93,513.39 L549.22,513.78 L549.51,514.19 L549.80,514.61 L550.08,515.02 L550.37,515.44 L550.66,515.84 L550.95,516.22 L551.24,516.58 L551.53,516.90 L551.81,517.19 L552.10,517.42 L552.39,517.60 L552.68,517.71 L552.97,517.76 L553.25,517.72 L553.54,517.59 L553.83,517.38 L554.12,517.11 L554.41,516.79 L554.70,516.44 L554.98,516.07 L555.27,515.70 L555.56,515.35 L555.85,515.02 L556.14,514.74 L556.42,514.51 L556.71,514.36 L557.00,514.30 L557.29,514.33 L557.58,514.42 L557.87,514.57 L558.15,514.76 L558.44,514.99 L558.73,515.24 L559.02,515.50 L559.31,515.77 L559.59,516.03 L559.88,516.28 L560.17,516.50 L560.46,516.68 L560.75,516.81 L561.04,516.88 L561.32,516.89 L561.61,516.79 L561.90,516.60 L562.19,516.33 L562.48,515.98 L562.76,515.57 L563.05,515.12 L563.34,514.62 L563.63,514.11 L563.92,513.57 L564.21,513.04 L564.49,512.51 L564.78,512.01 L565.07,511.53 L565.36,511.09 L565.65,510.60 L565.94,510.06 L566.22,509.48 L566.51,508.88 L566.80,508.29 L567.09,507.71 L567.38,507.17 L567.66,506.68 L567.95,506.27 L568.24,505.95 L568.53,505.74 L568.82,505.66 L569.11,505.75 L569.39,506.04 L569.68,506.50 L569.97,507.11 L570.26,507.82 L570.55,508.62 L570.83,509.46 L571.12,510.33 L571.41,511.19 L571.70,512.00 L571.99,512.75 L572.28,513.39 L572.56,513.99 L572.85,514.63 L573.14,515.29 L573.43,515.97 L573.72,516.66 L574.00,517.34 L574.29,518.01 L574.58,518.65 L574.87,519.26 L575.16,519.83 L575.45,520.33 L575.73,520.77 L576.02,521.14 L576.31,521.41 L576.60,521.59 L576.89,521.65 L577.17,521.61 L577.46,521.49 L577.75,521.29 L578.04,521.02 L578.33,520.70 L578.62,520.33 L578.90,519.92 L579.19,519.48 L579.48,519.02 L579.77,518.55 L580.06,518.08 L580.34,517.61 L580.63,517.16 L580.92,516.73 L581.21,516.34 L581.50,515.98 L581.79,515.68 L582.07,515.44 L582.36,515.27 L582.65,515.18 L582.94,515.17 L583.23,515.20 L583.51,515.25 L583.80,515.33 L584.09,515.43 L584.38,515.55 L584.67,515.68 L584.96,515.83 L585.24,515.99 L585.53,516.16 L585.82,516.33 L586.11,516.50 L586.40,516.67 L586.68,516.84 L586.97,517.00 L587.26,517.16 L587.55,517.30 L587.84,517.43 L588.13,517.54 L588.41,517.63 L588.70,517.70 L588.99,517.74 L589.28,517.76 L589.57,517.73 L589.85,517.62 L590.14,517.45 L590.43,517.22 L590.72,516.94 L591.01,516.61 L591.30,516.25 L591.58,515.84 L591.87,515.42 L592.16,514.96 L592.45,514.50 L592.74,514.02 L593.03,513.54 L593.31,513.06 L593.60,512.59 L593.89,512.13 L594.18,511.69 L594.47,511.28 L594.75,510.86 L595.04,510.38 L595.33,509.87 L595.62,509.32 L595.91,508.75 L596.20,508.17 L596.48,507.60 L596.77,507.04 L597.06,506.50 L597.35,506.00 L597.64,505.54 L597.92,505.15 L598.21,504.82 L598.50,504.57 L598.79,504.41 L599.08,504.36 L599.37,504.36 L599.65,504.39 L599.94,504.43 L600.23,504.49 L600.52,504.58 L600.81,504.69 L601.09,504.83 L601.38,505.01 L601.67,505.22 L601.96,505.47 L602.25,505.76 L602.54,506.09 L602.82,506.47 L603.11,506.90 L603.40,507.38" stroke="#0A845A"/>
<path d="M171.40,486.20 L171.69,486.20 L171.98,486.20 L172.26,486.20 L172.55,486.20 L172.84,486.20 L173.13,486.20 L173.42,486.20 L173.71,486.20 L173.99,486.20 L174.28,486.20 L174.57,486.20 L174.86,486.20 L175.15,486.20 L175.43,486.20 L175.72,486.20 L176.01,486.20 L176.30,486.20 L176.59,486.20 L176.88,486.20 L177.16,486.20 L177.45,486.20 L177.74,486.20 L178.03,486.20 L178.32,486.20 L178.60,486.20 L178.89,486.20 L179.18,486.20 L179.47,486.20 L179.76,486.20 L180.05,486.20 L180.33,486.20 L180.62,486.20 L180.91,486.20 L181.20,486.20 L181.49,486.20 L181.77,486.20 L182.06,486.20 L182.35,486.20 L182.64,486.20 L182.93,486.20 L183.22,486.20 L183.50,486.20 L183.79,486.20 L184.08,486.20 L184.37,486.20 L184.66,486.20 L184.95,486.20 L185.23,486.20 L185.52,486.20 L185.81,486.20 L186.10,486.20 L186.39,486.20 L186.67,486.20 L186.96,486.20 L187.25,486.20 L187.54,486.20 L187.83,486.20 L188.12,486.20 L188.40,486.20 L188.69,486.20 L188.98,486.20 L189.27,486.20 L189.56,486.20 L189.84,486.20 L190.13,486.20 L190.42,486.20 L190.71,486.20 L191.00,486.20 L191.29,486.20 L191.57,486.20 L191.86,486.20 L192.15,486.20 L192.44,486.20 L192.73,486.20 L193.01,486.20 L193.30,486.16 L193.59,486.07 L193.88,485.91 L194.17,485.70 L194.46,485.45 L194.74,485.15 L195.03,484.82 L195.32,484.46 L195.61,484.06 L195.90,483.65 L196.18,483.22 L196.47,482.77 L196.76,482.32 L197.05,481.87 L197.34,481.42 L197.63,480.87 L197.91,480.17 L198.20,479.34 L198.49,478.41 L198.78,477.41 L199.07,476.38 L199.35,475.33 L199.64,474.30 L199.93,473.31 L200.22,472.40 L200.51,471.60 L200.80,470.92 L201.08,470.41 L201.37,470.09 L201.66,469.99 L201.95,470.12 L202.24,470.47 L202.52,471.01 L202.81,471.70 L203.10,472.52 L203.39,473.45 L203.68,474.44 L203.97,475.47 L204.25,476.52 L204.54,477.56 L204.83,478.55 L205.12,479.46 L205.41,480.27 L205.69,480.96 L205.98,481.48 L206.27,481.93 L206.56,482.39 L206.85,482.84 L207.14,483.28 L207.42,483.71 L207.71,484.12 L208.00,484.51 L208.29,484.87 L208.58,485.20 L208.86,485.49 L209.15,485.74 L209.44,485.94 L209.73,486.08 L210.02,486.17 L210.31,486.20 L210.59,486.20 L210.88,486.20 L211.17,486.20 L211.46,486.20 L211.75,486.20 L212.04,486.20 L212.32,486.20 L212.61,486.20 L212.90,486.20 L213.19,486.20 L213.48,486.20 L213.76,486.20 L214.05,486.20 L214.34,486.20 L214.63,486.20 L214.92,486.20 L215.21,486.20 L215.49,486.20 L215.78,486.20 L216.07,486.20 L216.36,486.20 L216.65,486.20 L216.93,486.20 L217.22,486.20 L217.51,486.20 L217.80,486.20 L218.09,486.20 L218.38,486.20 L218.66,486.20 L218.95,486.20 L219.24,486.20 L219.53,486.20 L219.82,486.20 L220.10,486.20 L220.39,486.20 L220.68,486.19 L220.97,486.15 L221.26,486.09 L221.55,486.01 L221.83,485.91 L222.12,485.78 L222.41,485.64 L222.70,485.48 L222.99,485.30 L223.27,485.09 L223.56,484.87 L223.85,484.37 L224.14,483.45 L224.43,482.15 L224.72,480.50 L225.00,478.53 L225.29,476.27 L225.58,473.76 L225.87,471.03 L226.16,468.12 L226.44,465.05 L226.73,461.42 L227.02,456.92 L227.31,451.45 L227.60,444.93 L227.89,437.26 L228.17,428.35 L228.46,418.11 L228.75,404.64 L229.04,382.67 L229.33,354.81 L229.61,324.37 L229.90,291.30 L230.19,249.91 L230.48,209.52 L230.77,180.49 L231.06,158.23 L231.34,136.34 L231.63,114.83 L231.92,93.74 L232.21,73.10 L232.50,52.94 L232.78,33.30 L233.07,14.20 L233.36,-4.32 L233.65,-22.23 L233.94,-39.51 L234.23,-56.12 L234.51,-72.02 L234.80,-87.19 L235.09,-101.60 L235.38,-115.21 L235.67,-127.99 L235.96,-139.92 L236.24,-150.96 L236.53,-161.07 L236.82,-170.24 L237.11,-178.42 L237.40,-185.58 L237.68,-191.70 L237.97,-196.75 L238.26,-200.68 L238.55,-203.47 L238.84,-205.09 L239.13,-205.51 L239.41,-204.67 L239.70,-202.57 L239.99,-199.23 L240.28,-194.69 L240.57,-188.97 L240.85,-182.11 L241.14,-174.13 L241.43,-165.07 L241.72,-154.94 L242.01,-143.79 L242.30,-131.63 L242.58,-118.50 L242.87,-104.42 L243.16,-89.43 L243.45,-73.56 L243.74,-56.83 L244.02,-39.26 L244.31,-20.90 L244.60,-1.77 L244.89,18.10 L245.18,38.69 L245.47,59.96 L245.75,81.89 L246.04,104.44 L246.33,127.59 L246.62,151.31 L246.91,175.57 L247.19,207.73 L247.48,258.68 L247.77,304.14 L248.06,327.48 L248.35,345.79 L248.64,361.35 L248.92,374.66 L249.21,386.25 L249.50,396.62 L249.79,406.28 L250.08,415.72 L250.36,425.12 L250.65,434.19 L250.94,442.70 L251.23,450.38 L251.52,457.00 L251.81,462.29 L252.09,466.04 L252.38,469.11 L252.67,472.00 L252.96,474.67 L253.25,477.09 L253.53,479.24 L253.82,481.09 L254.11,482.62 L254.40,483.78 L254.69,484.57 L254.98,484.95 L255.26,485.18 L255.55,485.39 L255.84,485.58 L256.13,485.74 L256.42,485.88 L256.70,486.00 L256.99,486.09 L257.28,486.15 L257.57,486.19 L257.86,486.20 L258.15,486.20 L258.43,486.20 L258.72,486.20 L259.01,486.20 L259.30,486.20 L259.59,486.20 L259.87,486.20 L260.16,486.20 L260.45,486.20 L260.74,486.20 L261.03,486.20 L261.32,486.20 L261.60,486.20 L261.89,486.20 L262.18,486.20 L262.47,486.20 L262.76,486.20 L263.05,486.20 L263.33,486.20 L263.62,486.20 L263.91,486.20 L264.20,486.20 L264.49,486.20 L264.77,486.20 L265.06,486.20 L265.35,486.20 L265.64,486.20 L265.93,486.20 L266.22,486.20 L266.50,486.20 L266.79,486.20 L267.08,486.20 L267.37,486.20 L267.66,486.20 L267.94,486.20 L268.23,486.20 L268.52,486.20 L268.81,486.20 L269.10,486.20 L269.39,486.20 L269.67,486.20 L269.96,486.20 L270.25,486.20 L270.54,486.20 L270.83,486.20 L271.11,486.20 L271.40,486.20 L271.69,486.20 L271.98,486.20 L272.27,486.20 L272.56,486.20 L272.84,486.20 L273.13,486.20 L273.42,486.20 L273.71,486.20 L274.00,486.20 L274.28,486.20 L274.57,486.20 L274.86,486.20 L275.15,486.20 L275.44,486.20 L275.73,486.20 L276.01,486.20 L276.30,486.20 L276.59,486.20 L276.88,486.20 L277.17,486.20 L277.45,486.20 L277.74,486.20 L278.03,486.20 L278.32,486.20 L278.61,486.20 L278.90,486.20 L279.18,486.20 L279.47,486.20 L279.76,486.20 L280.05,486.20 L280.34,486.20 L280.62,486.20 L280.91,486.20 L281.20,486.20 L281.49,486.20 L281.78,486.20 L282.07,486.20 L282.35,486.20 L282.64,486.20 L282.93,486.20 L283.22,486.20 L283.51,486.20 L283.79,486.20 L284.08,486.20 L284.37,486.20 L284.66,486.20 L284.95,486.20 L285.24,486.20 L285.52,486.20 L285.81,486.20 L286.10,486.20 L286.39,486.20 L286.68,486.20 L286.97,486.20 L287.25,486.20 L287.54,486.20 L287.83,486.20 L288.12,486.20 L288.41,486.20 L288.69,486.20 L288.98,486.20 L289.27,486.20 L289.56,486.20 L289.85,486.20 L290.14,486.20 L290.42,486.20 L290.71,486.20 L291.00,486.20 L291.29,486.20 L291.58,486.20 L291.86,486.20 L292.15,486.20 L292.44,486.20 L292.73,486.20 L293.02,486.20 L293.31,486.20 L293.59,486.20 L293.88,486.20 L294.17,486.20 L294.46,486.20 L294.75,486.20 L295.03,486.20 L295.32,486.20 L295.61,486.20 L295.90,486.20 L296.19,486.20 L296.48,486.20 L296.76,486.20 L297.05,486.20 L297.34,486.20 L297.63,486.20 L297.92,486.20 L298.20,486.20 L298.49,486.20 L298.78,486.20 L299.07,486.20 L299.36,486.20 L299.65,486.20 L299.93,486.20 L300.22,486.20 L300.51,486.20 L300.80,486.20 L301.09,486.20 L301.37,486.20 L301.66,486.20 L301.95,486.20 L302.24,486.20 L302.53,486.20 L302.82,486.20 L303.10,486.19 L303.39,486.18 L303.68,486.14 L303.97,486.09 L304.26,486.04 L304.54,485.97 L304.83,485.89 L305.12,485.80 L305.41,485.71 L305.70,485.61 L305.99,485.50 L306.27,485.39 L306.56,485.28 L306.85,485.17 L307.14,485.06 L307.43,484.94 L307.71,484.83 L308.00,484.72 L308.29,484.62 L308.58,484.52 L308.87,484.42 L309.16,484.34 L309.44,484.26 L309.73,484.19 L310.02,484.14 L310.31,484.09 L310.60,484.06 L310.88,484.04 L311.17,484.04 L311.46,484.05 L311.75,484.06 L312.04,484.09 L312.33,484.12 L312.61,484.16 L312.90,484.21 L313.19,484.26 L313.48,484.32 L313.77,484.39 L314.06,484.46 L314.34,484.53 L314.63,484.61 L314.92,484.69 L315.21,484.78 L315.50,484.86 L315.78,484.95 L316.07,485.04 L316.36,485.13 L316.65,485.22 L316.94,485.30 L317.23,485.39 L317.51,485.48 L317.80,485.56 L318.09,485.64 L318.38,485.72 L318.67,485.79 L318.95,485.86 L319.24,485.92 L319.53,485.98 L319.82,486.04 L320.11,486.08 L320.40,486.12 L320.68,486.15 L320.97,486.18 L321.26,486.19 L321.55,486.20 L321.84,486.20 L322.12,486.20 L322.41,486.20 L322.70,486.20 L322.99,486.20 L323.28,486.20 L323.57,486.20 L323.85,486.20 L324.14,486.20 L324.43,486.20 L324.72,486.20 L325.01,486.20 L325.29,486.20 L325.58,486.20 L325.87,486.20 L326.16,486.20 L326.45,486.20 L326.74,486.20 L327.02,486.20 L327.31,486.20 L327.60,486.19 L327.89,486.18 L328.18,486.17 L328.46,486.16 L328.75,486.15 L329.04,486.13 L329.33,486.11 L329.62,486.09 L329.91,486.06 L330.19,486.04 L330.48,486.01 L330.77,485.98 L331.06,485.95 L331.35,485.92 L331.63,485.88 L331.92,485.85 L332.21,485.81 L332.50,485.78 L332.79,485.74 L333.08,485.70 L333.36,485.66 L333.65,485.62 L333.94,485.58 L334.23,485.53 L334.52,485.49 L334.80,485.45 L335.09,485.41 L335.38,485.36 L335.67,485.32 L335.96,485.28 L336.25,485.23 L336.53,485.19 L336.82,485.15 L337.11,485.11 L337.40,485.06 L337.69,485.02 L337.98,484.98 L338.26,484.94 L338.55,484.90 L338.84,484.87 L339.13,484.83 L339.42,484.79 L339.70,484.76 L339.99,484.73 L340.28,484.70 L340.57,484.67 L340.86,484.64 L341.15,484.61 L341.43,484.59 L341.72,484.57 L342.01,484.55 L342.30,484.53 L342.59,484.51 L342.87,484.50 L343.16,484.49 L343.45,484.48 L343.74,484.47 L344.03,484.47 L344.32,484.47 L344.60,484.47 L344.89,484.48 L345.18,484.48 L345.47,484.49 L345.76,484.50 L346.04,484.51 L346.33,484.52 L346.62,484.54 L346.91,484.56 L347.20,484.57 L347.49,484.59 L347.77,484.61 L348.06,484.64 L348.35,484.66 L348.64,484.69 L348.93,484.71 L349.21,484.74 L349.50,484.77 L349.79,484.80 L350.08,484.83 L350.37,484.86 L350.66,484.89 L350.94,484.92 L351.23,484.96 L351.52,484.99 L351.81,485.02 L352.10,485.06 L352.38,485.09 L352.67,485.13 L352.96,485.17 L353.25,485.20 L353.54,485.24 L353.83,485.28 L354.11,485.31 L354.40,485.35 L354.69,485.39 L354.98,485.43 L355.27,485.46 L355.55,485.50 L355.84,485.53 L356.13,485.57 L356.42,485.61 L356.71,485.64 L357.00,485.68 L357.28,485.71 L357.57,485.74 L357.86,485.78 L358.15,485.81 L358.44,485.84 L358.72,485.87 L359.01,485.90 L359.30,485.93 L359.59,485.96 L359.88,485.98 L360.17,486.01 L360.45,486.03 L360.74,486.05 L361.03,486.07 L361.32,486.09 L361.61,486.11 L361.89,486.13 L362.18,486.14 L362.47,486.16 L362.76,486.17 L363.05,486.18 L363.34,486.19 L363.62,486.19 L363.91,486.20 L364.20,486.20 L364.49,486.20 L364.78,486.20 L365.07,486.20 L365.35,486.20 L365.64,486.20 L365.93,486.20 L366.22,486.20 L366.51,486.20 L366.79,486.20 L367.08,486.20 L367.37,486.20 L367.66,486.20 L367.95,486.20 L368.24,486.20 L368.52,486.20 L368.81,486.20 L369.10,486.20 L369.39,486.20 L369.68,486.20 L369.96,486.20 L370.25,486.20 L370.54,486.20 L370.83,486.20 L371.12,486.20 L371.41,486.20 L371.69,486.20 L371.98,486.20 L372.27,486.20 L372.56,486.20 L372.85,486.20 L373.13,486.20 L373.42,486.20 L373.71,486.20 L374.00,486.20 L374.29,486.20 L374.58,486.20 L374.86,486.20 L375.15,486.20 L375.44,486.20 L375.73,486.20 L376.02,486.20 L376.30,486.20 L376.59,486.20 L376.88,486.20 L377.17,486.20 L377.46,486.20 L377.75,486.20 L378.03,486.20 L378.32,486.20 L378.61,486.20 L378.90,486.20 L379.19,486.20 L379.47,486.20 L379.76,486.20 L380.05,486.20 L380.34,486.20 L380.63,486.20 L380.92,486.20 L381.20,486.20 L381.49,486.20 L381.78,486.20 L382.07,486.20 L382.36,486.20 L382.64,486.20 L382.93,486.20 L383.22,486.20 L383.51,486.20 L383.80,486.20 L384.09,486.20 L384.37,486.20 L384.66,486.20 L384.95,486.20 L385.24,486.20 L385.53,486.20 L385.81,486.20 L386.10,486.20 L386.39,486.20 L386.68,486.20 L386.97,486.20 L387.26,486.20 L387.54,486.20 L387.83,486.20 L388.12,486.20 L388.41,486.20 L388.70,486.20 L388.99,486.20 L389.27,486.20 L389.56,486.20 L389.85,486.20 L390.14,486.20 L390.43,486.20 L390.71,486.20 L391.00,486.20 L391.29,486.20 L391.58,486.20 L391.87,486.20 L392.16,486.20 L392.44,486.20 L392.73,486.20 L393.02,486.20 L393.31,486.20 L393.60,486.20 L393.88,486.20 L394.17,486.20 L394.46,486.20 L394.75,486.20 L395.04,486.20 L395.33,486.20 L395.61,486.20 L395.90,486.20 L396.19,486.20 L396.48,486.20 L396.77,486.20 L397.05,486.20 L397.34,486.20 L397.63,486.20 L397.92,486.20 L398.21,486.20 L398.50,486.20 L398.78,486.20 L399.07,486.20 L399.36,486.20 L399.65,486.20 L399.94,486.20 L400.22,486.20 L400.51,486.20 L400.80,486.20 L401.09,486.20 L401.38,486.20 L401.67,486.20 L401.95,486.20 L402.24,486.20 L402.53,486.20 L402.82,486.20 L403.11,486.20 L403.39,486.20 L403.68,486.20 L403.97,486.20 L404.26,486.20 L404.55,486.20 L404.84,486.20 L405.12,486.20 L405.41,486.20 L405.70,486.20 L405.99,486.20 L406.28,486.20 L406.56,486.20 L406.85,486.20 L407.14,486.20 L407.43,486.20 L407.72,486.20 L408.01,486.20 L408.29,486.20 L408.58,486.20 L408.87,486.20 L409.16,486.20 L409.45,486.20 L409.73,486.20 L410.02,486.20 L410.31,486.20 L410.60,486.20 L410.89,486.20 L411.18,486.20 L411.46,486.20 L411.75,486.19 L412.04,486.19 L412.33,486.19 L412.62,486.18 L412.91,486.18 L413.19,486.17 L413.48,486.16 L413.77,486.16 L414.06,486.15 L414.35,486.14 L414.63,486.14 L414.92,486.13 L415.21,486.12 L415.50,486.11 L415.79,486.10 L416.08,486.10 L416.36,486.09 L416.65,486.08 L416.94,486.07 L417.23,486.06 L417.52,486.05 L417.80,486.04 L418.09,486.04 L418.38,486.03 L418.67,486.02 L418.96,486.01 L419.25,486.00 L419.53,486.00 L419.82,485.99 L420.11,485.98 L420.40,485.98 L420.69,485.97 L420.97,485.96 L421.26,485.96 L421.55,485.95 L421.84,485.95 L422.13,485.95 L422.42,485.94 L422.70,485.94 L422.99,485.94 L423.28,485.94 L423.57,485.94 L423.86,485.94 L424.14,485.94 L424.43,485.94 L424.72,485.94 L425.01,485.94 L425.30,485.94 L425.59,485.94 L425.87,485.94 L426.16,485.94 L426.45,485.94 L426.74,485.94 L427.03,485.94 L427.31,485.94 L427.60,485.94 L427.89,485.94 L428.18,485.94 L428.47,485.94 L428.76,485.94 L429.04,485.94 L429.33,485.94 L429.62,485.94 L429.91,485.94 L430.20,485.94 L430.48,485.94 L430.77,485.94 L431.06,485.94 L431.35,485.94 L431.64,485.94 L431.93,485.94 L432.21,485.94 L432.50,485.94 L432.79,485.94 L433.08,485.94 L433.37,485.94 L433.65,485.94 L433.94,485.94 L434.23,485.94 L434.52,485.94 L434.81,485.94 L435.10,485.94 L435.38,485.94 L435.67,485.94 L435.96,485.94 L436.25,485.94 L436.54,485.94 L436.82,485.94 L437.11,485.94 L437.40,485.94 L437.69,485.94 L437.98,485.94 L438.27,485.94 L438.55,485.94 L438.84,485.94 L439.13,485.94 L439.42,485.94 L439.71,485.94 L440.00,485.94 L440.28,485.95 L440.57,485.95 L440.86,485.95 L441.15,485.96 L441.44,485.96 L441.72,485.97 L442.01,485.97 L442.30,485.98 L442.59,485.98 L442.88,485.99 L443.17,486.00 L443.45,486.01 L443.74,486.01 L444.03,486.02 L444.32,486.03 L444.61,486.04 L444.89,486.05 L445.18,486.05 L445.47,486.06 L445.76,486.07 L446.05,486.08 L446.34,486.09 L446.62,486.10 L446.91,486.11 L447.20,486.11 L447.49,486.12 L447.78,486.13 L448.06,486.14 L448.35,486.14 L448.64,486.15 L448.93,486.16 L449.22,486.17 L449.51,486.17 L449.79,486.18 L450.08,486.18 L450.37,486.19 L450.66,486.19 L450.95,486.19 L451.23,486.20 L451.52,486.20 L451.81,486.20 L452.10,486.20 L452.39,486.20 L452.68,486.20 L452.96,486.20 L453.25,486.20 L453.54,486.20 L453.83,486.20 L454.12,486.20 L454.40,486.20 L454.69,486.20 L454.98,486.20 L455.27,486.20 L455.56,486.20 L455.85,486.20 L456.13,486.20 L456.42,486.20 L456.71,486.20 L457.00,486.20 L457.29,486.20 L457.57,486.20 L457.86,486.20 L458.15,486.20 L458.44,486.20 L458.73,486.20 L459.02,486.20 L459.30,486.20 L459.59,486.20 L459.88,486.20 L460.17,486.20 L460.46,486.20 L460.74,486.20 L461.03,486.20 L461.32,486.20 L461.61,486.20 L461.90,486.20 L462.19,486.20 L462.47,486.20 L462.76,486.20 L463.05,486.20 L463.34,486.20 L463.63,486.20 L463.92,486.20 L464.20,486.20 L464.49,486.20 L464.78,486.20 L465.07,486.20 L465.36,486.20 L465.64,486.20 L465.93,486.20 L466.22,486.20 L466.51,486.20 L466.80,486.20 L467.09,486.20 L467.37,486.20 L467.66,486.19 L467.95,486.19 L468.24,486.19 L468.53,486.18 L468.81,486.18 L469.10,486.17 L469.39,486.17 L469.68,486.16 L469.97,486.15 L470.26,486.14 L470.54,486.14 L470.83,486.13 L471.12,486.12 L471.41,486.11 L471.70,486.10 L471.98,486.09 L472.27,486.08 L472.56,486.07 L472.85,486.06 L473.14,486.05 L473.43,486.04 L473.71,486.03 L474.00,486.02 L474.29,486.01 L474.58,486.00 L474.87,485.99 L475.15,485.98 L475.44,485.97 L475.73,485.96 L476.02,485.95 L476.31,485.94 L476.60,485.93 L476.88,485.92 L477.17,485.91 L477.46,485.91 L477.75,485.90 L478.04,485.89 L478.32,485.89 L478.61,485.88 L478.90,485.87 L479.19,485.87 L479.48,485.86 L479.77,485.86 L480.05,485.86 L480.34,485.86 L480.63,485.85 L480.92,485.85 L481.21,485.85 L481.49,485.85 L481.78,485.86 L482.07,485.86 L482.36,485.86 L482.65,485.86 L482.94,485.86 L483.22,485.86 L483.51,485.87 L483.80,485.87 L484.09,485.87 L484.38,485.88 L484.66,485.88 L484.95,485.88 L485.24,485.89 L485.53,485.89 L485.82,485.90 L486.11,485.90 L486.39,485.91 L486.68,485.91 L486.97,485.92 L487.26,485.92 L487.55,485.93 L487.83,485.94 L488.12,485.94 L488.41,485.95 L488.70,485.95 L488.99,485.96 L489.28,485.97 L489.56,485.97 L489.85,485.98 L490.14,485.99 L490.43,485.99 L490.72,486.00 L491.01,486.01 L491.29,486.01 L491.58,486.02 L491.87,486.03 L492.16,486.04 L492.45,486.04 L492.73,486.05 L493.02,486.06 L493.31,486.06 L493.60,486.07 L493.89,486.08 L494.18,486.08 L494.46,486.09 L494.75,486.10 L495.04,486.10 L495.33,486.11 L495.62,486.11 L495.90,486.12 L496.19,486.13 L496.48,486.13 L496.77,486.14 L497.06,486.14 L497.35,486.15 L497.63,486.15 L497.92,486.16 L498.21,486.16 L498.50,486.17 L498.79,486.17 L499.07,486.18 L499.36,486.18 L499.65,486.18 L499.94,486.19 L500.23,486.19 L500.52,486.19 L500.80,486.19 L501.09,486.20 L501.38,486.20 L501.67,486.20 L501.96,486.20 L502.24,486.20 L502.53,486.20 L502.82,486.20 L503.11,486.20 L503.40,486.20 L503.69,486.20 L503.97,486.20 L504.26,486.20 L504.55,486.20 L504.84,486.20 L505.13,486.20 L505.41,486.20 L505.70,486.20 L505.99,486.20 L506.28,486.20 L506.57,486.20 L506.86,486.20 L507.14,486.20 L507.43,486.20 L507.72,486.20 L508.01,486.20 L508.30,486.20 L508.58,486.20 L508.87,486.20 L509.16,486.20 L509.45,486.20 L509.74,486.20 L510.03,486.20 L510.31,486.20 L510.60,486.20 L510.89,486.20 L511.18,486.20 L511.47,486.20 L511.75,486.20 L512.04,486.20 L512.33,486.20 L512.62,486.20 L512.91,486.20 L513.20,486.20 L513.48,486.20 L513.77,486.20 L514.06,486.20 L514.35,486.20 L514.64,486.20 L514.93,486.20 L515.21,486.20 L515.50,486.20 L515.79,486.20 L516.08,486.20 L516.37,486.20 L516.65,486.20 L516.94,486.20 L517.23,486.20 L517.52,486.20 L517.81,486.20 L518.10,486.20 L518.38,486.20 L518.67,486.20 L518.96,486.20 L519.25,486.20 L519.54,486.20 L519.82,486.20 L520.11,486.20 L520.40,486.20 L520.69,486.20 L520.98,486.20 L521.27,486.20 L521.55,486.20 L521.84,486.20 L522.13,486.20 L522.42,486.20 L522.71,486.20 L522.99,486.20 L523.28,486.20 L523.57,486.20 L523.86,486.20 L524.15,486.20 L524.44,486.20 L524.72,486.20 L525.01,486.20 L525.30,486.20 L525.59,486.20 L525.88,486.20 L526.16,486.20 L526.45,486.20 L526.74,486.20 L527.03,486.20 L527.32,486.20 L527.61,486.20 L527.89,486.20 L528.18,486.20 L528.47,486.20 L528.76,486.20 L529.05,486.20 L529.33,486.20 L529.62,486.20 L529.91,486.20 L530.20,486.20 L530.49,486.20 L530.78,486.20 L531.06,486.20 L531.35,486.20 L531.64,486.20 L531.93,486.20 L532.22,486.20 L532.50,486.20 L532.79,486.20 L533.08,486.20 L533.37,486.20 L533.66,486.20 L533.95,486.20 L534.23,486.20 L534.52,486.20 L534.81,486.20 L535.10,486.20 L535.39,486.20 L535.67,486.20 L535.96,486.20 L536.25,486.20 L536.54,486.20 L536.83,486.20 L537.12,486.20 L537.40,486.20 L537.69,486.20 L537.98,486.20 L538.27,486.20 L538.56,486.20 L538.84,486.20 L539.13,486.20 L539.42,486.20 L539.71,486.20 L540.00,486.20 L540.29,486.20 L540.57,486.20 L540.86,486.20 L541.15,486.20 L541.44,486.20 L541.73,486.20 L542.02,486.20 L542.30,486.20 L542.59,486.20 L542.88,486.20 L543.17,486.20 L543.46,486.20 L543.74,486.20 L544.03,486.20 L544.32,486.20 L544.61,486.20 L544.90,486.20 L545.19,486.20 L545.47,486.20 L545.76,486.20 L546.05,486.20 L546.34,486.20 L546.63,486.20 L546.91,486.20 L547.20,486.20 L547.49,486.20 L547.78,486.20 L548.07,486.20 L548.36,486.20 L548.64,486.20 L548.93,486.20 L549.22,486.20 L549.51,486.20 L549.80,486.20 L550.08,486.20 L550.37,486.20 L550.66,486.20 L550.95,486.20 L551.24,486.20 L551.53,486.20 L551.81,486.20 L552.10,486.20 L552.39,486.20 L552.68,486.20 L552.97,486.20 L553.25,486.20 L553.54,486.20 L553.83,486.20 L554.12,486.20 L554.41,486.20 L554.70,486.20 L554.98,486.20 L555.27,486.20 L555.56,486.20 L555.85,486.20 L556.14,486.20 L556.42,486.20 L556.71,486.20 L557.00,486.20 L557.29,486.20 L557.58,486.20 L557.87,486.20 L558.15,486.20 L558.44,486.20 L558.73,486.20 L559.02,486.20 L559.31,486.20 L559.59,486.20 L559.88,486.20 L560.17,486.20 L560.46,486.20 L560.75,486.20 L561.04,486.20 L561.32,486.20 L561.61,486.20 L561.90,486.20 L562.19,486.20 L562.48,486.20 L562.76,486.20 L563.05,486.20 L563.34,486.20 L563.63,486.20 L563.92,486.20 L564.21,486.20 L564.49,486.20 L564.78,486.20 L565.07,486.20 L565.36,486.20 L565.65,486.20 L565.94,486.20 L566.22,486.20 L566.51,486.20 L566.80,486.20 L567.09,486.20 L567.38,486.20 L567.66,486.20 L567.95,486.20 L568.24,486.19 L568.53,486.18 L568.82,486.17 L569.11,486.16 L569.39,486.15 L569.68,486.13 L569.97,486.11 L570.26,486.09 L570.55,486.07 L570.83,486.05 L571.12,486.03 L571.41,486.00 L571.70,485.97 L571.99,485.95 L572.28,485.92 L572.56,485.89 L572.85,485.86 L573.14,485.82 L573.43,485.79 L573.72,485.76 L574.00,485.73 L574.29,485.69 L574.58,485.66 L574.87,485.62 L575.16,485.59 L575.45,485.55 L575.73,485.52 L576.02,485.48 L576.31,485.44 L576.60,485.41 L576.89,485.37 L577.17,485.34 L577.46,485.31 L577.75,485.27 L578.04,485.24 L578.33,485.21 L578.62,485.18 L578.90,485.14 L579.19,485.11 L579.48,485.09 L579.77,485.06 L580.06,485.03 L580.34,485.01 L580.63,484.98 L580.92,484.96 L581.21,484.94 L581.50,484.92 L581.79,484.90 L582.07,484.89 L582.36,484.87 L582.65,484.85 L582.94,484.84 L583.23,484.82 L583.51,484.80 L583.80,484.79 L584.09,484.77 L584.38,484.75 L584.67,484.73 L584.96,484.72 L585.24,484.70 L585.53,484.68 L585.82,484.67 L586.11,484.65 L586.40,484.64 L586.68,484.62 L586.97,484.61 L587.26,484.59 L587.55,484.58 L587.84,484.57 L588.13,484.56 L588.41,484.54 L588.70,484.53 L588.99,484.52 L589.28,484.51 L589.57,484.51 L589.85,484.50 L590.14,484.49 L590.43,484.48 L590.72,484.48 L591.01,484.48 L591.30,484.47 L591.58,484.47 L591.87,484.47 L592.16,484.47 L592.45,484.47 L592.74,484.47 L593.03,484.47 L593.31,484.47 L593.60,484.47 L593.89,484.47 L594.18,484.47 L594.47,484.48 L594.75,484.48 L595.04,484.48 L595.33,484.48 L595.62,484.48 L595.91,484.48 L596.20,484.49 L596.48,484.49 L596.77,484.49 L597.06,484.50 L597.35,484.50 L597.64,484.50 L597.92,484.51 L598.21,484.51 L598.50,484.52 L598.79,484.53 L599.08,484.53 L599.37,484.54 L599.65,484.55 L599.94,484.55 L600.23,484.56 L600.52,484.57 L600.81,484.58 L601.09,484.59 L601.38,484.60 L601.67,484.61 L601.96,484.62 L602.25,484.63 L602.54,484.65 L602.82,484.66 L603.11,484.67 L603.40,484.69" stroke="#7A0000"/>
<path d="M171.40,486.20 L171.69,486.20 L171.98,486.20 L172.26,486.20 L172.55,486.20 L172.84,486.20 L173.13,486.20 L173.42,486.20 L173.71,486.20 L173.99,486.20 L174.28,486.20 L174.57,486.20 L174.86,486.20 L175.15,486.20 L175.43,486.20 L175.72,486.20 L176.01,486.20 L176.30,486.20 L176.59,486.20 L176.88,486.20 L177.16,486.20 L177.45,486.20 L177.74,486.20 L178.03,486.20 L178.32,486.20 L178.60,486.20 L178.89,486.20 L179.18,486.20 L179.47,486.20 L179.76,486.20 L180.05,486.20 L180.33,486.20 L180.62,486.20 L180.91,486.20 L181.20,486.20 L181.49,486.20 L181.77,486.20 L182.06,486.20 L182.35,486.20 L182.64,486.20 L182.93,486.20 L183.22,486.20 L183.50,486.20 L183.79,486.20 L184.08,486.20 L184.37,486.20 L184.66,486.20 L184.95,486.20 L185.23,486.20 L185.52,486.20 L185.81,486.20 L186.10,486.20 L186.39,486.20 L186.67,486.20 L186.96,486.20 L187.25,486.20 L187.54,486.20 L187.83,486.20 L188.12,486.20 L188.40,486.20 L188.69,486.20 L188.98,486.20 L189.27,486.20 L189.56,486.20 L189.84,486.20 L190.13,486.20 L190.42,486.20 L190.71,486.20 L191.00,486.20 L191.29,486.20 L191.57,486.20 L191.86,486.20 L192.15,486.20 L192.44,486.20 L192.73,486.20 L193.01,486.20 L193.30,486.24 L193.59,486.33 L193.88,486.49 L194.17,486.70 L194.46,486.95 L194.74,487.25 L195.03,487.58 L195.32,487.94 L195.61,488.34 L195.90,488.75 L196.18,489.18 L196.47,489.63 L196.76,490.08 L197.05,490.53 L197.34,490.98 L197.63,491.53 L197.91,492.23 L198.20,493.06 L198.49,493.99 L198.78,494.99 L199.07,496.02 L199.35,497.07 L199.64,498.10 L199.93,499.09 L200.22,500.00 L200.51,500.80 L200.80,501.48 L201.08,501.99 L201.37,502.31 L201.66,502.41 L201.95,502.28 L202.24,501.93 L202.52,501.39 L202.81,500.70 L203.10,499.88 L203.39,498.95 L203.68,497.96 L203.97,496.93 L204.25,495.88 L204.54,494.84 L204.83,493.85 L205.12,492.94 L205.41,492.13 L205.69,491.44 L205.98,490.92 L206.27,490.47 L206.56,490.01 L206.85,489.56 L207.14,489.12 L207.42,488.69 L207.71,488.28 L208.00,487.89 L208.29,487.53 L208.58,487.20 L208.86,486.91 L209.15,486.66 L209.44,486.46 L209.73,486.32 L210.02,486.23 L210.31,486.20 L210.59,486.20 L210.88,486.20 L211.17,486.20 L211.46,486.20 L211.75,486.20 L212.04,486.20 L212.32,486.20 L212.61,486.20 L212.90,486.20 L213.19,486.20 L213.48,486.20 L213.76,486.20 L214.05,486.20 L214.34,486.20 L214.63,486.20 L214.92,486.20 L215.21,486.20 L215.49,486.20 L215.78,486.20 L216.07,486.20 L216.36,486.20 L216.65,486.20 L216.93,486.20 L217.22,486.20 L217.51,486.20 L217.80,486.20 L218.09,486.20 L218.38,486.20 L218.66,486.20 L218.95,486.20 L219.24,486.20 L219.53,486.20 L219.82,486.20 L220.10,486.20 L220.39,486.20 L220.68,486.21 L220.97,486.25 L221.26,486.31 L221.55,486.39 L221.83,486.49 L222.12,486.62 L222.41,486.76 L222.70,486.92 L222.99,487.10 L223.27,487.31 L223.56,487.53 L223.85,488.03 L224.14,488.95 L224.43,490.25 L224.72,491.90 L225.00,493.87 L225.29,496.13 L225.58,498.64 L225.87,501.37 L226.16,504.28 L226.44,507.35 L226.73,510.98 L227.02,515.48 L227.31,520.95 L227.60,527.47 L227.89,535.14 L228.17,544.05 L228.46,554.29 L228.75,567.76 L229.04,589.73 L229.33,617.59 L229.61,648.03 L229.90,681.10 L230.19,722.49 L230.48,762.88 L230.77,791.91 L231.06,814.17 L231.34,836.06 L231.63,857.57 L231.92,878.66 L232.21,899.30 L232.50,919.46 L232.78,939.10 L233.07,958.20 L233.36,976.72 L233.65,994.63 L233.94,1011.91 L234.23,1028.52 L234.51,1044.42 L234.80,1059.59 L235.09,1074.00 L235.38,1087.61 L235.67,1100.39 L235.96,1112.32 L236.24,1123.36 L236.53,1133.47 L236.82,1142.64 L237.11,1150.82 L237.40,1157.98 L237.68,1164.10 L237.97,1169.15 L238.26,1173.08 L238.55,1175.87 L238.84,1177.49 L239.13,1177.91 L239.41,1177.07 L239.70,1174.97 L239.99,1171.63 L240.28,1167.09 L240.57,1161.37 L240.85,1154.51 L241.14,1146.53 L241.43,1137.47 L241.72,1127.34 L242.01,1116.19 L242.30,1104.03 L242.58,1090.90 L242.87,1076.82 L243.16,1061.83 L243.45,1045.96 L243.74,1029.23 L244.02,1011.66 L244.31,993.30 L244.60,974.17 L244.89,954.30 L245.18,933.71 L245.47,912.44 L245.75,890.51 L246.04,867.96 L246.33,844.81 L246.62,821.09 L246.91,796.83 L247.19,764.67 L247.48,713.72 L247.77,668.26 L248.06,644.92 L248.35,626.61 L248.64,611.05 L248.92,597.74 L249.21,586.15 L249.50,575.78 L249.79,566.12 L250.08,556.68 L250.36,547.28 L250.65,538.21 L250.94,529.70 L251.23,522.02 L251.52,515.40 L251.81,510.11 L252.09,506.36 L252.38,503.29 L252.67,500.40 L252.96,497.73 L253.25,495.31 L253.53,493.16 L253.82,491.31 L254.11,489.78 L254.40,488.62 L254.69,487.83 L254.98,487.45 L255.26,487.22 L255.55,487.01 L255.84,486.82 L256.13,486.66 L256.42,486.52 L256.70,486.40 L256.99,486.31 L257.28,486.25 L257.57,486.21 L257.86,486.20 L258.15,486.20 L258.43,486.20 L258.72,486.20 L259.01,486.20 L259.30,486.20 L259.59,486.20 L259.87,486.20 L260.16,486.20 L260.45,486.20 L260.74,486.20 L261.03,486.20 L261.32,486.20 L261.60,486.20 L261.89,486.20 L262.18,486.20 L262.47,486.20 L262.76,486.20 L263.05,486.20 L263.33,486.20 L263.62,486.20 L263.91,486.20 L264.20,486.20 L264.49,486.20 L264.77,486.20 L265.06,486.20 L265.35,486.20 L265.64,486.20 L265.93,486.20 L266.22,486.20 L266.50,486.20 L266.79,486.20 L267.08,486.20 L267.37,486.20 L267.66,486.20 L267.94,486.20 L268.23,486.20 L268.52,486.20 L268.81,486.20 L269.10,486.20 L269.39,486.20 L269.67,486.20 L269.96,486.20 L270.25,486.20 L270.54,486.20 L270.83,486.20 L271.11,486.20 L271.40,486.20 L271.69,486.20 L271.98,486.20 L272.27,486.20 L272.56,486.20 L272.84,486.20 L273.13,486.20 L273.42,486.20 L273.71,486.20 L274.00,486.20 L274.28,486.20 L274.57,486.20 L274.86,486.20 L275.15,486.20 L275.44,486.20 L275.73,486.20 L276.01,486.20 L276.30,486.20 L276.59,486.20 L276.88,486.20 L277.17,486.20 L277.45,486.20 L277.74,486.20 L278.03,486.20 L278.32,486.20 L278.61,486.20 L278.90,486.20 L279.18,486.20 L279.47,486.20 L279.76,486.20 L280.05,486.20 L280.34,486.20 L280.62,486.20 L280.91,486.20 L281.20,486.20 L281.49,486.20 L281.78,486.20 L282.07,486.20 L282.35,486.20 L282.64,486.20 L282.93,486.20 L283.22,486.20 L283.51,486.20 L283.79,486.20 L284.08,486.20 L284.37,486.20 L284.66,486.20 L284.95,486.20 L285.24,486.20 L285.52,486.20 L285.81,486.20 L286.10,486.20 L286.39,486.20 L286.68,486.20 L286.97,486.20 L287.25,486.20 L287.54,486.20 L287.83,486.20 L288.12,486.20 L288.41,486.20 L288.69,486.20 L288.98,486.20 L289.27,486.20 L289.56,486.20 L289.85,486.20 L290.14,486.20 L290.42,486.20 L290.71,486.20 L291.00,486.20 L291.29,486.20 L291.58,486.20 L291.86,486.20 L292.15,486.20 L292.44,486.20 L292.73,486.20 L293.02,486.20 L293.31,486.20 L293.59,486.20 L293.88,486.20 L294.17,486.20 L294.46,486.20 L294.75,486.20 L295.03,486.20 L295.32,486.20 L295.61,486.20 L295.90,486.20 L296.19,486.20 L296.48,486.20 L296.76,486.20 L297.05,486.20 L297.34,486.20 L297.63,486.20 L297.92,486.20 L298.20,486.20 L298.49,486.20 L298.78,486.20 L299.07,486.20 L299.36,486.20 L299.65,486.20 L299.93,486.20 L300.22,486.20 L300.51,486.20 L300.80,486.20 L301.09,486.20 L301.37,486.20 L301.66,486.20 L301.95,486.20 L302.24,486.20 L302.53,486.20 L302.82,486.20 L303.10,486.21 L303.39,486.22 L303.68,486.26 L303.97,486.31 L304.26,486.36 L304.54,486.43 L304.83,486.51 L305.12,486.60 L305.41,486.69 L305.70,486.79 L305.99,486.90 L306.27,487.01 L306.56,487.12 L306.85,487.23 L307.14,487.34 L307.43,487.46 L307.71,487.57 L308.00,487.68 L308.29,487.78 L308.58,487.88 L308.87,487.98 L309.16,488.06 L309.44,488.14 L309.73,488.21 L310.02,488.26 L310.31,488.31 L310.60,488.34 L310.88,488.36 L311.17,488.36 L311.46,488.35 L311.75,488.34 L312.04,488.31 L312.33,488.28 L312.61,488.24 L312.90,488.19 L313.19,488.14 L313.48,488.08 L313.77,488.01 L314.06,487.94 L314.34,487.87 L314.63,487.79 L314.92,487.71 L315.21,487.62 L315.50,487.54 L315.78,487.45 L316.07,487.36 L316.36,487.27 L316.65,487.18 L316.94,487.10 L317.23,487.01 L317.51,486.92 L317.80,486.84 L318.09,486.76 L318.38,486.68 L318.67,486.61 L318.95,486.54 L319.24,486.48 L319.53,486.42 L319.82,486.36 L320.11,486.32 L320.40,486.28 L320.68,486.25 L320.97,486.22 L321.26,486.21 L321.55,486.20 L321.84,486.20 L322.12,486.20 L322.41,486.20 L322.70,486.20 L322.99,486.20 L323.28,486.20 L323.57,486.20 L323.85,486.20 L324.14,486.20 L324.43,486.20 L324.72,486.20 L325.01,486.20 L325.29,486.20 L325.58,486.20 L325.87,486.20 L326.16,486.20 L326.45,486.20 L326.74,486.20 L327.02,486.20 L327.31,486.20 L327.60,486.21 L327.89,486.22 L328.18,486.23 L328.46,486.24 L328.75,486.25 L329.04,486.27 L329.33,486.29 L329.62,486.31 L329.91,486.34 L330.19,486.36 L330.48,486.39 L330.77,486.42 L331.06,486.45 L331.35,486.48 L331.63,486.52 L331.92,486.55 L332.21,486.59 L332.50,486.62 L332.79,486.66 L333.08,486.70 L333.36,486.74 L333.65,486.78 L333.94,486.82 L334.23,486.87 L334.52,486.91 L334.80,486.95 L335.09,486.99 L335.38,487.04 L335.67,487.08 L335.96,487.12 L336.25,487.17 L336.53,487.21 L336.82,487.25 L337.11,487.29 L337.40,487.34 L337.69,487.38 L337.98,487.42 L338.26,487.46 L338.55,487.50 L338.84,487.53 L339.13,487.57 L339.42,487.61 L339.70,487.64 L339.99,487.67 L340.28,487.70 L340.57,487.73 L340.86,487.76 L341.15,487.79 L341.43,487.81 L341.72,487.83 L342.01,487.85 L342.30,487.87 L342.59,487.89 L342.87,487.90 L343.16,487.91 L343.45,487.92 L343.74,487.93 L344.03,487.93 L344.32,487.93 L344.60,487.93 L344.89,487.92 L345.18,487.92 L345.47,487.91 L345.76,487.90 L346.04,487.89 L346.33,487.88 L346.62,487.86 L346.91,487.84 L347.20,487.83 L347.49,487.81 L347.77,487.79 L348.06,487.76 L348.35,487.74 L348.64,487.71 L348.93,487.69 L349.21,487.66 L349.50,487.63 L349.79,487.60 L350.08,487.57 L350.37,487.54 L350.66,487.51 L350.94,487.48 L351.23,487.44 L351.52,487.41 L351.81,487.38 L352.10,487.34 L352.38,487.31 L352.67,487.27 L352.96,487.23 L353.25,487.20 L353.54,487.16 L353.83,487.12 L354.11,487.09 L354.40,487.05 L354.69,487.01 L354.98,486.97 L355.27,486.94 L355.55,486.90 L355.84,486.87 L356.13,486.83 L356.42,486.79 L356.71,486.76 L357.00,486.72 L357.28,486.69 L357.57,486.66 L357.86,486.62 L358.15,486.59 L358.44,486.56 L358.72,486.53 L359.01,486.50 L359.30,486.47 L359.59,486.44 L359.88,486.42 L360.17,486.39 L360.45,486.37 L360.74,486.35 L361.03,486.33 L361.32,486.31 L361.61,486.29 L361.89,486.27 L362.18,486.26 L362.47,486.24 L362.76,486.23 L363.05,486.22 L363.34,486.21 L363.62,486.21 L363.91,486.20 L364.20,486.20 L364.49,486.20 L364.78,486.20 L365.07,486.20 L365.35,486.20 L365.64,486.20 L365.93,486.20 L366.22,486.20 L366.51,486.20 L366.79,486.20 L367.08,486.20 L367.37,486.20 L367.66,486.20 L367.95,486.20 L368.24,486.20 L368.52,486.20 L368.81,486.20 L369.10,486.20 L369.39,486.20 L369.68,486.20 L369.96,486.20 L370.25,486.20 L370.54,486.20 L370.83,486.20 L371.12,486.20 L371.41,486.20 L371.69,486.20 L371.98,486.20 L372.27,486.20 L372.56,486.20 L372.85,486.20 L373.13,486.20 L373.42,486.20 L373.71,486.20 L374.00,486.20 L374.29,486.20 L374.58,486.20 L374.86,486.20 L375.15,486.20 L375.44,486.20 L375.73,486.20 L376.02,486.20 L376.30,486.20 L376.59,486.20 L376.88,486.20 L377.17,486.20 L377.46,486.20 L377.75,486.20 L378.03,486.20 L378.32,486.20 L378.61,486.20 L378.90,486.20 L379.19,486.20 L379.47,486.20 L379.76,486.20 L380.05,486.20 L380.34,486.20 L380.63,486.20 L380.92,486.20 L381.20,486.20 L381.49,486.20 L381.78,486.20 L382.07,486.20 L382.36,486.20 L382.64,486.20 L382.93,486.20 L383.22,486.20 L383.51,486.20 L383.80,486.20 L384.09,486.20 L384.37,486.20 L384.66,486.20 L384.95,486.20 L385.24,486.20 L385.53,486.20 L385.81,486.20 L386.10,486.20 L386.39,486.20 L386.68,486.20 L386.97,486.20 L387.26,486.20 L387.54,486.20 L387.83,486.20 L388.12,486.20 L388.41,486.20 L388.70,486.20 L388.99,486.20 L389.27,486.20 L389.56,486.20 L389.85,486.20 L390.14,486.20 L390.43,486.20 L390.71,486.20 L391.00,486.20 L391.29,486.20 L391.58,486.20 L391.87,486.20 L392.16,486.20 L392.44,486.20 L392.73,486.20 L393.02,486.20 L393.31,486.20 L393.60,486.20 L393.88,486.20 L394.17,486.20 L394.46,486.20 L394.75,486.20 L395.04,486.20 L395.33,486.20 L395.61,486.20 L395.90,486.20 L396.19,486.20 L396.48,486.20 L396.77,486.20 L397.05,486.20 L397.34,486.20 L397.63,486.20 L397.92,486.20 L398.21,486.20 L398.50,486.20 L398.78,486.20 L399.07,486.20 L399.36,486.20 L399.65,486.20 L399.94,486.20 L400.22,486.20 L400.51,486.20 L400.80,486.20 L401.09,486.20 L401.38,486.20 L401.67,486.20 L401.95,486.20 L402.24,486.20 L402.53,486.20 L402.82,486.20 L403.11,486.20 L403.39,486.20 L403.68,486.20 L403.97,486.20 L404.26,486.20 L404.55,486.20 L404.84,486.20 L405.12,486.20 L405.41,486.20 L405.70,486.20 L405.99,486.20 L406.28,486.20 L406.56,486.20 L406.85,486.20 L407.14,486.20 L407.43,486.20 L407.72,486.20 L408.01,486.20 L408.29,486.20 L408.58,486.20 L408.87,486.20 L409.16,486.20 L409.45,486.20 L409.73,486.20 L410.02,486.20 L410.31,486.20 L410.60,486.20 L410.89,486.20 L411.18,486.20 L411.46,486.20 L411.75,486.21 L412.04,486.21 L412.33,486.21 L412.62,486.22 L412.91,486.22 L413.19,486.23 L413.48,486.24 L413.77,486.24 L414.06,486.25 L414.35,486.26 L414.63,486.26 L414.92,486.27 L415.21,486.28 L415.50,486.29 L415.79,486.30 L416.08,486.30 L416.36,486.31 L416.65,486.32 L416.94,486.33 L417.23,486.34 L417.52,486.35 L417.80,486.36 L418.09,486.36 L418.38,486.37 L418.67,486.38 L418.96,486.39 L419.25,486.40 L419.53,486.40 L419.82,486.41 L420.11,486.42 L420.40,486.42 L420.69,486.43 L420.97,486.44 L421.26,486.44 L421.55,486.45 L421.84,486.45 L422.13,486.45 L422.42,486.46 L422.70,486.46 L422.99,486.46 L423.28,486.46 L423.57,486.46 L423.86,486.46 L424.14,486.46 L424.43,486.46 L424.72,486.46 L425.01,486.46 L425.30,486.46 L425.59,486.46 L425.87,486.46 L426.16,486.46 L426.45,486.46 L426.74,486.46 L427.03,486.46 L427.31,486.46 L427.60,486.46 L427.89,486.46 L428.18,486.46 L428.47,486.46 L428.76,486.46 L429.04,486.46 L429.33,486.46 L429.62,486.46 L429.91,486.46 L430.20,486.46 L430.48,486.46 L430.77,486.46 L431.06,486.46 L431.35,486.46 L431.64,486.46 L431.93,486.46 L432.21,486.46 L432.50,486.46 L432.79,486.46 L433.08,486.46 L433.37,486.46 L433.65,486.46 L433.94,486.46 L434.23,486.46 L434.52,486.46 L434.81,486.46 L435.10,486.46 L435.38,486.46 L435.67,486.46 L435.96,486.46 L436.25,486.46 L436.54,486.46 L436.82,486.46 L437.11,486.46 L437.40,486.46 L437.69,486.46 L437.98,486.46 L438.27,486.46 L438.55,486.46 L438.84,486.46 L439.13,486.46 L439.42,486.46 L439.71,486.46 L440.00,486.46 L440.28,486.45 L440.57,486.45 L440.86,486.45 L441.15,486.44 L441.44,486.44 L441.72,486.43 L442.01,486.43 L442.30,486.42 L442.59,486.42 L442.88,486.41 L443.17,486.40 L443.45,486.39 L443.74,486.39 L444.03,486.38 L444.32,486.37 L444.61,486.36 L444.89,486.35 L445.18,486.35 L445.47,486.34 L445.76,486.33 L446.05,486.32 L446.34,486.31 L446.62,486.30 L446.91,486.29 L447.20,486.29 L447.49,486.28 L447.78,486.27 L448.06,486.26 L448.35,486.26 L448.64,486.25 L448.93,486.24 L449.22,486.23 L449.51,486.23 L449.79,486.22 L450.08,486.22 L450.37,486.21 L450.66,486.21 L450.95,486.21 L451.23,486.20 L451.52,486.20 L451.81,486.20 L452.10,486.20 L452.39,486.20 L452.68,486.20 L452.96,486.20 L453.25,486.20 L453.54,486.20 L453.83,486.20 L454.12,486.20 L454.40,486.20 L454.69,486.20 L454.98,486.20 L455.27,486.20 L455.56,486.20 L455.85,486.20 L456.13,486.20 L456.42,486.20 L456.71,486.20 L457.00,486.20 L457.29,486.20 L457.57,486.20 L457.86,486.20 L458.15,486.20 L458.44,486.20 L458.73,486.20 L459.02,486.20 L459.30,486.20 L459.59,486.20 L459.88,486.20 L460.17,486.20 L460.46,486.20 L460.74,486.20 L461.03,486.20 L461.32,486.20 L461.61,486.20 L461.90,486.20 L462.19,486.20 L462.47,486.20 L462.76,486.20 L463.05,486.20 L463.34,486.20 L463.63,486.20 L463.92,486.20 L464.20,486.20 L464.49,486.20 L464.78,486.20 L465.07,486.20 L465.36,486.20 L465.64,486.20 L465.93,486.20 L466.22,486.20 L466.51,486.20 L466.80,486.20 L467.09,486.20 L467.37,486.20 L467.66,486.21 L467.95,486.21 L468.24,486.21 L468.53,486.22 L468.81,486.22 L469.10,486.23 L469.39,486.23 L469.68,486.24 L469.97,486.25 L470.26,486.26 L470.54,486.26 L470.83,486.27 L471.12,486.28 L471.41,486.29 L471.70,486.30 L471.98,486.31 L472.27,486.32 L472.56,486.33 L472.85,486.34 L473.14,486.35 L473.43,486.36 L473.71,486.37 L474.00,486.38 L474.29,486.39 L474.58,486.40 L474.87,486.41 L475.15,486.42 L475.44,486.43 L475.73,486.44 L476.02,486.45 L476.31,486.46 L476.60,486.47 L476.88,486.48 L477.17,486.49 L477.46,486.49 L477.75,486.50 L478.04,486.51 L478.32,486.51 L478.61,486.52 L478.90,486.53 L479.19,486.53 L479.48,486.54 L479.77,486.54 L480.05,486.54 L480.34,486.54 L480.63,486.55 L480.92,486.55 L481.21,486.55 L481.49,486.55 L481.78,486.54 L482.07,486.54 L482.36,486.54 L482.65,486.54 L482.94,486.54 L483.22,486.54 L483.51,486.53 L483.80,486.53 L484.09,486.53 L484.38,486.52 L484.66,486.52 L484.95,486.52 L485.24,486.51 L485.53,486.51 L485.82,486.50 L486.11,486.50 L486.39,486.49 L486.68,486.49 L486.97,486.48 L487.26,486.48 L487.55,486.47 L487.83,486.46 L488.12,486.46 L488.41,486.45 L488.70,486.45 L488.99,486.44 L489.28,486.43 L489.56,486.43 L489.85,486.42 L490.14,486.41 L490.43,486.41 L490.72,486.40 L491.01,486.39 L491.29,486.39 L491.58,486.38 L491.87,486.37 L492.16,486.36 L492.45,486.36 L492.73,486.35 L493.02,486.34 L493.31,486.34 L493.60,486.33 L493.89,486.32 L494.18,486.32 L494.46,486.31 L494.75,486.30 L495.04,486.30 L495.33,486.29 L495.62,486.29 L495.90,486.28 L496.19,486.27 L496.48,486.27 L496.77,486.26 L497.06,486.26 L497.35,486.25 L497.63,486.25 L497.92,486.24 L498.21,486.24 L498.50,486.23 L498.79,486.23 L499.07,486.22 L499.36,486.22 L499.65,486.22 L499.94,486.21 L500.23,486.21 L500.52,486.21 L500.80,486.21 L501.09,486.20 L501.38,486.20 L501.67,486.20 L501.96,486.20 L502.24,486.20 L502.53,486.20 L502.82,486.20 L503.11,486.20 L503.40,486.20 L503.69,486.20 L503.97,486.20 L504.26,486.20 L504.55,486.20 L504.84,486.20 L505.13,486.20 L505.41,486.20 L505.70,486.20 L505.99,486.20 L506.28,486.20 L506.57,486.20 L506.86,486.20 L507.14,486.20 L507.43,486.20 L507.72,486.20 L508.01,486.20 L508.30,486.20 L508.58,486.20 L508.87,486.20 L509.16,486.20 L509.45,486.20 L509.74,486.20 L510.03,486.20 L510.31,486.20 L510.60,486.20 L510.89,486.20 L511.18,486.20 L511.47,486.20 L511.75,486.20 L512.04,486.20 L512.33,486.20 L512.62,486.20 L512.91,486.20 L513.20,486.20 L513.48,486.20 L513.77,486.20 L514.06,486.20 L514.35,486.20 L514.64,486.20 L514.93,486.20 L515.21,486.20 L515.50,486.20 L515.79,486.20 L516.08,486.20 L516.37,486.20 L516.65,486.20 L516.94,486.20 L517.23,486.20 L517.52,486.20 L517.81,486.20 L518.10,486.20 L518.38,486.20 L518.67,486.20 L518.96,486.20 L519.25,486.20 L519.54,486.20 L519.82,486.20 L520.11,486.20 L520.40,486.20 L520.69,486.20 L520.98,486.20 L521.27,486.20 L521.55,486.20 L521.84,486.20 L522.13,486.20 L522.42,486.20 L522.71,486.20 L522.99,486.20 L523.28,486.20 L523.57,486.20 L523.86,486.20 L524.15,486.20 L524.44,486.20 L524.72,486.20 L525.01,486.20 L525.30,486.20 L525.59,486.20 L525.88,486.20 L526.16,486.20 L526.45,486.20 L526.74,486.20 L527.03,486.20 L527.32,486.20 L527.61,486.20 L527.89,486.20 L528.18,486.20 L528.47,486.20 L528.76,486.20 L529.05,486.20 L529.33,486.20 L529.62,486.20 L529.91,486.20 L530.20,486.20 L530.49,486.20 L530.78,486.20 L531.06,486.20 L531.35,486.20 L531.64,486.20 L531.93,486.20 L532.22,486.20 L532.50,486.20 L532.79,486.20 L533.08,486.20 L533.37,486.20 L533.66,486.20 L533.95,486.20 L534.23,486.20 L534.52,486.20 L534.81,486.20 L535.10,486.20 L535.39,486.20 L535.67,486.20 L535.96,486.20 L536.25,486.20 L536.54,486.20 L536.83,486.20 L537.12,486.20 L537.40,486.20 L537.69,486.20 L537.98,486.20 L538.27,486.20 L538.56,486.20 L538.84,486.20 L539.13,486.20 L539.42,486.20 L539.71,486.20 L540.00,486.20 L540.29,486.20 L540.57,486.20 L540.86,486.20 L541.15,486.20 L541.44,486.20 L541.73,486.20 L542.02,486.20 L542.30,486.20 L542.59,486.20 L542.88,486.20 L543.17,486.20 L543.46,486.20 L543.74,486.20 L544.03,486.20 L544.32,486.20 L544.61,486.20 L544.90,486.20 L545.19,486.20 L545.47,486.20 L545.76,486.20 L546.05,486.20 L546.34,486.20 L546.63,486.20 L546.91,486.20 L547.20,486.20 L547.49,486.20 L547.78,486.20 L548.07,486.20 L548.36,486.20 L548.64,486.20 L548.93,486.20 L549.22,486.20 L549.51,486.20 L549.80,486.20 L550.08,486.20 L550.37,486.20 L550.66,486.20 L550.95,486.20 L551.24,486.20 L551.53,486.20 L551.81,486.20 L552.10,486.20 L552.39,486.20 L552.68,486.20 L552.97,486.20 L553.25,486.20 L553.54,486.20 L553.83,486.20 L554.12,486.20 L554.41,486.20 L554.70,486.20 L554.98,486.20 L555.27,486.20 L555.56,486.20 L555.85,486.20 L556.14,486.20 L556.42,486.20 L556.71,486.20 L557.00,486.20 L557.29,486.20 L557.58,486.20 L557.87,486.20 L558.15,486.20 L558.44,486.20 L558.73,486.20 L559.02,486.20 L559.31,486.20 L559.59,486.20 L559.88,486.20 L560.17,486.20 L560.46,486.20 L560.75,486.20 L561.04,486.20 L561.32,486.20 L561.61,486.20 L561.90,486.20 L562.19,486.20 L562.48,486.20 L562.76,486.20 L563.05,486.20 L563.34,486.20 L563.63,486.20 L563.92,486.20 L564.21,486.20 L564.49,486.20 L564.78,486.20 L565.07,486.20 L565.36,486.20 L565.65,486.20 L565.94,486.20 L566.22,486.20 L566.51,486.20 L566.80,486.20 L567.09,486.20 L567.38,486.20 L567.66,486.20 L567.95,486.20 L568.24,486.21 L568.53,486.22 L568.82,486.23 L569.11,486.24 L569.39,486.25 L569.68,486.27 L569.97,486.29 L570.26,486.31 L570.55,486.33 L570.83,486.35 L571.12,486.37 L571.41,486.40 L571.70,486.43 L571.99,486.45 L572.28,486.48 L572.56,486.51 L572.85,486.54 L573.14,486.58 L573.43,486.61 L573.72,486.64 L574.00,486.67 L574.29,486.71 L574.58,486.74 L574.87,486.78 L575.16,486.81 L575.45,486.85 L575.73,486.88 L576.02,486.92 L576.31,486.96 L576.60,486.99 L576.89,487.03 L577.17,487.06 L577.46,487.09 L577.75,487.13 L578.04,487.16 L578.33,487.19 L578.62,487.22 L578.90,487.26 L579.19,487.29 L579.48,487.31 L579.77,487.34 L580.06,487.37 L580.34,487.39 L580.63,487.42 L580.92,487.44 L581.21,487.46 L581.50,487.48 L581.79,487.50 L582.07,487.51 L582.36,487.53 L582.65,487.55 L582.94,487.56 L583.23,487.58 L583.51,487.60 L583.80,487.61 L584.09,487.63 L584.38,487.65 L584.67,487.67 L584.96,487.68 L585.24,487.70 L585.53,487.72 L585.82,487.73 L586.11,487.75 L586.40,487.76 L586.68,487.78 L586.97,487.79 L587.26,487.81 L587.55,487.82 L587.84,487.83 L588.13,487.84 L588.41,487.86 L588.70,487.87 L588.99,487.88 L589.28,487.89 L589.57,487.89 L589.85,487.90 L590.14,487.91 L590.43,487.92 L590.72,487.92 L591.01,487.92 L591.30,487.93 L591.58,487.93 L591.87,487.93 L592.16,487.93 L592.45,487.93 L592.74,487.93 L593.03,487.93 L593.31,487.93 L593.60,487.93 L593.89,487.93 L594.18,487.93 L594.47,487.92 L594.75,487.92 L595.04,487.92 L595.33,487.92 L595.62,487.92 L595.91,487.92 L596.20,487.91 L596.48,487.91 L596.77,487.91 L597.06,487.90 L597.35,487.90 L597.64,487.90 L597.92,487.89 L598.21,487.89 L598.50,487.88 L598.79,487.87 L599.08,487.87 L599.37,487.86 L599.65,487.85 L599.94,487.85 L600.23,487.84 L600.52,487.83 L600.81,487.82 L601.09,487.81 L601.38,487.80 L601.67,487.79 L601.96,487.78 L602.25,487.77 L602.54,487.75 L602.82,487.74 L603.11,487.73 L603.40,487.71" stroke="#7A0000"/>
<path d="M171.40,486.20 L171.69,486.20 L171.98,486.20 L172.26,486.20 L172.55,486.20 L172.84,486.20 L173.13,486.20 L173.42,486.20 L173.71,486.20 L173.99,486.20 L174.28,486.20 L174.57,486.20 L174.86,486.20 L175.15,486.20 L175.43,486.20 L175.72,486.20 L176.01,486.20 L176.30,486.20 L176.59,486.20 L176.88,486.20 L177.16,486.20 L177.45,486.20 L177.74,486.20 L178.03,486.20 L178.32,486.20 L178.60,486.20 L178.89,486.20 L179.18,486.20 L179.47,486.20 L179.76,486.20 L180.05,486.20 L180.33,486.20 L180.62,486.20 L180.91,485.99 L181.20,485.41 L181.49,484.52 L181.77,483.37 L182.06,482.02 L182.35,480.52 L182.64,478.93 L182.93,477.30 L183.22,475.70 L183.50,474.11 L183.79,472.34 L184.08,470.36 L184.37,468.22 L184.66,465.95 L184.95,463.59 L185.23,461.16 L185.52,458.71 L185.81,456.26 L186.10,453.86 L186.39,451.53 L186.67,449.12 L186.96,446.53 L187.25,443.91 L187.54,441.40 L187.83,439.11 L188.12,437.20 L188.40,435.71 L188.69,434.31 L188.98,432.98 L189.27,431.72 L189.56,430.56 L189.84,429.52 L190.13,428.62 L190.42,427.88 L190.71,427.32 L191.00,426.96 L191.29,426.73 L191.57,426.55 L191.86,426.42 L192.15,426.31 L192.44,426.22 L192.73,426.14 L193.01,426.05 L193.30,425.96 L193.59,425.84 L193.88,425.68 L194.17,425.48 L194.46,425.23 L194.74,424.59 L195.03,423.37 L195.32,421.68 L195.61,419.59 L195.90,417.20 L196.18,414.60 L196.47,411.88 L196.76,409.14 L197.05,406.25 L197.34,402.40 L197.63,397.93 L197.91,393.30 L198.20,388.99 L198.49,385.47 L198.78,383.21 L199.07,381.66 L199.35,380.22 L199.64,378.91 L199.93,377.76 L200.22,376.82 L200.51,376.11 L200.80,375.66 L201.08,375.52 L201.37,375.80 L201.66,376.53 L201.95,377.62 L202.24,379.03 L202.52,380.67 L202.81,382.49 L203.10,384.68 L203.39,388.23 L203.68,392.83 L203.97,398.01 L204.25,403.33 L204.54,408.31 L204.83,413.26 L205.12,418.48 L205.41,423.80 L205.69,429.05 L205.98,434.05 L206.27,438.62 L206.56,442.70 L206.85,446.58 L207.14,450.30 L207.42,453.85 L207.71,457.22 L208.00,460.39 L208.29,463.36 L208.58,466.11 L208.86,468.69 L209.15,471.32 L209.44,473.95 L209.73,476.49 L210.02,478.83 L210.31,480.90 L210.59,482.60 L210.88,483.83 L211.17,484.51 L211.46,484.92 L211.75,485.28 L212.04,485.60 L212.32,485.86 L212.61,486.05 L212.90,486.16 L213.19,486.20 L213.48,486.20 L213.76,486.20 L214.05,486.20 L214.34,486.20 L214.63,486.20 L214.92,486.20 L215.21,486.20 L215.49,486.20 L215.78,486.20 L216.07,486.20 L216.36,486.20 L216.65,486.20 L216.93,486.20 L217.22,486.20 L217.51,486.20 L217.80,486.20 L218.09,486.20 L218.38,486.20 L218.66,486.20 L218.95,486.20 L219.24,486.20 L219.53,486.20 L219.82,486.20 L220.10,486.20 L220.39,486.20 L220.68,486.20 L220.97,486.20 L221.26,486.20 L221.55,486.20 L221.83,486.20 L222.12,486.20 L222.41,486.20 L222.70,486.20 L222.99,486.20 L223.27,486.20 L223.56,486.20 L223.85,486.20 L224.14,486.20 L224.43,486.20 L224.72,486.20 L225.00,486.20 L225.29,486.20 L225.58,486.20 L225.87,486.20 L226.16,486.20 L226.44,486.20 L226.73,486.20 L227.02,486.20 L227.31,486.20 L227.60,486.20 L227.89,486.20 L228.17,486.20 L228.46,486.20 L228.75,486.20 L229.04,486.20 L229.33,486.20 L229.61,486.20 L229.90,486.19 L230.19,486.13 L230.48,486.03 L230.77,485.88 L231.06,485.69 L231.34,485.47 L231.63,485.21 L231.92,484.93 L232.21,484.62 L232.50,484.29 L232.78,483.95 L233.07,483.59 L233.36,483.22 L233.65,482.85 L233.94,482.48 L234.23,482.11 L234.51,481.75 L234.80,481.39 L235.09,480.99 L235.38,480.51 L235.67,479.98 L235.96,479.39 L236.24,478.77 L236.53,478.12 L236.82,477.47 L237.11,476.82 L237.40,476.19 L237.68,475.58 L237.97,475.02 L238.26,474.51 L238.55,474.07 L238.84,473.70 L239.13,473.44 L239.41,473.27 L239.70,473.23 L239.99,473.31 L240.28,473.48 L240.57,473.76 L240.85,474.11 L241.14,474.54 L241.43,475.02 L241.72,475.56 L242.01,476.13 L242.30,476.73 L242.58,477.34 L242.87,477.96 L243.16,478.58 L243.45,479.17 L243.74,479.74 L244.02,480.27 L244.31,480.74 L244.60,481.16 L244.89,481.50 L245.18,481.82 L245.47,482.14 L245.75,482.47 L246.04,482.80 L246.33,483.13 L246.62,483.45 L246.91,483.77 L247.19,484.08 L247.48,484.37 L247.77,484.66 L248.06,484.92 L248.35,485.17 L248.64,485.40 L248.92,485.60 L249.21,485.78 L249.50,485.93 L249.79,486.05 L250.08,486.14 L250.36,486.19 L250.65,486.20 L250.94,486.20 L251.23,486.20 L251.52,486.20 L251.81,486.20 L252.09,486.20 L252.38,486.20 L252.67,486.20 L252.96,486.20 L253.25,486.20 L253.53,486.20 L253.82,486.20 L254.11,486.20 L254.40,486.20 L254.69,486.20 L254.98,486.20 L255.26,486.20 L255.55,486.20 L255.84,486.20 L256.13,486.20 L256.42,486.20 L256.70,486.20 L256.99,486.20 L257.28,486.20 L257.57,486.20 L257.86,486.20 L258.15,486.20 L258.43,486.20 L258.72,486.20 L259.01,486.20 L259.30,486.20 L259.59,486.20 L259.87,486.20 L260.16,486.20 L260.45,486.20 L260.74,486.20 L261.03,486.20 L261.32,486.20 L261.60,486.20 L261.89,486.20 L262.18,486.20 L262.47,486.20 L262.76,486.20 L263.05,486.20 L263.33,486.20 L263.62,486.20 L263.91,486.20 L264.20,486.20 L264.49,486.20 L264.77,486.20 L265.06,486.20 L265.35,486.20 L265.64,486.20 L265.93,486.20 L266.22,486.20 L266.50,486.20 L266.79,486.20 L267.08,486.20 L267.37,486.20 L267.66,486.20 L267.94,486.20 L268.23,486.20 L268.52,486.20 L268.81,486.20 L269.10,486.20 L269.39,486.20 L269.67,486.20 L269.96,486.20 L270.25,486.20 L270.54,486.20 L270.83,486.20 L271.11,486.20 L271.40,486.20 L271.69,486.20 L271.98,486.20 L272.27,486.20 L272.56,486.20 L272.84,486.20 L273.13,486.20 L273.42,486.20 L273.71,486.20 L274.00,486.20 L274.28,486.20 L274.57,486.20 L274.86,486.20 L275.15,486.20 L275.44,486.20 L275.73,486.20 L276.01,486.20 L276.30,486.20 L276.59,486.20 L276.88,486.20 L277.17,486.20 L277.45,486.20 L277.74,486.20 L278.03,486.20 L278.32,486.20 L278.61,486.20 L278.90,486.20 L279.18,486.20 L279.47,486.20 L279.76,486.20 L280.05,486.20 L280.34,486.20 L280.62,486.20 L280.91,486.20 L281.20,486.20 L281.49,486.20 L281.78,486.20 L282.07,486.20 L282.35,486.20 L282.64,486.20 L282.93,486.20 L283.22,486.20 L283.51,486.20 L283.79,486.20 L284.08,486.20 L284.37,486.20 L284.66,486.20 L284.95,486.20 L285.24,486.20 L285.52,486.20 L285.81,486.20 L286.10,486.20 L286.39,486.20 L286.68,486.20 L286.97,486.20 L287.25,486.20 L287.54,486.20 L287.83,486.20 L288.12,486.20 L288.41,486.20 L288.69,486.20 L288.98,486.19 L289.27,486.16 L289.56,486.10 L289.85,486.01 L290.14,485.91 L290.42,485.78 L290.71,485.64 L291.00,485.48 L291.29,485.31 L291.58,485.12 L291.86,484.93 L292.15,484.72 L292.44,484.51 L292.73,484.30 L293.02,484.08 L293.31,483.86 L293.59,483.64 L293.88,483.43 L294.17,483.22 L294.46,483.01 L294.75,482.82 L295.03,482.63 L295.32,482.46 L295.61,482.31 L295.90,482.16 L296.19,482.04 L296.48,481.94 L296.76,481.85 L297.05,481.78 L297.34,481.70 L297.63,481.63 L297.92,481.55 L298.20,481.48 L298.49,481.40 L298.78,481.33 L299.07,481.26 L299.36,481.19 L299.65,481.12 L299.93,481.05 L300.22,480.99 L300.51,480.92 L300.80,480.86 L301.09,480.80 L301.37,480.74 L301.66,480.69 L301.95,480.63 L302.24,480.58 L302.53,480.53 L302.82,480.48 L303.10,480.44 L303.39,480.40 L303.68,480.36 L303.97,480.32 L304.26,480.29 L304.54,480.26 L304.83,480.23 L305.12,480.21 L305.41,480.19 L305.70,480.17 L305.99,480.16 L306.27,480.15 L306.56,480.15 L306.85,480.15 L307.14,480.15 L307.43,480.16 L307.71,480.17 L308.00,480.19 L308.29,480.21 L308.58,480.23 L308.87,480.26 L309.16,480.29 L309.44,480.32 L309.73,480.36 L310.02,480.40 L310.31,480.45 L310.60,480.49 L310.88,480.54 L311.17,480.59 L311.46,480.64 L311.75,480.70 L312.04,480.76 L312.33,480.82 L312.61,480.88 L312.90,480.94 L313.19,481.00 L313.48,481.07 L313.77,481.14 L314.06,481.20 L314.34,481.27 L314.63,481.34 L314.92,481.41 L315.21,481.48 L315.50,481.55 L315.78,481.62 L316.07,481.69 L316.36,481.76 L316.65,481.83 L316.94,481.90 L317.23,481.98 L317.51,482.07 L317.80,482.17 L318.09,482.28 L318.38,482.40 L318.67,482.53 L318.95,482.66 L319.24,482.80 L319.53,482.94 L319.82,483.09 L320.11,483.24 L320.40,483.39 L320.68,483.55 L320.97,483.70 L321.26,483.86 L321.55,484.01 L321.84,484.16 L322.12,484.31 L322.41,484.45 L322.70,484.59 L322.99,484.72 L323.28,484.85 L323.57,484.97 L323.85,485.08 L324.14,485.18 L324.43,485.27 L324.72,485.35 L325.01,485.42 L325.29,485.47 L325.58,485.51 L325.87,485.54 L326.16,485.55 L326.45,485.55 L326.74,485.54 L327.02,485.54 L327.31,485.52 L327.60,485.51 L327.89,485.49 L328.18,485.47 L328.46,485.44 L328.75,485.42 L329.04,485.39 L329.33,485.35 L329.62,485.32 L329.91,485.29 L330.19,485.25 L330.48,485.21 L330.77,485.17 L331.06,485.13 L331.35,485.09 L331.63,485.05 L331.92,485.01 L332.21,484.97 L332.50,484.93 L332.79,484.89 L333.08,484.85 L333.36,484.81 L333.65,484.77 L333.94,484.74 L334.23,484.70 L334.52,484.67 L334.80,484.64 L335.09,484.61 L335.38,484.58 L335.67,484.55 L335.96,484.53 L336.25,484.51 L336.53,484.49 L336.82,484.48 L337.11,484.47 L337.40,484.46 L337.69,484.45 L337.98,484.44 L338.26,484.43 L338.55,484.42 L338.84,484.41 L339.13,484.40 L339.42,484.39 L339.70,484.38 L339.99,484.37 L340.28,484.36 L340.57,484.36 L340.86,484.35 L341.15,484.34 L341.43,484.33 L341.72,484.33 L342.01,484.32 L342.30,484.31 L342.59,484.31 L342.87,484.30 L343.16,484.29 L343.45,484.29 L343.74,484.28 L344.03,484.28 L344.32,484.28 L344.60,484.27 L344.89,484.27 L345.18,484.26 L345.47,484.26 L345.76,484.26 L346.04,484.26 L346.33,484.26 L346.62,484.26 L346.91,484.25 L347.20,484.25 L347.49,484.26 L347.77,484.26 L348.06,484.26 L348.35,484.26 L348.64,484.26 L348.93,484.27 L349.21,484.27 L349.50,484.28 L349.79,484.28 L350.08,484.29 L350.37,484.29 L350.66,484.30 L350.94,484.31 L351.23,484.32 L351.52,484.33 L351.81,484.34 L352.10,484.35 L352.38,484.36 L352.67,484.37 L352.96,484.38 L353.25,484.39 L353.54,484.40 L353.83,484.42 L354.11,484.43 L354.40,484.44 L354.69,484.46 L354.98,484.47 L355.27,484.49 L355.55,484.50 L355.84,484.52 L356.13,484.53 L356.42,484.55 L356.71,484.57 L357.00,484.58 L357.28,484.60 L357.57,484.62 L357.86,484.64 L358.15,484.66 L358.44,484.68 L358.72,484.70 L359.01,484.73 L359.30,484.77 L359.59,484.81 L359.88,484.87 L360.17,484.93 L360.45,485.00 L360.74,485.08 L361.03,485.16 L361.32,485.24 L361.61,485.33 L361.89,485.41 L362.18,485.50 L362.47,485.58 L362.76,485.67 L363.05,485.75 L363.34,485.83 L363.62,485.90 L363.91,485.97 L364.20,486.03 L364.49,486.08 L364.78,486.13 L365.07,486.16 L365.35,486.18 L365.64,486.20 L365.93,486.20 L366.22,486.20 L366.51,486.20 L366.79,486.20 L367.08,486.20 L367.37,486.20 L367.66,486.20 L367.95,486.20 L368.24,486.20 L368.52,486.20 L368.81,486.20 L369.10,486.20 L369.39,486.20 L369.68,486.20 L369.96,486.20 L370.25,486.20 L370.54,486.20 L370.83,486.20 L371.12,486.20 L371.41,486.20 L371.69,486.20 L371.98,486.20 L372.27,486.20 L372.56,486.20 L372.85,486.20 L373.13,486.20 L373.42,486.20 L373.71,486.20 L374.00,486.20 L374.29,486.20 L374.58,486.20 L374.86,486.20 L375.15,486.20 L375.44,486.20 L375.73,486.20 L376.02,486.20 L376.30,486.20 L376.59,486.20 L376.88,486.20 L377.17,486.20 L377.46,486.20 L377.75,486.20 L378.03,486.20 L378.32,486.20 L378.61,486.20 L378.90,486.20 L379.19,486.20 L379.47,486.20 L379.76,486.20 L380.05,486.20 L380.34,486.20 L380.63,486.20 L380.92,486.20 L381.20,486.20 L381.49,486.20 L381.78,486.20 L382.07,486.20 L382.36,486.20 L382.64,486.20 L382.93,486.20 L383.22,486.20 L383.51,486.20 L383.80,486.20 L384.09,486.20 L384.37,486.20 L384.66,486.20 L384.95,486.20 L385.24,486.20 L385.53,486.20 L385.81,486.20 L386.10,486.20 L386.39,486.20 L386.68,486.20 L386.97,486.20 L387.26,486.20 L387.54,486.20 L387.83,486.20 L388.12,486.20 L388.41,486.20 L388.70,486.20 L388.99,486.20 L389.27,486.20 L389.56,486.20 L389.85,486.20 L390.14,486.20 L390.43,486.20 L390.71,486.20 L391.00,486.20 L391.29,486.20 L391.58,486.20 L391.87,486.20 L392.16,486.20 L392.44,486.20 L392.73,486.20 L393.02,486.20 L393.31,486.20 L393.60,486.20 L393.88,486.20 L394.17,486.20 L394.46,486.20 L394.75,486.20 L395.04,486.20 L395.33,486.20 L395.61,486.20 L395.90,486.20 L396.19,486.20 L396.48,486.20 L396.77,486.20 L397.05,486.20 L397.34,486.20 L397.63,486.20 L397.92,486.20 L398.21,486.20 L398.50,486.20 L398.78,486.20 L399.07,486.20 L399.36,486.20 L399.65,486.20 L399.94,486.20 L400.22,486.20 L400.51,486.20 L400.80,486.20 L401.09,486.20 L401.38,486.20 L401.67,486.20 L401.95,486.20 L402.24,486.20 L402.53,486.20 L402.82,486.20 L403.11,486.20 L403.39,486.20 L403.68,486.20 L403.97,486.20 L404.26,486.20 L404.55,486.20 L404.84,486.20 L405.12,486.20 L405.41,486.20 L405.70,486.20 L405.99,486.20 L406.28,486.20 L406.56,486.20 L406.85,486.20 L407.14,486.20 L407.43,486.20 L407.72,486.20 L408.01,486.20 L408.29,486.20 L408.58,486.20 L408.87,486.20 L409.16,486.20 L409.45,486.20 L409.73,486.19 L410.02,486.15 L410.31,486.08 L410.60,485.97 L410.89,485.83 L411.18,485.67 L411.46,485.48 L411.75,485.27 L412.04,485.05 L412.33,484.81 L412.62,484.56 L412.91,484.31 L413.19,484.05 L413.48,483.79 L413.77,483.53 L414.06,483.28 L414.35,483.03 L414.63,482.80 L414.92,482.58 L415.21,482.38 L415.50,482.20 L415.79,482.05 L416.08,481.92 L416.36,481.82 L416.65,481.72 L416.94,481.62 L417.23,481.52 L417.52,481.43 L417.80,481.33 L418.09,481.24 L418.38,481.15 L418.67,481.06 L418.96,480.98 L419.25,480.89 L419.53,480.82 L419.82,480.75 L420.11,480.68 L420.40,480.62 L420.69,480.56 L420.97,480.51 L421.26,480.47 L421.55,480.43 L421.84,480.40 L422.13,480.38 L422.42,480.37 L422.70,480.36 L422.99,480.37 L423.28,480.40 L423.57,480.43 L423.86,480.48 L424.14,480.55 L424.43,480.62 L424.72,480.70 L425.01,480.79 L425.30,480.89 L425.59,480.99 L425.87,481.10 L426.16,481.21 L426.45,481.33 L426.74,481.44 L427.03,481.56 L427.31,481.68 L427.60,481.80 L427.89,481.92 L428.18,482.03 L428.47,482.13 L428.76,482.24 L429.04,482.33 L429.33,482.42 L429.62,482.50 L429.91,482.57 L430.20,482.63 L430.48,482.68 L430.77,482.71 L431.06,482.74 L431.35,482.74 L431.64,482.73 L431.93,482.71 L432.21,482.68 L432.50,482.64 L432.79,482.59 L433.08,482.53 L433.37,482.47 L433.65,482.39 L433.94,482.31 L434.23,482.23 L434.52,482.14 L434.81,482.05 L435.10,481.95 L435.38,481.85 L435.67,481.76 L435.96,481.66 L436.25,481.56 L436.54,481.47 L436.82,481.38 L437.11,481.29 L437.40,481.21 L437.69,481.13 L437.98,481.06 L438.27,480.99 L438.55,480.93 L438.84,480.89 L439.13,480.85 L439.42,480.82 L439.71,480.80 L440.00,480.80 L440.28,480.80 L440.57,480.81 L440.86,480.83 L441.15,480.85 L441.44,480.88 L441.72,480.92 L442.01,480.96 L442.30,481.01 L442.59,481.06 L442.88,481.11 L443.17,481.17 L443.45,481.23 L443.74,481.30 L444.03,481.37 L444.32,481.44 L444.61,481.51 L444.89,481.59 L445.18,481.66 L445.47,481.74 L445.76,481.82 L446.05,481.90 L446.34,481.98 L446.62,482.06 L446.91,482.14 L447.20,482.22 L447.49,482.30 L447.78,482.37 L448.06,482.45 L448.35,482.52 L448.64,482.59 L448.93,482.66 L449.22,482.72 L449.51,482.78 L449.79,482.85 L450.08,482.91 L450.37,482.98 L450.66,483.05 L450.95,483.12 L451.23,483.20 L451.52,483.27 L451.81,483.35 L452.10,483.42 L452.39,483.50 L452.68,483.58 L452.96,483.67 L453.25,483.75 L453.54,483.83 L453.83,483.91 L454.12,484.00 L454.40,484.08 L454.69,484.16 L454.98,484.25 L455.27,484.33 L455.56,484.42 L455.85,484.50 L456.13,484.58 L456.42,484.66 L456.71,484.74 L457.00,484.82 L457.29,484.90 L457.57,484.98 L457.86,485.06 L458.15,485.14 L458.44,485.21 L458.73,485.28 L459.02,485.35 L459.30,485.42 L459.59,485.49 L459.88,485.55 L460.17,485.62 L460.46,485.67 L460.74,485.73 L461.03,485.79 L461.32,485.84 L461.61,485.89 L461.90,485.93 L462.19,485.98 L462.47,486.02 L462.76,486.05 L463.05,486.08 L463.34,486.11 L463.63,486.14 L463.92,486.16 L464.20,486.18 L464.49,486.19 L464.78,486.20 L465.07,486.20 L465.36,486.19 L465.64,486.16 L465.93,486.09 L466.22,486.01 L466.51,485.89 L466.80,485.76 L467.09,485.60 L467.37,485.43 L467.66,485.24 L467.95,485.04 L468.24,484.82 L468.53,484.60 L468.81,484.37 L469.10,484.13 L469.39,483.88 L469.68,483.64 L469.97,483.39 L470.26,483.14 L470.54,482.90 L470.83,482.67 L471.12,482.44 L471.41,482.22 L471.70,482.01 L471.98,481.81 L472.27,481.63 L472.56,481.47 L472.85,481.33 L473.14,481.20 L473.43,481.10 L473.71,481.03 L474.00,480.97 L474.29,480.92 L474.58,480.87 L474.87,480.82 L475.15,480.77 L475.44,480.72 L475.73,480.67 L476.02,480.63 L476.31,480.58 L476.60,480.54 L476.88,480.50 L477.17,480.45 L477.46,480.41 L477.75,480.37 L478.04,480.34 L478.32,480.30 L478.61,480.26 L478.90,480.23 L479.19,480.20 L479.48,480.17 L479.77,480.14 L480.05,480.11 L480.34,480.09 L480.63,480.06 L480.92,480.04 L481.21,480.02 L481.49,480.00 L481.78,479.99 L482.07,479.97 L482.36,479.96 L482.65,479.95 L482.94,479.94 L483.22,479.94 L483.51,479.93 L483.80,479.93 L484.09,479.93 L484.38,479.93 L484.66,479.94 L484.95,479.95 L485.24,479.96 L485.53,479.97 L485.82,479.98 L486.11,479.99 L486.39,480.01 L486.68,480.03 L486.97,480.05 L487.26,480.07 L487.55,480.09 L487.83,480.11 L488.12,480.14 L488.41,480.17 L488.70,480.19 L488.99,480.22 L489.28,480.25 L489.56,480.28 L489.85,480.31 L490.14,480.35 L490.43,480.38 L490.72,480.42 L491.01,480.45 L491.29,480.49 L491.58,480.52 L491.87,480.56 L492.16,480.59 L492.45,480.63 L492.73,480.67 L493.02,480.71 L493.31,480.74 L493.60,480.78 L493.89,480.82 L494.18,480.86 L494.46,480.89 L494.75,480.93 L495.04,480.97 L495.33,481.00 L495.62,481.04 L495.90,481.08 L496.19,481.12 L496.48,481.15 L496.77,481.20 L497.06,481.24 L497.35,481.28 L497.63,481.32 L497.92,481.37 L498.21,481.41 L498.50,481.46 L498.79,481.51 L499.07,481.56 L499.36,481.60 L499.65,481.65 L499.94,481.71 L500.23,481.76 L500.52,481.81 L500.80,481.86 L501.09,481.92 L501.38,481.97 L501.67,482.03 L501.96,482.09 L502.24,482.14 L502.53,482.20 L502.82,482.26 L503.11,482.32 L503.40,482.38 L503.69,482.44 L503.97,482.51 L504.26,482.57 L504.55,482.63 L504.84,482.69 L505.13,482.76 L505.41,482.82 L505.70,482.89 L505.99,482.96 L506.28,483.02 L506.57,483.09 L506.86,483.16 L507.14,483.23 L507.43,483.31 L507.72,483.41 L508.01,483.51 L508.30,483.61 L508.58,483.72 L508.87,483.84 L509.16,483.95 L509.45,484.07 L509.74,484.18 L510.03,484.30 L510.31,484.40 L510.60,484.50 L510.89,484.60 L511.18,484.68 L511.47,484.75 L511.75,484.81 L512.04,484.86 L512.33,484.89 L512.62,484.90 L512.91,484.90 L513.20,484.89 L513.48,484.88 L513.77,484.86 L514.06,484.83 L514.35,484.80 L514.64,484.77 L514.93,484.73 L515.21,484.69 L515.50,484.65 L515.79,484.60 L516.08,484.56 L516.37,484.51 L516.65,484.46 L516.94,484.41 L517.23,484.37 L517.52,484.32 L517.81,484.27 L518.10,484.23 L518.38,484.19 L518.67,484.15 L518.96,484.12 L519.25,484.09 L519.54,484.06 L519.82,484.04 L520.11,484.02 L520.40,484.01 L520.69,483.99 L520.98,483.97 L521.27,483.96 L521.55,483.94 L521.84,483.92 L522.13,483.91 L522.42,483.89 L522.71,483.88 L522.99,483.86 L523.28,483.85 L523.57,483.83 L523.86,483.82 L524.15,483.80 L524.44,483.79 L524.72,483.78 L525.01,483.76 L525.30,483.75 L525.59,483.74 L525.88,483.73 L526.16,483.72 L526.45,483.70 L526.74,483.69 L527.03,483.68 L527.32,483.67 L527.61,483.67 L527.89,483.66 L528.18,483.65 L528.47,483.64 L528.76,483.64 L529.05,483.63 L529.33,483.62 L529.62,483.62 L529.91,483.62 L530.20,483.61 L530.49,483.61 L530.78,483.61 L531.06,483.61 L531.35,483.61 L531.64,483.61 L531.93,483.61 L532.22,483.61 L532.50,483.61 L532.79,483.61 L533.08,483.62 L533.37,483.62 L533.66,483.63 L533.95,483.63 L534.23,483.64 L534.52,483.64 L534.81,483.65 L535.10,483.66 L535.39,483.66 L535.67,483.67 L535.96,483.68 L536.25,483.69 L536.54,483.70 L536.83,483.71 L537.12,483.72 L537.40,483.72 L537.69,483.74 L537.98,483.75 L538.27,483.76 L538.56,483.77 L538.84,483.78 L539.13,483.79 L539.42,483.80 L539.71,483.81 L540.00,483.82 L540.29,483.83 L540.57,483.85 L540.86,483.86 L541.15,483.87 L541.44,483.88 L541.73,483.89 L542.02,483.90 L542.30,483.91 L542.59,483.93 L542.88,483.94 L543.17,483.95 L543.46,483.96 L543.74,483.97 L544.03,483.98 L544.32,483.99 L544.61,484.00 L544.90,484.01 L545.19,484.02 L545.47,484.03 L545.76,484.04 L546.05,484.05 L546.34,484.06 L546.63,484.06 L546.91,484.07 L547.20,484.08 L547.49,484.09 L547.78,484.10 L548.07,484.12 L548.36,484.13 L548.64,484.14 L548.93,484.15 L549.22,484.16 L549.51,484.17 L549.80,484.18 L550.08,484.19 L550.37,484.21 L550.66,484.22 L550.95,484.23 L551.24,484.24 L551.53,484.25 L551.81,484.26 L552.10,484.27 L552.39,484.29 L552.68,484.30 L552.97,484.31 L553.25,484.32 L553.54,484.33 L553.83,484.34 L554.12,484.35 L554.41,484.36 L554.70,484.37 L554.98,484.38 L555.27,484.39 L555.56,484.40 L555.85,484.40 L556.14,484.41 L556.42,484.42 L556.71,484.43 L557.00,484.43 L557.29,484.44 L557.58,484.44 L557.87,484.45 L558.15,484.45 L558.44,484.46 L558.73,484.46 L559.02,484.47 L559.31,484.47 L559.59,484.47 L559.88,484.47 L560.17,484.47 L560.46,484.47 L560.75,484.47 L561.04,484.47 L561.32,484.46 L561.61,484.46 L561.90,484.45 L562.19,484.45 L562.48,484.44 L562.76,484.43 L563.05,484.43 L563.34,484.42 L563.63,484.41 L563.92,484.40 L564.21,484.39 L564.49,484.38 L564.78,484.37 L565.07,484.36 L565.36,484.34 L565.65,484.33 L565.94,484.32 L566.22,484.31 L566.51,484.29 L566.80,484.28 L567.09,484.27 L567.38,484.26 L567.66,484.24 L567.95,484.23 L568.24,484.22 L568.53,484.20 L568.82,484.19 L569.11,484.18 L569.39,484.17 L569.68,484.16 L569.97,484.14 L570.26,484.13 L570.55,484.12 L570.83,484.11 L571.12,484.10 L571.41,484.09 L571.70,484.08 L571.99,484.08 L572.28,484.07 L572.56,484.06 L572.85,484.06 L573.14,484.05 L573.43,484.05 L573.72,484.04 L574.00,484.04 L574.29,484.04 L574.58,484.04 L574.87,484.04 L575.16,484.04 L575.45,484.04 L575.73,484.05 L576.02,484.05 L576.31,484.06 L576.60,484.06 L576.89,484.07 L577.17,484.07 L577.46,484.08 L577.75,484.09 L578.04,484.10 L578.33,484.11 L578.62,484.12 L578.90,484.13 L579.19,484.14 L579.48,484.15 L579.77,484.17 L580.06,484.18 L580.34,484.19 L580.63,484.20 L580.92,484.22 L581.21,484.23 L581.50,484.24 L581.79,484.25 L582.07,484.27 L582.36,484.28 L582.65,484.29 L582.94,484.31 L583.23,484.32 L583.51,484.33 L583.80,484.34 L584.09,484.35 L584.38,484.37 L584.67,484.38 L584.96,484.39 L585.24,484.40 L585.53,484.41 L585.82,484.42 L586.11,484.43 L586.40,484.43 L586.68,484.44 L586.97,484.45 L587.26,484.45 L587.55,484.46 L587.84,484.46 L588.13,484.47 L588.41,484.47 L588.70,484.47 L588.99,484.47 L589.28,484.47 L589.57,484.47 L589.85,484.47 L590.14,484.47 L590.43,484.47 L590.72,484.46 L591.01,484.46 L591.30,484.46 L591.58,484.46 L591.87,484.45 L592.16,484.45 L592.45,484.45 L592.74,484.44 L593.03,484.44 L593.31,484.43 L593.60,484.43 L593.89,484.42 L594.18,484.41 L594.47,484.41 L594.75,484.40 L595.04,484.39 L595.33,484.39 L595.62,484.38 L595.91,484.37 L596.20,484.36 L596.48,484.35 L596.77,484.34 L597.06,484.34 L597.35,484.33 L597.64,484.32 L597.92,484.30 L598.21,484.29 L598.50,484.28 L598.79,484.27 L599.08,484.26 L599.37,484.25 L599.65,484.23 L599.94,484.22 L600.23,484.21 L600.52,484.19 L600.81,484.18 L601.09,484.17 L601.38,484.15 L601.67,484.14 L601.96,484.12 L602.25,484.10 L602.54,484.09 L602.82,484.07 L603.11,484.06 L603.40,484.04" stroke="#1E33EC"/>
<path d="M171.40,486.20 L171.69,486.20 L171.98,486.20 L172.26,486.20 L172.55,486.20 L172.84,486.20 L173.13,486.20 L173.42,486.20 L173.71,486.20 L173.99,486.20 L174.28,486.20 L174.57,486.20 L174.86,486.20 L175.15,486.20 L175.43,486.20 L175.72,486.20 L176.01,486.20 L176.30,486.20 L176.59,486.20 L176.88,486.20 L177.16,486.20 L177.45,486.20 L177.74,486.20 L178.03,486.20 L178.32,486.20 L178.60,486.20 L178.89,486.20 L179.18,486.20 L179.47,486.20 L179.76,486.20 L180.05,486.20 L180.33,486.20 L180.62,486.20 L180.91,486.41 L181.20,486.99 L181.49,487.88 L181.77,489.03 L182.06,490.38 L182.35,491.88 L182.64,493.47 L182.93,495.10 L183.22,496.70 L183.50,498.29 L183.79,500.06 L184.08,502.04 L184.37,504.18 L184.66,506.45 L184.95,508.81 L185.23,511.24 L185.52,513.69 L185.81,516.14 L186.10,518.54 L186.39,520.87 L186.67,523.28 L186.96,525.87 L187.25,528.49 L187.54,531.00 L187.83,533.29 L188.12,535.20 L188.40,536.69 L188.69,538.09 L188.98,539.42 L189.27,540.68 L189.56,541.84 L189.84,542.88 L190.13,543.78 L190.42,544.52 L190.71,545.08 L191.00,545.44 L191.29,545.67 L191.57,545.85 L191.86,545.98 L192.15,546.09 L192.44,546.18 L192.73,546.26 L193.01,546.35 L193.30,546.44 L193.59,546.56 L193.88,546.72 L194.17,546.92 L194.46,547.17 L194.74,547.81 L195.03,549.03 L195.32,550.72 L195.61,552.81 L195.90,555.20 L196.18,557.80 L196.47,560.52 L196.76,563.26 L197.05,566.15 L197.34,570.00 L197.63,574.47 L197.91,579.10 L198.20,583.41 L198.49,586.93 L198.78,589.19 L199.07,590.74 L199.35,592.18 L199.64,593.49 L199.93,594.64 L200.22,595.58 L200.51,596.29 L200.80,596.74 L201.08,596.88 L201.37,596.60 L201.66,595.87 L201.95,594.78 L202.24,593.37 L202.52,591.73 L202.81,589.91 L203.10,587.72 L203.39,584.17 L203.68,579.57 L203.97,574.39 L204.25,569.07 L204.54,564.09 L204.83,559.14 L205.12,553.92 L205.41,548.60 L205.69,543.35 L205.98,538.35 L206.27,533.78 L206.56,529.70 L206.85,525.82 L207.14,522.10 L207.42,518.55 L207.71,515.18 L208.00,512.01 L208.29,509.04 L208.58,506.29 L208.86,503.71 L209.15,501.08 L209.44,498.45 L209.73,495.91 L210.02,493.57 L210.31,491.50 L210.59,489.80 L210.88,488.57 L211.17,487.89 L211.46,487.48 L211.75,487.12 L212.04,486.80 L212.32,486.54 L212.61,486.35 L212.90,486.24 L213.19,486.20 L213.48,486.20 L213.76,486.20 L214.05,486.20 L214.34,486.20 L214.63,486.20 L214.92,486.20 L215.21,486.20 L215.49,486.20 L215.78,486.20 L216.07,486.20 L216.36,486.20 L216.65,486.20 L216.93,486.20 L217.22,486.20 L217.51,486.20 L217.80,486.20 L218.09,486.20 L218.38,486.20 L218.66,486.20 L218.95,486.20 L219.24,486.20 L219.53,486.20 L219.82,486.20 L220.10,486.20 L220.39,486.20 L220.68,486.20 L220.97,486.20 L221.26,486.20 L221.55,486.20 L221.83,486.20 L222.12,486.20 L222.41,486.20 L222.70,486.20 L222.99,486.20 L223.27,486.20 L223.56,486.20 L223.85,486.20 L224.14,486.20 L224.43,486.20 L224.72,486.20 L225.00,486.20 L225.29,486.20 L225.58,486.20 L225.87,486.20 L226.16,486.20 L226.44,486.20 L226.73,486.20 L227.02,486.20 L227.31,486.20 L227.60,486.20 L227.89,486.20 L228.17,486.20 L228.46,486.20 L228.75,486.20 L229.04,486.20 L229.33,486.20 L229.61,486.20 L229.90,486.21 L230.19,486.27 L230.48,486.37 L230.77,486.52 L231.06,486.71 L231.34,486.93 L231.63,487.19 L231.92,487.47 L232.21,487.78 L232.50,488.11 L232.78,488.45 L233.07,488.81 L233.36,489.18 L233.65,489.55 L233.94,489.92 L234.23,490.29 L234.51,490.65 L234.80,491.01 L235.09,491.41 L235.38,491.89 L235.67,492.42 L235.96,493.01 L236.24,493.63 L236.53,494.28 L236.82,494.93 L237.11,495.58 L237.40,496.21 L237.68,496.82 L237.97,497.38 L238.26,497.89 L238.55,498.33 L238.84,498.70 L239.13,498.96 L239.41,499.13 L239.70,499.17 L239.99,499.09 L240.28,498.92 L240.57,498.64 L240.85,498.29 L241.14,497.86 L241.43,497.38 L241.72,496.84 L242.01,496.27 L242.30,495.67 L242.58,495.06 L242.87,494.44 L243.16,493.82 L243.45,493.23 L243.74,492.66 L244.02,492.13 L244.31,491.66 L244.60,491.24 L244.89,490.90 L245.18,490.58 L245.47,490.26 L245.75,489.93 L246.04,489.60 L246.33,489.27 L246.62,488.95 L246.91,488.63 L247.19,488.32 L247.48,488.03 L247.77,487.74 L248.06,487.48 L248.35,487.23 L248.64,487.00 L248.92,486.80 L249.21,486.62 L249.50,486.47 L249.79,486.35 L250.08,486.26 L250.36,486.21 L250.65,486.20 L250.94,486.20 L251.23,486.20 L251.52,486.20 L251.81,486.20 L252.09,486.20 L252.38,486.20 L252.67,486.20 L252.96,486.20 L253.25,486.20 L253.53,486.20 L253.82,486.20 L254.11,486.20 L254.40,486.20 L254.69,486.20 L254.98,486.20 L255.26,486.20 L255.55,486.20 L255.84,486.20 L256.13,486.20 L256.42,486.20 L256.70,486.20 L256.99,486.20 L257.28,486.20 L257.57,486.20 L257.86,486.20 L258.15,486.20 L258.43,486.20 L258.72,486.20 L259.01,486.20 L259.30,486.20 L259.59,486.20 L259.87,486.20 L260.16,486.20 L260.45,486.20 L260.74,486.20 L261.03,486.20 L261.32,486.20 L261.60,486.20 L261.89,486.20 L262.18,486.20 L262.47,486.20 L262.76,486.20 L263.05,486.20 L263.33,486.20 L263.62,486.20 L263.91,486.20 L264.20,486.20 L264.49,486.20 L264.77,486.20 L265.06,486.20 L265.35,486.20 L265.64,486.20 L265.93,486.20 L266.22,486.20 L266.50,486.20 L266.79,486.20 L267.08,486.20 L267.37,486.20 L267.66,486.20 L267.94,486.20 L268.23,486.20 L268.52,486.20 L268.81,486.20 L269.10,486.20 L269.39,486.20 L269.67,486.20 L269.96,486.20 L270.25,486.20 L270.54,486.20 L270.83,486.20 L271.11,486.20 L271.40,486.20 L271.69,486.20 L271.98,486.20 L272.27,486.20 L272.56,486.20 L272.84,486.20 L273.13,486.20 L273.42,486.20 L273.71,486.20 L274.00,486.20 L274.28,486.20 L274.57,486.20 L274.86,486.20 L275.15,486.20 L275.44,486.20 L275.73,486.20 L276.01,486.20 L276.30,486.20 L276.59,486.20 L276.88,486.20 L277.17,486.20 L277.45,486.20 L277.74,486.20 L278.03,486.20 L278.32,486.20 L278.61,486.20 L278.90,486.20 L279.18,486.20 L279.47,486.20 L279.76,486.20 L280.05,486.20 L280.34,486.20 L280.62,486.20 L280.91,486.20 L281.20,486.20 L281.49,486.20 L281.78,486.20 L282.07,486.20 L282.35,486.20 L282.64,486.20 L282.93,486.20 L283.22,486.20 L283.51,486.20 L283.79,486.20 L284.08,486.20 L284.37,486.20 L284.66,486.20 L284.95,486.20 L285.24,486.20 L285.52,486.20 L285.81,486.20 L286.10,486.20 L286.39,486.20 L286.68,486.20 L286.97,486.20 L287.25,486.20 L287.54,486.20 L287.83,486.20 L288.12,486.20 L288.41,486.20 L288.69,486.20 L288.98,486.21 L289.27,486.24 L289.56,486.30 L289.85,486.39 L290.14,486.49 L290.42,486.62 L290.71,486.76 L291.00,486.92 L291.29,487.09 L291.58,487.28 L291.86,487.47 L292.15,487.68 L292.44,487.89 L292.73,488.10 L293.02,488.32 L293.31,488.54 L293.59,488.76 L293.88,488.97 L294.17,489.18 L294.46,489.39 L294.75,489.58 L295.03,489.77 L295.32,489.94 L295.61,490.09 L295.90,490.24 L296.19,490.36 L296.48,490.46 L296.76,490.55 L297.05,490.62 L297.34,490.70 L297.63,490.77 L297.92,490.85 L298.20,490.92 L298.49,491.00 L298.78,491.07 L299.07,491.14 L299.36,491.21 L299.65,491.28 L299.93,491.35 L300.22,491.41 L300.51,491.48 L300.80,491.54 L301.09,491.60 L301.37,491.66 L301.66,491.71 L301.95,491.77 L302.24,491.82 L302.53,491.87 L302.82,491.92 L303.10,491.96 L303.39,492.00 L303.68,492.04 L303.97,492.08 L304.26,492.11 L304.54,492.14 L304.83,492.17 L305.12,492.19 L305.41,492.21 L305.70,492.23 L305.99,492.24 L306.27,492.25 L306.56,492.25 L306.85,492.25 L307.14,492.25 L307.43,492.24 L307.71,492.23 L308.00,492.21 L308.29,492.19 L308.58,492.17 L308.87,492.14 L309.16,492.11 L309.44,492.08 L309.73,492.04 L310.02,492.00 L310.31,491.95 L310.60,491.91 L310.88,491.86 L311.17,491.81 L311.46,491.76 L311.75,491.70 L312.04,491.64 L312.33,491.58 L312.61,491.52 L312.90,491.46 L313.19,491.40 L313.48,491.33 L313.77,491.26 L314.06,491.20 L314.34,491.13 L314.63,491.06 L314.92,490.99 L315.21,490.92 L315.50,490.85 L315.78,490.78 L316.07,490.71 L316.36,490.64 L316.65,490.57 L316.94,490.50 L317.23,490.42 L317.51,490.33 L317.80,490.23 L318.09,490.12 L318.38,490.00 L318.67,489.87 L318.95,489.74 L319.24,489.60 L319.53,489.46 L319.82,489.31 L320.11,489.16 L320.40,489.01 L320.68,488.85 L320.97,488.70 L321.26,488.54 L321.55,488.39 L321.84,488.24 L322.12,488.09 L322.41,487.95 L322.70,487.81 L322.99,487.68 L323.28,487.55 L323.57,487.43 L323.85,487.32 L324.14,487.22 L324.43,487.13 L324.72,487.05 L325.01,486.98 L325.29,486.93 L325.58,486.89 L325.87,486.86 L326.16,486.85 L326.45,486.85 L326.74,486.86 L327.02,486.86 L327.31,486.88 L327.60,486.89 L327.89,486.91 L328.18,486.93 L328.46,486.96 L328.75,486.98 L329.04,487.01 L329.33,487.05 L329.62,487.08 L329.91,487.11 L330.19,487.15 L330.48,487.19 L330.77,487.23 L331.06,487.27 L331.35,487.31 L331.63,487.35 L331.92,487.39 L332.21,487.43 L332.50,487.47 L332.79,487.51 L333.08,487.55 L333.36,487.59 L333.65,487.63 L333.94,487.66 L334.23,487.70 L334.52,487.73 L334.80,487.76 L335.09,487.79 L335.38,487.82 L335.67,487.85 L335.96,487.87 L336.25,487.89 L336.53,487.91 L336.82,487.92 L337.11,487.93 L337.40,487.94 L337.69,487.95 L337.98,487.96 L338.26,487.97 L338.55,487.98 L338.84,487.99 L339.13,488.00 L339.42,488.01 L339.70,488.02 L339.99,488.03 L340.28,488.04 L340.57,488.04 L340.86,488.05 L341.15,488.06 L341.43,488.07 L341.72,488.07 L342.01,488.08 L342.30,488.09 L342.59,488.09 L342.87,488.10 L343.16,488.11 L343.45,488.11 L343.74,488.12 L344.03,488.12 L344.32,488.12 L344.60,488.13 L344.89,488.13 L345.18,488.14 L345.47,488.14 L345.76,488.14 L346.04,488.14 L346.33,488.14 L346.62,488.14 L346.91,488.15 L347.20,488.15 L347.49,488.14 L347.77,488.14 L348.06,488.14 L348.35,488.14 L348.64,488.14 L348.93,488.13 L349.21,488.13 L349.50,488.12 L349.79,488.12 L350.08,488.11 L350.37,488.11 L350.66,488.10 L350.94,488.09 L351.23,488.08 L351.52,488.07 L351.81,488.06 L352.10,488.05 L352.38,488.04 L352.67,488.03 L352.96,488.02 L353.25,488.01 L353.54,488.00 L353.83,487.98 L354.11,487.97 L354.40,487.96 L354.69,487.94 L354.98,487.93 L355.27,487.91 L355.55,487.90 L355.84,487.88 L356.13,487.87 L356.42,487.85 L356.71,487.83 L357.00,487.82 L357.28,487.80 L357.57,487.78 L357.86,487.76 L358.15,487.74 L358.44,487.72 L358.72,487.70 L359.01,487.67 L359.30,487.63 L359.59,487.59 L359.88,487.53 L360.17,487.47 L360.45,487.40 L360.74,487.32 L361.03,487.24 L361.32,487.16 L361.61,487.07 L361.89,486.99 L362.18,486.90 L362.47,486.82 L362.76,486.73 L363.05,486.65 L363.34,486.57 L363.62,486.50 L363.91,486.43 L364.20,486.37 L364.49,486.32 L364.78,486.27 L365.07,486.24 L365.35,486.22 L365.64,486.20 L365.93,486.20 L366.22,486.20 L366.51,486.20 L366.79,486.20 L367.08,486.20 L367.37,486.20 L367.66,486.20 L367.95,486.20 L368.24,486.20 L368.52,486.20 L368.81,486.20 L369.10,486.20 L369.39,486.20 L369.68,486.20 L369.96,486.20 L370.25,486.20 L370.54,486.20 L370.83,486.20 L371.12,486.20 L371.41,486.20 L371.69,486.20 L371.98,486.20 L372.27,486.20 L372.56,486.20 L372.85,486.20 L373.13,486.20 L373.42,486.20 L373.71,486.20 L374.00,486.20 L374.29,486.20 L374.58,486.20 L374.86,486.20 L375.15,486.20 L375.44,486.20 L375.73,486.20 L376.02,486.20 L376.30,486.20 L376.59,486.20 L376.88,486.20 L377.17,486.20 L377.46,486.20 L377.75,486.20 L378.03,486.20 L378.32,486.20 L378.61,486.20 L378.90,486.20 L379.19,486.20 L379.47,486.20 L379.76,486.20 L380.05,486.20 L380.34,486.20 L380.63,486.20 L380.92,486.20 L381.20,486.20 L381.49,486.20 L381.78,486.20 L382.07,486.20 L382.36,486.20 L382.64,486.20 L382.93,486.20 L383.22,486.20 L383.51,486.20 L383.80,486.20 L384.09,486.20 L384.37,486.20 L384.66,486.20 L384.95,486.20 L385.24,486.20 L385.53,486.20 L385.81,486.20 L386.10,486.20 L386.39,486.20 L386.68,486.20 L386.97,486.20 L387.26,486.20 L387.54,486.20 L387.83,486.20 L388.12,486.20 L388.41,486.20 L388.70,486.20 L388.99,486.20 L389.27,486.20 L389.56,486.20 L389.85,486.20 L390.14,486.20 L390.43,486.20 L390.71,486.20 L391.00,486.20 L391.29,486.20 L391.58,486.20 L391.87,486.20 L392.16,486.20 L392.44,486.20 L392.73,486.20 L393.02,486.20 L393.31,486.20 L393.60,486.20 L393.88,486.20 L394.17,486.20 L394.46,486.20 L394.75,486.20 L395.04,486.20 L395.33,486.20 L395.61,486.20 L395.90,486.20 L396.19,486.20 L396.48,486.20 L396.77,486.20 L397.05,486.20 L397.34,486.20 L397.63,486.20 L397.92,486.20 L398.21,486.20 L398.50,486.20 L398.78,486.20 L399.07,486.20 L399.36,486.20 L399.65,486.20 L399.94,486.20 L400.22,486.20 L400.51,486.20 L400.80,486.20 L401.09,486.20 L401.38,486.20 L401.67,486.20 L401.95,486.20 L402.24,486.20 L402.53,486.20 L402.82,486.20 L403.11,486.20 L403.39,486.20 L403.68,486.20 L403.97,486.20 L404.26,486.20 L404.55,486.20 L404.84,486.20 L405.12,486.20 L405.41,486.20 L405.70,486.20 L405.99,486.20 L406.28,486.20 L406.56,486.20 L406.85,486.20 L407.14,486.20 L407.43,486.20 L407.72,486.20 L408.01,486.20 L408.29,486.20 L408.58,486.20 L408.87,486.20 L409.16,486.20 L409.45,486.20 L409.73,486.21 L410.02,486.25 L410.31,486.32 L410.60,486.43 L410.89,486.57 L411.18,486.73 L411.46,486.92 L411.75,487.13 L412.04,487.35 L412.33,487.59 L412.62,487.84 L412.91,488.09 L413.19,488.35 L413.48,488.61 L413.77,488.87 L414.06,489.12 L414.35,489.37 L414.63,489.60 L414.92,489.82 L415.21,490.02 L415.50,490.20 L415.79,490.35 L416.08,490.48 L416.36,490.58 L416.65,490.68 L416.94,490.78 L417.23,490.88 L417.52,490.97 L417.80,491.07 L418.09,491.16 L418.38,491.25 L418.67,491.34 L418.96,491.42 L419.25,491.51 L419.53,491.58 L419.82,491.65 L420.11,491.72 L420.40,491.78 L420.69,491.84 L420.97,491.89 L421.26,491.93 L421.55,491.97 L421.84,492.00 L422.13,492.02 L422.42,492.03 L422.70,492.04 L422.99,492.03 L423.28,492.00 L423.57,491.97 L423.86,491.92 L424.14,491.85 L424.43,491.78 L424.72,491.70 L425.01,491.61 L425.30,491.51 L425.59,491.41 L425.87,491.30 L426.16,491.19 L426.45,491.07 L426.74,490.96 L427.03,490.84 L427.31,490.72 L427.60,490.60 L427.89,490.48 L428.18,490.37 L428.47,490.27 L428.76,490.16 L429.04,490.07 L429.33,489.98 L429.62,489.90 L429.91,489.83 L430.20,489.77 L430.48,489.72 L430.77,489.69 L431.06,489.66 L431.35,489.66 L431.64,489.67 L431.93,489.69 L432.21,489.72 L432.50,489.76 L432.79,489.81 L433.08,489.87 L433.37,489.93 L433.65,490.01 L433.94,490.09 L434.23,490.17 L434.52,490.26 L434.81,490.35 L435.10,490.45 L435.38,490.55 L435.67,490.64 L435.96,490.74 L436.25,490.84 L436.54,490.93 L436.82,491.02 L437.11,491.11 L437.40,491.19 L437.69,491.27 L437.98,491.34 L438.27,491.41 L438.55,491.47 L438.84,491.51 L439.13,491.55 L439.42,491.58 L439.71,491.60 L440.00,491.60 L440.28,491.60 L440.57,491.59 L440.86,491.57 L441.15,491.55 L441.44,491.52 L441.72,491.48 L442.01,491.44 L442.30,491.39 L442.59,491.34 L442.88,491.29 L443.17,491.23 L443.45,491.17 L443.74,491.10 L444.03,491.03 L444.32,490.96 L444.61,490.89 L444.89,490.81 L445.18,490.74 L445.47,490.66 L445.76,490.58 L446.05,490.50 L446.34,490.42 L446.62,490.34 L446.91,490.26 L447.20,490.18 L447.49,490.10 L447.78,490.03 L448.06,489.95 L448.35,489.88 L448.64,489.81 L448.93,489.74 L449.22,489.68 L449.51,489.62 L449.79,489.55 L450.08,489.49 L450.37,489.42 L450.66,489.35 L450.95,489.28 L451.23,489.20 L451.52,489.13 L451.81,489.05 L452.10,488.98 L452.39,488.90 L452.68,488.82 L452.96,488.73 L453.25,488.65 L453.54,488.57 L453.83,488.49 L454.12,488.40 L454.40,488.32 L454.69,488.24 L454.98,488.15 L455.27,488.07 L455.56,487.98 L455.85,487.90 L456.13,487.82 L456.42,487.74 L456.71,487.66 L457.00,487.58 L457.29,487.50 L457.57,487.42 L457.86,487.34 L458.15,487.26 L458.44,487.19 L458.73,487.12 L459.02,487.05 L459.30,486.98 L459.59,486.91 L459.88,486.85 L460.17,486.78 L460.46,486.73 L460.74,486.67 L461.03,486.61 L461.32,486.56 L461.61,486.51 L461.90,486.47 L462.19,486.42 L462.47,486.38 L462.76,486.35 L463.05,486.32 L463.34,486.29 L463.63,486.26 L463.92,486.24 L464.20,486.22 L464.49,486.21 L464.78,486.20 L465.07,486.20 L465.36,486.21 L465.64,486.24 L465.93,486.31 L466.22,486.39 L466.51,486.51 L466.80,486.64 L467.09,486.80 L467.37,486.97 L467.66,487.16 L467.95,487.36 L468.24,487.58 L468.53,487.80 L468.81,488.03 L469.10,488.27 L469.39,488.52 L469.68,488.76 L469.97,489.01 L470.26,489.26 L470.54,489.50 L470.83,489.73 L471.12,489.96 L471.41,490.18 L471.70,490.39 L471.98,490.59 L472.27,490.77 L472.56,490.93 L472.85,491.07 L473.14,491.20 L473.43,491.30 L473.71,491.37 L474.00,491.43 L474.29,491.48 L474.58,491.53 L474.87,491.58 L475.15,491.63 L475.44,491.68 L475.73,491.73 L476.02,491.77 L476.31,491.82 L476.60,491.86 L476.88,491.90 L477.17,491.95 L477.46,491.99 L477.75,492.03 L478.04,492.06 L478.32,492.10 L478.61,492.14 L478.90,492.17 L479.19,492.20 L479.48,492.23 L479.77,492.26 L480.05,492.29 L480.34,492.31 L480.63,492.34 L480.92,492.36 L481.21,492.38 L481.49,492.40 L481.78,492.41 L482.07,492.43 L482.36,492.44 L482.65,492.45 L482.94,492.46 L483.22,492.46 L483.51,492.47 L483.80,492.47 L484.09,492.47 L484.38,492.47 L484.66,492.46 L484.95,492.45 L485.24,492.44 L485.53,492.43 L485.82,492.42 L486.11,492.41 L486.39,492.39 L486.68,492.37 L486.97,492.35 L487.26,492.33 L487.55,492.31 L487.83,492.29 L488.12,492.26 L488.41,492.23 L488.70,492.21 L488.99,492.18 L489.28,492.15 L489.56,492.12 L489.85,492.09 L490.14,492.05 L490.43,492.02 L490.72,491.98 L491.01,491.95 L491.29,491.91 L491.58,491.88 L491.87,491.84 L492.16,491.81 L492.45,491.77 L492.73,491.73 L493.02,491.69 L493.31,491.66 L493.60,491.62 L493.89,491.58 L494.18,491.54 L494.46,491.51 L494.75,491.47 L495.04,491.43 L495.33,491.40 L495.62,491.36 L495.90,491.32 L496.19,491.28 L496.48,491.25 L496.77,491.20 L497.06,491.16 L497.35,491.12 L497.63,491.08 L497.92,491.03 L498.21,490.99 L498.50,490.94 L498.79,490.89 L499.07,490.84 L499.36,490.80 L499.65,490.75 L499.94,490.69 L500.23,490.64 L500.52,490.59 L500.80,490.54 L501.09,490.48 L501.38,490.43 L501.67,490.37 L501.96,490.31 L502.24,490.26 L502.53,490.20 L502.82,490.14 L503.11,490.08 L503.40,490.02 L503.69,489.96 L503.97,489.89 L504.26,489.83 L504.55,489.77 L504.84,489.71 L505.13,489.64 L505.41,489.58 L505.70,489.51 L505.99,489.44 L506.28,489.38 L506.57,489.31 L506.86,489.24 L507.14,489.17 L507.43,489.09 L507.72,488.99 L508.01,488.89 L508.30,488.79 L508.58,488.68 L508.87,488.56 L509.16,488.45 L509.45,488.33 L509.74,488.22 L510.03,488.10 L510.31,488.00 L510.60,487.90 L510.89,487.80 L511.18,487.72 L511.47,487.65 L511.75,487.59 L512.04,487.54 L512.33,487.51 L512.62,487.50 L512.91,487.50 L513.20,487.51 L513.48,487.52 L513.77,487.54 L514.06,487.57 L514.35,487.60 L514.64,487.63 L514.93,487.67 L515.21,487.71 L515.50,487.75 L515.79,487.80 L516.08,487.84 L516.37,487.89 L516.65,487.94 L516.94,487.99 L517.23,488.03 L517.52,488.08 L517.81,488.13 L518.10,488.17 L518.38,488.21 L518.67,488.25 L518.96,488.28 L519.25,488.31 L519.54,488.34 L519.82,488.36 L520.11,488.38 L520.40,488.39 L520.69,488.41 L520.98,488.43 L521.27,488.44 L521.55,488.46 L521.84,488.48 L522.13,488.49 L522.42,488.51 L522.71,488.52 L522.99,488.54 L523.28,488.55 L523.57,488.57 L523.86,488.58 L524.15,488.60 L524.44,488.61 L524.72,488.62 L525.01,488.64 L525.30,488.65 L525.59,488.66 L525.88,488.67 L526.16,488.68 L526.45,488.70 L526.74,488.71 L527.03,488.72 L527.32,488.73 L527.61,488.73 L527.89,488.74 L528.18,488.75 L528.47,488.76 L528.76,488.76 L529.05,488.77 L529.33,488.78 L529.62,488.78 L529.91,488.78 L530.20,488.79 L530.49,488.79 L530.78,488.79 L531.06,488.79 L531.35,488.79 L531.64,488.79 L531.93,488.79 L532.22,488.79 L532.50,488.79 L532.79,488.79 L533.08,488.78 L533.37,488.78 L533.66,488.77 L533.95,488.77 L534.23,488.76 L534.52,488.76 L534.81,488.75 L535.10,488.74 L535.39,488.74 L535.67,488.73 L535.96,488.72 L536.25,488.71 L536.54,488.70 L536.83,488.69 L537.12,488.68 L537.40,488.68 L537.69,488.66 L537.98,488.65 L538.27,488.64 L538.56,488.63 L538.84,488.62 L539.13,488.61 L539.42,488.60 L539.71,488.59 L540.00,488.58 L540.29,488.57 L540.57,488.55 L540.86,488.54 L541.15,488.53 L541.44,488.52 L541.73,488.51 L542.02,488.50 L542.30,488.49 L542.59,488.47 L542.88,488.46 L543.17,488.45 L543.46,488.44 L543.74,488.43 L544.03,488.42 L544.32,488.41 L544.61,488.40 L544.90,488.39 L545.19,488.38 L545.47,488.37 L545.76,488.36 L546.05,488.35 L546.34,488.34 L546.63,488.34 L546.91,488.33 L547.20,488.32 L547.49,488.31 L547.78,488.30 L548.07,488.28 L548.36,488.27 L548.64,488.26 L548.93,488.25 L549.22,488.24 L549.51,488.23 L549.80,488.22 L550.08,488.21 L550.37,488.19 L550.66,488.18 L550.95,488.17 L551.24,488.16 L551.53,488.15 L551.81,488.14 L552.10,488.13 L552.39,488.11 L552.68,488.10 L552.97,488.09 L553.25,488.08 L553.54,488.07 L553.83,488.06 L554.12,488.05 L554.41,488.04 L554.70,488.03 L554.98,488.02 L555.27,488.01 L555.56,488.00 L555.85,488.00 L556.14,487.99 L556.42,487.98 L556.71,487.97 L557.00,487.97 L557.29,487.96 L557.58,487.96 L557.87,487.95 L558.15,487.95 L558.44,487.94 L558.73,487.94 L559.02,487.93 L559.31,487.93 L559.59,487.93 L559.88,487.93 L560.17,487.93 L560.46,487.93 L560.75,487.93 L561.04,487.93 L561.32,487.94 L561.61,487.94 L561.90,487.95 L562.19,487.95 L562.48,487.96 L562.76,487.97 L563.05,487.97 L563.34,487.98 L563.63,487.99 L563.92,488.00 L564.21,488.01 L564.49,488.02 L564.78,488.03 L565.07,488.04 L565.36,488.06 L565.65,488.07 L565.94,488.08 L566.22,488.09 L566.51,488.11 L566.80,488.12 L567.09,488.13 L567.38,488.14 L567.66,488.16 L567.95,488.17 L568.24,488.18 L568.53,488.20 L568.82,488.21 L569.11,488.22 L569.39,488.23 L569.68,488.24 L569.97,488.26 L570.26,488.27 L570.55,488.28 L570.83,488.29 L571.12,488.30 L571.41,488.31 L571.70,488.32 L571.99,488.32 L572.28,488.33 L572.56,488.34 L572.85,488.34 L573.14,488.35 L573.43,488.35 L573.72,488.36 L574.00,488.36 L574.29,488.36 L574.58,488.36 L574.87,488.36 L575.16,488.36 L575.45,488.36 L575.73,488.35 L576.02,488.35 L576.31,488.34 L576.60,488.34 L576.89,488.33 L577.17,488.33 L577.46,488.32 L577.75,488.31 L578.04,488.30 L578.33,488.29 L578.62,488.28 L578.90,488.27 L579.19,488.26 L579.48,488.25 L579.77,488.23 L580.06,488.22 L580.34,488.21 L580.63,488.20 L580.92,488.18 L581.21,488.17 L581.50,488.16 L581.79,488.15 L582.07,488.13 L582.36,488.12 L582.65,488.11 L582.94,488.09 L583.23,488.08 L583.51,488.07 L583.80,488.06 L584.09,488.05 L584.38,488.03 L584.67,488.02 L584.96,488.01 L585.24,488.00 L585.53,487.99 L585.82,487.98 L586.11,487.97 L586.40,487.97 L586.68,487.96 L586.97,487.95 L587.26,487.95 L587.55,487.94 L587.84,487.94 L588.13,487.93 L588.41,487.93 L588.70,487.93 L588.99,487.93 L589.28,487.93 L589.57,487.93 L589.85,487.93 L590.14,487.93 L590.43,487.93 L590.72,487.94 L591.01,487.94 L591.30,487.94 L591.58,487.94 L591.87,487.95 L592.16,487.95 L592.45,487.95 L592.74,487.96 L593.03,487.96 L593.31,487.97 L593.60,487.97 L593.89,487.98 L594.18,487.99 L594.47,487.99 L594.75,488.00 L595.04,488.01 L595.33,488.01 L595.62,488.02 L595.91,488.03 L596.20,488.04 L596.48,488.05 L596.77,488.06 L597.06,488.06 L597.35,488.07 L597.64,488.08 L597.92,488.10 L598.21,488.11 L598.50,488.12 L598.79,488.13 L599.08,488.14 L599.37,488.15 L599.65,488.17 L599.94,488.18 L600.23,488.19 L600.52,488.21 L600.81,488.22 L601.09,488.23 L601.38,488.25 L601.67,488.26 L601.96,488.28 L602.25,488.30 L602.54,488.31 L602.82,488.33 L603.11,488.34 L603.40,488.36" stroke="#1E33EC"/>
<path d="M171.40,486.20 L171.69,486.20 L171.98,486.20 L172.26,486.20 L172.55,486.20 L172.84,486.20 L173.13,486.20 L173.42,486.20 L173.71,486.20 L173.99,486.20 L174.28,486.20 L174.57,486.20 L174.86,486.20 L175.15,486.20 L175.43,486.20 L175.72,486.20 L176.01,486.20 L176.30,486.20 L176.59,486.20 L176.88,486.20 L177.16,486.20 L177.45,486.20 L177.74,486.20 L178.03,486.20 L178.32,486.20 L178.60,486.20 L178.89,486.20 L179.18,486.19 L179.47,486.19 L179.76,486.18 L180.05,486.16 L180.33,486.15 L180.62,486.13 L180.91,486.11 L181.20,486.09 L181.49,486.06 L181.77,486.04 L182.06,486.01 L182.35,485.98 L182.64,485.95 L182.93,485.92 L183.22,485.89 L183.50,485.85 L183.79,485.82 L184.08,485.78 L184.37,485.74 L184.66,485.70 L184.95,485.67 L185.23,485.63 L185.52,485.59 L185.81,485.55 L186.10,485.51 L186.39,485.47 L186.67,485.43 L186.96,485.40 L187.25,485.36 L187.54,485.32 L187.83,485.28 L188.12,485.25 L188.40,485.22 L188.69,485.18 L188.98,485.15 L189.27,485.12 L189.56,485.09 L189.84,485.06 L190.13,485.04 L190.42,485.01 L190.71,484.99 L191.00,484.97 L191.29,484.95 L191.57,484.94 L191.86,484.93 L192.15,484.92 L192.44,484.91 L192.73,484.90 L193.01,484.90 L193.30,484.90 L193.59,484.91 L193.88,484.92 L194.17,484.93 L194.46,484.94 L194.74,484.96 L195.03,484.97 L195.32,484.99 L195.61,485.02 L195.90,485.04 L196.18,485.07 L196.47,485.09 L196.76,485.12 L197.05,485.15 L197.34,485.19 L197.63,485.22 L197.91,485.25 L198.20,485.29 L198.49,485.32 L198.78,485.36 L199.07,485.40 L199.35,485.44 L199.64,485.48 L199.93,485.52 L200.22,485.55 L200.51,485.59 L200.80,485.63 L201.08,485.67 L201.37,485.71 L201.66,485.75 L201.95,485.78 L202.24,485.82 L202.52,485.85 L202.81,485.89 L203.10,485.92 L203.39,485.95 L203.68,485.98 L203.97,486.01 L204.25,486.04 L204.54,486.07 L204.83,486.09 L205.12,486.11 L205.41,486.13 L205.69,486.15 L205.98,486.16 L206.27,486.18 L206.56,486.19 L206.85,486.19 L207.14,486.20 L207.42,486.20 L207.71,486.20 L208.00,486.20 L208.29,486.20 L208.58,486.20 L208.86,486.20 L209.15,486.20 L209.44,486.20 L209.73,486.20 L210.02,486.20 L210.31,486.20 L210.59,486.20 L210.88,486.20 L211.17,486.20 L211.46,486.20 L211.75,486.20 L212.04,486.20 L212.32,486.20 L212.61,486.20 L212.90,486.20 L213.19,486.20 L213.48,486.20 L213.76,486.20 L214.05,486.20 L214.34,486.20 L214.63,486.20 L214.92,486.20 L215.21,486.20 L215.49,486.20 L215.78,486.20 L216.07,486.20 L216.36,486.20 L216.65,486.20 L216.93,486.20 L217.22,486.20 L217.51,486.20 L217.80,486.20 L218.09,486.20 L218.38,486.20 L218.66,486.20 L218.95,486.20 L219.24,486.20 L219.53,486.20 L219.82,486.20 L220.10,486.20 L220.39,486.20 L220.68,486.20 L220.97,486.20 L221.26,486.20 L221.55,486.20 L221.83,486.20 L222.12,486.20 L222.41,486.20 L222.70,486.20 L222.99,486.20 L223.27,486.20 L223.56,486.20 L223.85,486.20 L224.14,486.20 L224.43,486.20 L224.72,486.20 L225.00,486.20 L225.29,486.20 L225.58,486.20 L225.87,486.20 L226.16,486.20 L226.44,486.20 L226.73,486.20 L227.02,486.20 L227.31,486.20 L227.60,486.20 L227.89,486.17 L228.17,486.11 L228.46,486.02 L228.75,485.89 L229.04,485.74 L229.33,485.56 L229.61,485.37 L229.90,485.16 L230.19,484.94 L230.48,484.71 L230.77,484.48 L231.06,484.24 L231.34,484.01 L231.63,483.79 L231.92,483.58 L232.21,483.34 L232.50,483.06 L232.78,482.76 L233.07,482.43 L233.36,482.09 L233.65,481.74 L233.94,481.39 L234.23,481.06 L234.51,480.74 L234.80,480.45 L235.09,480.20 L235.38,479.99 L235.67,479.84 L235.96,479.74 L236.24,479.72 L236.53,479.75 L236.82,479.84 L237.11,479.97 L237.40,480.13 L237.68,480.34 L237.97,480.57 L238.26,480.83 L238.55,481.10 L238.84,481.39 L239.13,481.69 L239.41,481.98 L239.70,482.28 L239.99,482.57 L240.28,482.85 L240.57,483.10 L240.85,483.34 L241.14,483.54 L241.43,483.73 L241.72,483.91 L242.01,484.11 L242.30,484.31 L242.58,484.51 L242.87,484.71 L243.16,484.90 L243.45,485.09 L243.74,485.28 L244.02,485.45 L244.31,485.61 L244.60,485.76 L244.89,485.89 L245.18,486.00 L245.47,486.09 L245.75,486.15 L246.04,486.19 L246.33,486.20 L246.62,486.20 L246.91,486.20 L247.19,486.20 L247.48,486.20 L247.77,486.20 L248.06,486.20 L248.35,486.20 L248.64,486.20 L248.92,486.20 L249.21,486.20 L249.50,486.20 L249.79,486.20 L250.08,486.20 L250.36,486.20 L250.65,486.20 L250.94,486.20 L251.23,486.20 L251.52,486.20 L251.81,486.20 L252.09,486.20 L252.38,486.20 L252.67,486.20 L252.96,486.20 L253.25,486.20 L253.53,486.20 L253.82,486.20 L254.11,486.20 L254.40,486.20 L254.69,486.20 L254.98,486.20 L255.26,486.20 L255.55,486.20 L255.84,486.20 L256.13,486.20 L256.42,486.20 L256.70,486.20 L256.99,486.20 L257.28,486.20 L257.57,486.20 L257.86,486.20 L258.15,486.20 L258.43,486.20 L258.72,486.20 L259.01,486.20 L259.30,486.20 L259.59,486.20 L259.87,486.20 L260.16,486.20 L260.45,486.20 L260.74,486.20 L261.03,486.20 L261.32,486.20 L261.60,486.20 L261.89,486.20 L262.18,486.20 L262.47,486.20 L262.76,486.20 L263.05,486.20 L263.33,486.20 L263.62,486.20 L263.91,486.20 L264.20,486.20 L264.49,486.20 L264.77,486.20 L265.06,486.20 L265.35,486.20 L265.64,486.20 L265.93,486.20 L266.22,486.20 L266.50,486.20 L266.79,486.20 L267.08,486.20 L267.37,486.20 L267.66,486.20 L267.94,486.20 L268.23,486.20 L268.52,486.20 L268.81,486.20 L269.10,486.20 L269.39,486.20 L269.67,486.20 L269.96,486.20 L270.25,486.20 L270.54,486.20 L270.83,486.20 L271.11,486.20 L271.40,486.20 L271.69,486.20 L271.98,486.20 L272.27,486.20 L272.56,486.20 L272.84,486.20 L273.13,486.20 L273.42,486.20 L273.71,486.20 L274.00,486.20 L274.28,486.20 L274.57,486.20 L274.86,486.20 L275.15,486.20 L275.44,486.20 L275.73,486.20 L276.01,486.20 L276.30,486.20 L276.59,486.20 L276.88,486.20 L277.17,486.20 L277.45,486.20 L277.74,486.20 L278.03,486.20 L278.32,486.20 L278.61,486.20 L278.90,486.20 L279.18,486.20 L279.47,486.20 L279.76,486.20 L280.05,486.20 L280.34,486.20 L280.62,486.20 L280.91,486.20 L281.20,486.20 L281.49,486.20 L281.78,486.20 L282.07,486.20 L282.35,486.20 L282.64,486.20 L282.93,486.20 L283.22,486.20 L283.51,486.20 L283.79,486.20 L284.08,486.20 L284.37,486.20 L284.66,486.20 L284.95,486.20 L285.24,486.20 L285.52,486.20 L285.81,486.20 L286.10,486.20 L286.39,486.20 L286.68,486.20 L286.97,486.20 L287.25,486.20 L287.54,486.12 L287.83,485.76 L288.12,485.17 L288.41,484.35 L288.69,483.34 L288.98,482.17 L289.27,480.85 L289.56,479.43 L289.85,477.92 L290.14,476.35 L290.42,474.75 L290.71,473.15 L291.00,471.57 L291.29,470.04 L291.58,468.59 L291.86,467.23 L292.15,465.72 L292.44,464.03 L292.73,462.26 L293.02,460.48 L293.31,458.79 L293.59,457.26 L293.88,455.99 L294.17,455.05 L294.46,454.52 L294.75,454.14 L295.03,453.78 L295.32,453.48 L295.61,453.22 L295.90,453.04 L296.19,452.93 L296.48,452.91 L296.76,452.98 L297.05,453.10 L297.34,453.28 L297.63,453.50 L297.92,453.73 L298.20,453.96 L298.49,454.18 L298.78,454.38 L299.07,454.53 L299.36,454.62 L299.65,454.63 L299.93,454.41 L300.22,453.94 L300.51,453.26 L300.80,452.40 L301.09,451.41 L301.37,450.31 L301.66,449.13 L301.95,447.93 L302.24,446.73 L302.53,445.56 L302.82,444.47 L303.10,443.38 L303.39,442.15 L303.68,440.81 L303.97,439.40 L304.26,437.98 L304.54,436.57 L304.83,435.23 L305.12,433.99 L305.41,432.91 L305.70,432.03 L305.99,431.38 L306.27,430.93 L306.56,430.50 L306.85,430.09 L307.14,429.72 L307.43,429.39 L307.71,429.11 L308.00,428.90 L308.29,428.76 L308.58,428.70 L308.87,428.77 L309.16,429.01 L309.44,429.41 L309.73,429.94 L310.02,430.58 L310.31,431.31 L310.60,432.09 L310.88,432.91 L311.17,433.74 L311.46,434.67 L311.75,435.87 L312.04,437.29 L312.33,438.85 L312.61,440.49 L312.90,442.16 L313.19,443.78 L313.48,445.30 L313.77,446.65 L314.06,447.84 L314.34,448.99 L314.63,450.10 L314.92,451.18 L315.21,452.23 L315.50,453.25 L315.78,454.24 L316.07,455.20 L316.36,456.14 L316.65,457.06 L316.94,457.95 L317.23,458.82 L317.51,459.68 L317.80,460.51 L318.09,461.33 L318.38,462.13 L318.67,462.91 L318.95,463.68 L319.24,464.43 L319.53,465.17 L319.82,465.90 L320.11,466.62 L320.40,467.33 L320.68,468.03 L320.97,468.72 L321.26,469.41 L321.55,470.10 L321.84,470.81 L322.12,471.57 L322.41,472.37 L322.70,473.20 L322.99,474.04 L323.28,474.87 L323.57,475.67 L323.85,476.44 L324.14,477.14 L324.43,477.77 L324.72,478.32 L325.01,478.76 L325.29,479.07 L325.58,479.25 L325.87,479.25 L326.16,478.83 L326.45,477.97 L326.74,476.70 L327.02,475.07 L327.31,473.13 L327.60,470.93 L327.89,468.51 L328.18,465.91 L328.46,463.18 L328.75,460.38 L329.04,457.53 L329.33,454.69 L329.62,451.91 L329.91,449.22 L330.19,446.68 L330.48,444.33 L330.77,442.20 L331.06,440.15 L331.35,438.13 L331.63,436.13 L331.92,434.15 L332.21,432.18 L332.50,430.21 L332.79,428.25 L333.08,426.28 L333.36,424.30 L333.65,422.31 L333.94,420.29 L334.23,418.25 L334.52,416.18 L334.80,414.06 L335.09,411.91 L335.38,409.68 L335.67,407.24 L335.96,404.58 L336.25,401.74 L336.53,398.79 L336.82,395.76 L337.11,392.70 L337.40,389.67 L337.69,386.71 L337.98,383.87 L338.26,381.20 L338.55,378.75 L338.84,376.56 L339.13,374.69 L339.42,373.18 L339.70,372.08 L339.99,371.41 L340.28,370.89 L340.57,370.44 L340.86,370.04 L341.15,369.69 L341.43,369.38 L341.72,369.09 L342.01,368.82 L342.30,368.55 L342.59,368.28 L342.87,368.00 L343.16,367.69 L343.45,367.35 L343.74,367.00 L344.03,366.68 L344.32,366.39 L344.60,366.12 L344.89,365.83 L345.18,365.54 L345.47,365.21 L345.76,364.83 L346.04,364.40 L346.33,363.90 L346.62,363.31 L346.91,362.62 L347.20,361.32 L347.49,358.97 L347.77,356.01 L348.06,352.89 L348.35,350.07 L348.64,347.87 L348.93,345.67 L349.21,343.44 L349.50,341.36 L349.79,339.62 L350.08,338.41 L350.37,337.91 L350.66,337.99 L350.94,338.26 L351.23,338.71 L351.52,339.33 L351.81,340.10 L352.10,341.02 L352.38,342.06 L352.67,343.23 L352.96,344.68 L353.25,347.63 L353.54,351.95 L353.83,357.19 L354.11,362.88 L354.40,368.55 L354.69,373.88 L354.98,379.60 L355.27,385.69 L355.55,391.90 L355.84,397.98 L356.13,403.67 L356.42,408.78 L356.71,413.62 L357.00,418.29 L357.28,422.79 L357.57,427.12 L357.86,431.29 L358.15,435.29 L358.44,439.13 L358.72,442.84 L359.01,446.57 L359.30,450.29 L359.59,453.91 L359.88,457.34 L360.17,460.50 L360.45,463.30 L360.74,465.65 L361.03,467.52 L361.32,469.21 L361.61,470.79 L361.89,472.27 L362.18,473.65 L362.47,474.93 L362.76,476.12 L363.05,477.21 L363.34,478.20 L363.62,479.11 L363.91,479.92 L364.20,480.65 L364.49,481.30 L364.78,481.93 L365.07,482.56 L365.35,483.16 L365.64,483.74 L365.93,484.28 L366.22,484.77 L366.51,485.21 L366.79,485.58 L367.08,485.87 L367.37,486.07 L367.66,486.18 L367.95,486.20 L368.24,486.20 L368.52,486.20 L368.81,486.20 L369.10,486.20 L369.39,486.20 L369.68,486.20 L369.96,486.20 L370.25,486.20 L370.54,486.20 L370.83,486.20 L371.12,486.20 L371.41,486.20 L371.69,486.20 L371.98,486.20 L372.27,486.20 L372.56,486.20 L372.85,486.20 L373.13,486.20 L373.42,486.20 L373.71,486.20 L374.00,486.20 L374.29,486.20 L374.58,486.20 L374.86,486.20 L375.15,486.20 L375.44,486.20 L375.73,486.20 L376.02,486.20 L376.30,486.20 L376.59,486.20 L376.88,486.20 L377.17,486.20 L377.46,486.20 L377.75,486.20 L378.03,486.20 L378.32,486.20 L378.61,486.20 L378.90,486.20 L379.19,486.20 L379.47,486.20 L379.76,486.20 L380.05,486.20 L380.34,486.20 L380.63,486.20 L380.92,486.20 L381.20,486.20 L381.49,486.20 L381.78,486.20 L382.07,486.20 L382.36,486.20 L382.64,486.20 L382.93,486.20 L383.22,486.20 L383.51,486.20 L383.80,486.20 L384.09,486.20 L384.37,486.20 L384.66,486.20 L384.95,486.20 L385.24,486.20 L385.53,486.20 L385.81,486.20 L386.10,486.20 L386.39,486.20 L386.68,486.20 L386.97,486.20 L387.26,486.20 L387.54,486.20 L387.83,486.20 L388.12,486.20 L388.41,486.20 L388.70,486.20 L388.99,486.20 L389.27,486.20 L389.56,486.20 L389.85,486.20 L390.14,486.20 L390.43,486.20 L390.71,486.20 L391.00,486.20 L391.29,486.20 L391.58,486.20 L391.87,486.20 L392.16,486.20 L392.44,486.20 L392.73,486.20 L393.02,486.20 L393.31,486.20 L393.60,486.20 L393.88,486.20 L394.17,486.20 L394.46,486.20 L394.75,486.20 L395.04,486.20 L395.33,486.20 L395.61,486.20 L395.90,486.20 L396.19,486.20 L396.48,486.20 L396.77,486.20 L397.05,486.20 L397.34,486.20 L397.63,486.20 L397.92,486.20 L398.21,486.20 L398.50,486.20 L398.78,486.20 L399.07,486.20 L399.36,486.20 L399.65,486.20 L399.94,486.20 L400.22,486.20 L400.51,486.20 L400.80,486.20 L401.09,486.20 L401.38,486.20 L401.67,486.20 L401.95,486.20 L402.24,486.20 L402.53,486.20 L402.82,486.20 L403.11,486.20 L403.39,486.20 L403.68,486.20 L403.97,486.20 L404.26,486.20 L404.55,486.20 L404.84,486.20 L405.12,486.20 L405.41,486.20 L405.70,486.20 L405.99,486.20 L406.28,486.20 L406.56,486.20 L406.85,486.20 L407.14,486.20 L407.43,486.20 L407.72,486.20 L408.01,486.20 L408.29,486.20 L408.58,486.20 L408.87,486.20 L409.16,486.20 L409.45,486.20 L409.73,486.19 L410.02,486.09 L410.31,485.91 L410.60,485.66 L410.89,485.33 L411.18,484.93 L411.46,484.48 L411.75,483.96 L412.04,483.40 L412.33,482.79 L412.62,482.15 L412.91,481.47 L413.19,480.77 L413.48,480.04 L413.77,479.30 L414.06,478.55 L414.35,477.79 L414.63,477.03 L414.92,476.29 L415.21,475.55 L415.50,474.83 L415.79,474.12 L416.08,473.36 L416.36,472.53 L416.65,471.65 L416.94,470.73 L417.23,469.78 L417.52,468.80 L417.80,467.79 L418.09,466.78 L418.38,465.76 L418.67,464.74 L418.96,463.74 L419.25,462.76 L419.53,461.80 L419.82,460.88 L420.11,460.00 L420.40,459.17 L420.69,458.40 L420.97,457.68 L421.26,456.93 L421.55,456.15 L421.84,455.36 L422.13,454.57 L422.42,453.79 L422.70,453.05 L422.99,452.35 L423.28,451.71 L423.57,451.15 L423.86,450.67 L424.14,450.29 L424.43,450.03 L424.72,449.90 L425.01,449.94 L425.30,450.28 L425.59,450.85 L425.87,451.56 L426.16,452.34 L426.45,453.10 L426.74,453.76 L427.03,454.24 L427.31,454.63 L427.60,455.02 L427.89,455.40 L428.18,455.78 L428.47,456.15 L428.76,456.51 L429.04,456.85 L429.33,457.17 L429.62,457.46 L429.91,457.73 L430.20,457.96 L430.48,458.16 L430.77,458.32 L431.06,458.44 L431.35,458.51 L431.64,458.53 L431.93,458.39 L432.21,458.05 L432.50,457.54 L432.79,456.92 L433.08,456.22 L433.37,455.49 L433.65,454.76 L433.94,454.09 L434.23,453.50 L434.52,453.04 L434.81,452.73 L435.10,452.42 L435.38,452.12 L435.67,451.83 L435.96,451.56 L436.25,451.29 L436.54,451.06 L436.82,450.84 L437.11,450.66 L437.40,450.51 L437.69,450.40 L437.98,450.34 L438.27,450.32 L438.55,450.41 L438.84,450.65 L439.13,451.00 L439.42,451.44 L439.71,451.96 L440.00,452.53 L440.28,453.12 L440.57,453.73 L440.86,454.32 L441.15,454.88 L441.44,455.39 L441.72,455.92 L442.01,456.46 L442.30,457.02 L442.59,457.59 L442.88,458.17 L443.17,458.77 L443.45,459.37 L443.74,459.98 L444.03,460.59 L444.32,461.21 L444.61,461.84 L444.89,462.50 L445.18,463.17 L445.47,463.86 L445.76,464.55 L446.05,465.24 L446.34,465.93 L446.62,466.61 L446.91,467.28 L447.20,467.93 L447.49,468.56 L447.78,469.17 L448.06,469.78 L448.35,470.38 L448.64,470.97 L448.93,471.55 L449.22,472.13 L449.51,472.69 L449.79,473.25 L450.08,473.80 L450.37,474.34 L450.66,474.88 L450.95,475.43 L451.23,476.00 L451.52,476.57 L451.81,477.14 L452.10,477.68 L452.39,478.19 L452.68,478.67 L452.96,479.09 L453.25,479.46 L453.54,479.76 L453.83,480.01 L454.12,480.25 L454.40,480.47 L454.69,480.68 L454.98,480.87 L455.27,481.05 L455.56,481.22 L455.85,481.38 L456.13,481.54 L456.42,481.69 L456.71,481.83 L457.00,481.97 L457.29,482.12 L457.57,482.26 L457.86,482.40 L458.15,482.54 L458.44,482.67 L458.73,482.80 L459.02,482.92 L459.30,483.04 L459.59,483.16 L459.88,483.27 L460.17,483.39 L460.46,483.50 L460.74,483.62 L461.03,483.74 L461.32,483.87 L461.61,483.99 L461.90,484.13 L462.19,484.29 L462.47,484.47 L462.76,484.66 L463.05,484.85 L463.34,485.04 L463.63,485.22 L463.92,485.39 L464.20,485.53 L464.49,485.65 L464.78,485.73 L465.07,485.77 L465.36,485.75 L465.64,485.65 L465.93,485.49 L466.22,485.27 L466.51,485.01 L466.80,484.73 L467.09,484.43 L467.37,484.12 L467.66,483.83 L467.95,483.56 L468.24,483.28 L468.53,482.99 L468.81,482.68 L469.10,482.36 L469.39,482.03 L469.68,481.70 L469.97,481.35 L470.26,481.01 L470.54,480.67 L470.83,480.32 L471.12,479.99 L471.41,479.66 L471.70,479.35 L471.98,479.05 L472.27,478.76 L472.56,478.49 L472.85,478.25 L473.14,478.00 L473.43,477.77 L473.71,477.54 L474.00,477.31 L474.29,477.09 L474.58,476.88 L474.87,476.67 L475.15,476.46 L475.44,476.26 L475.73,476.06 L476.02,475.87 L476.31,475.68 L476.60,475.49 L476.88,475.30 L477.17,475.12 L477.46,474.94 L477.75,474.76 L478.04,474.58 L478.32,474.40 L478.61,474.23 L478.90,474.06 L479.19,473.90 L479.48,473.73 L479.77,473.57 L480.05,473.42 L480.34,473.26 L480.63,473.11 L480.92,472.96 L481.21,472.81 L481.49,472.65 L481.78,472.50 L482.07,472.35 L482.36,472.20 L482.65,472.05 L482.94,471.90 L483.22,471.73 L483.51,471.55 L483.80,471.36 L484.09,471.17 L484.38,470.97 L484.66,470.77 L484.95,470.58 L485.24,470.40 L485.53,470.23 L485.82,470.09 L486.11,469.96 L486.39,469.87 L486.68,469.80 L486.97,469.77 L487.26,469.81 L487.55,469.97 L487.83,470.24 L488.12,470.60 L488.41,471.04 L488.70,471.52 L488.99,472.04 L489.28,472.57 L489.56,473.10 L489.85,473.59 L490.14,474.05 L490.43,474.44 L490.72,474.77 L491.01,475.11 L491.29,475.46 L491.58,475.81 L491.87,476.16 L492.16,476.50 L492.45,476.82 L492.73,477.13 L493.02,477.42 L493.31,477.69 L493.60,477.92 L493.89,478.12 L494.18,478.28 L494.46,478.40 L494.75,478.48 L495.04,478.55 L495.33,478.61 L495.62,478.66 L495.90,478.71 L496.19,478.76 L496.48,478.79 L496.77,478.83 L497.06,478.86 L497.35,478.90 L497.63,478.93 L497.92,478.96 L498.21,478.99 L498.50,479.03 L498.79,479.06 L499.07,479.11 L499.36,479.15 L499.65,479.21 L499.94,479.27 L500.23,479.34 L500.52,479.43 L500.80,479.54 L501.09,479.67 L501.38,479.81 L501.67,479.96 L501.96,480.12 L502.24,480.28 L502.53,480.44 L502.82,480.60 L503.11,480.75 L503.40,480.90 L503.69,481.03 L503.97,481.15 L504.26,481.26 L504.55,481.34 L504.84,481.40 L505.13,481.44 L505.41,481.44 L505.70,481.44 L505.99,481.44 L506.28,481.44 L506.57,481.44 L506.86,481.44 L507.14,481.44 L507.43,481.44 L507.72,481.44 L508.01,481.44 L508.30,481.44 L508.58,481.44 L508.87,481.44 L509.16,481.44 L509.45,481.44 L509.74,481.44 L510.03,481.44 L510.31,481.44 L510.60,481.44 L510.89,481.44 L511.18,481.44 L511.47,481.44 L511.75,481.44 L512.04,481.44 L512.33,481.45 L512.62,481.47 L512.91,481.52 L513.20,481.59 L513.48,481.68 L513.77,481.79 L514.06,481.92 L514.35,482.05 L514.64,482.20 L514.93,482.34 L515.21,482.49 L515.50,482.64 L515.79,482.79 L516.08,482.96 L516.37,483.17 L516.65,483.42 L516.94,483.68 L517.23,483.96 L517.52,484.26 L517.81,484.55 L518.10,484.84 L518.38,485.12 L518.67,485.38 L518.96,485.62 L519.25,485.82 L519.54,485.99 L519.82,486.11 L520.11,486.19 L520.40,486.20 L520.69,486.18 L520.98,486.13 L521.27,486.06 L521.55,485.96 L521.84,485.85 L522.13,485.72 L522.42,485.58 L522.71,485.43 L522.99,485.27 L523.28,485.10 L523.57,484.92 L523.86,484.74 L524.15,484.57 L524.44,484.39 L524.72,484.22 L525.01,484.06 L525.30,483.90 L525.59,483.76 L525.88,483.63 L526.16,483.51 L526.45,483.38 L526.74,483.25 L527.03,483.11 L527.32,482.98 L527.61,482.84 L527.89,482.71 L528.18,482.58 L528.47,482.46 L528.76,482.34 L529.05,482.24 L529.33,482.14 L529.62,482.05 L529.91,481.98 L530.20,481.92 L530.49,481.88 L530.78,481.85 L531.06,481.83 L531.35,481.80 L531.64,481.78 L531.93,481.76 L532.22,481.74 L532.50,481.72 L532.79,481.70 L533.08,481.69 L533.37,481.67 L533.66,481.66 L533.95,481.64 L534.23,481.63 L534.52,481.62 L534.81,481.61 L535.10,481.60 L535.39,481.59 L535.67,481.58 L535.96,481.56 L536.25,481.55 L536.54,481.54 L536.83,481.53 L537.12,481.52 L537.40,481.51 L537.69,481.49 L537.98,481.48 L538.27,481.46 L538.56,481.45 L538.84,481.43 L539.13,481.41 L539.42,481.39 L539.71,481.37 L540.00,481.35 L540.29,481.33 L540.57,481.31 L540.86,481.28 L541.15,481.26 L541.44,481.24 L541.73,481.21 L542.02,481.19 L542.30,481.16 L542.59,481.14 L542.88,481.11 L543.17,481.08 L543.46,481.06 L543.74,481.03 L544.03,481.01 L544.32,480.98 L544.61,480.96 L544.90,480.93 L545.19,480.91 L545.47,480.88 L545.76,480.86 L546.05,480.84 L546.34,480.81 L546.63,480.79 L546.91,480.77 L547.20,480.75 L547.49,480.73 L547.78,480.71 L548.07,480.69 L548.36,480.68 L548.64,480.66 L548.93,480.65 L549.22,480.63 L549.51,480.62 L549.80,480.61 L550.08,480.60 L550.37,480.59 L550.66,480.59 L550.95,480.58 L551.24,480.58 L551.53,480.58 L551.81,480.58 L552.10,480.59 L552.39,480.60 L552.68,480.62 L552.97,480.64 L553.25,480.66 L553.54,480.69 L553.83,480.72 L554.12,480.75 L554.41,480.79 L554.70,480.83 L554.98,480.88 L555.27,480.92 L555.56,480.97 L555.85,481.02 L556.14,481.07 L556.42,481.13 L556.71,481.18 L557.00,481.24 L557.29,481.29 L557.58,481.35 L557.87,481.41 L558.15,481.47 L558.44,481.53 L558.73,481.59 L559.02,481.65 L559.31,481.70 L559.59,481.76 L559.88,481.82 L560.17,481.87 L560.46,481.93 L560.75,481.99 L561.04,482.06 L561.32,482.14 L561.61,482.22 L561.90,482.30 L562.19,482.39 L562.48,482.48 L562.76,482.57 L563.05,482.67 L563.34,482.76 L563.63,482.86 L563.92,482.96 L564.21,483.06 L564.49,483.15 L564.78,483.25 L565.07,483.34 L565.36,483.43 L565.65,483.51 L565.94,483.59 L566.22,483.67 L566.51,483.74 L566.80,483.80 L567.09,483.86 L567.38,483.91 L567.66,483.96 L567.95,483.99 L568.24,484.02 L568.53,484.03 L568.82,484.04 L569.11,484.03 L569.39,484.02 L569.68,484.00 L569.97,483.97 L570.26,483.94 L570.55,483.90 L570.83,483.85 L571.12,483.80 L571.41,483.74 L571.70,483.68 L571.99,483.62 L572.28,483.55 L572.56,483.48 L572.85,483.40 L573.14,483.33 L573.43,483.25 L573.72,483.17 L574.00,483.09 L574.29,483.01 L574.58,482.94 L574.87,482.86 L575.16,482.79 L575.45,482.71 L575.73,482.64 L576.02,482.58 L576.31,482.51 L576.60,482.46 L576.89,482.40 L577.17,482.35 L577.46,482.31 L577.75,482.27 L578.04,482.23 L578.33,482.19 L578.62,482.15 L578.90,482.11 L579.19,482.07 L579.48,482.03 L579.77,481.99 L580.06,481.95 L580.34,481.91 L580.63,481.87 L580.92,481.83 L581.21,481.79 L581.50,481.75 L581.79,481.71 L582.07,481.67 L582.36,481.64 L582.65,481.60 L582.94,481.56 L583.23,481.53 L583.51,481.49 L583.80,481.46 L584.09,481.42 L584.38,481.39 L584.67,481.36 L584.96,481.33 L585.24,481.30 L585.53,481.27 L585.82,481.24 L586.11,481.22 L586.40,481.19 L586.68,481.17 L586.97,481.15 L587.26,481.13 L587.55,481.11 L587.84,481.09 L588.13,481.08 L588.41,481.06 L588.70,481.05 L588.99,481.04 L589.28,481.03 L589.57,481.02 L589.85,481.02 L590.14,481.01 L590.43,481.01 L590.72,481.01 L591.01,481.01 L591.30,481.02 L591.58,481.02 L591.87,481.03 L592.16,481.03 L592.45,481.04 L592.74,481.05 L593.03,481.06 L593.31,481.08 L593.60,481.09 L593.89,481.10 L594.18,481.12 L594.47,481.14 L594.75,481.16 L595.04,481.18 L595.33,481.20 L595.62,481.22 L595.91,481.24 L596.20,481.27 L596.48,481.29 L596.77,481.32 L597.06,481.35 L597.35,481.38 L597.64,481.41 L597.92,481.44 L598.21,481.48 L598.50,481.51 L598.79,481.55 L599.08,481.59 L599.37,481.63 L599.65,481.67 L599.94,481.71 L600.23,481.75 L600.52,481.80 L600.81,481.84 L601.09,481.89 L601.38,481.94 L601.67,481.99 L601.96,482.04 L602.25,482.09 L602.54,482.14 L602.82,482.20 L603.11,482.25 L603.40,482.31" stroke="#FC8412"/>
<path d="M171.40,486.20 L171.69,486.20 L171.98,486.20 L172.26,486.20 L172.55,486.20 L172.84,486.20 L173.13,486.20 L173.42,486.20 L173.71,486.20 L173.99,486.20 L174.28,486.20 L174.57,486.20 L174.86,486.20 L175.15,486.20 L175.43,486.20 L175.72,486.20 L176.01,486.20 L176.30,486.20 L176.59,486.20 L176.88,486.20 L177.16,486.20 L177.45,486.20 L177.74,486.20 L178.03,486.20 L178.32,486.20 L178.60,486.20 L178.89,486.20 L179.18,486.21 L179.47,486.21 L179.76,486.22 L180.05,486.24 L180.33,486.25 L180.62,486.27 L180.91,486.29 L181.20,486.31 L181.49,486.34 L181.77,486.36 L182.06,486.39 L182.35,486.42 L182.64,486.45 L182.93,486.48 L183.22,486.51 L183.50,486.55 L183.79,486.58 L184.08,486.62 L184.37,486.66 L184.66,486.70 L184.95,486.73 L185.23,486.77 L185.52,486.81 L185.81,486.85 L186.10,486.89 L186.39,486.93 L186.67,486.97 L186.96,487.00 L187.25,487.04 L187.54,487.08 L187.83,487.12 L188.12,487.15 L188.40,487.18 L188.69,487.22 L188.98,487.25 L189.27,487.28 L189.56,487.31 L189.84,487.34 L190.13,487.36 L190.42,487.39 L190.71,487.41 L191.00,487.43 L191.29,487.45 L191.57,487.46 L191.86,487.47 L192.15,487.48 L192.44,487.49 L192.73,487.50 L193.01,487.50 L193.30,487.50 L193.59,487.49 L193.88,487.48 L194.17,487.47 L194.46,487.46 L194.74,487.44 L195.03,487.43 L195.32,487.41 L195.61,487.38 L195.90,487.36 L196.18,487.33 L196.47,487.31 L196.76,487.28 L197.05,487.25 L197.34,487.21 L197.63,487.18 L197.91,487.15 L198.20,487.11 L198.49,487.08 L198.78,487.04 L199.07,487.00 L199.35,486.96 L199.64,486.92 L199.93,486.88 L200.22,486.85 L200.51,486.81 L200.80,486.77 L201.08,486.73 L201.37,486.69 L201.66,486.65 L201.95,486.62 L202.24,486.58 L202.52,486.55 L202.81,486.51 L203.10,486.48 L203.39,486.45 L203.68,486.42 L203.97,486.39 L204.25,486.36 L204.54,486.33 L204.83,486.31 L205.12,486.29 L205.41,486.27 L205.69,486.25 L205.98,486.24 L206.27,486.22 L206.56,486.21 L206.85,486.21 L207.14,486.20 L207.42,486.20 L207.71,486.20 L208.00,486.20 L208.29,486.20 L208.58,486.20 L208.86,486.20 L209.15,486.20 L209.44,486.20 L209.73,486.20 L210.02,486.20 L210.31,486.20 L210.59,486.20 L210.88,486.20 L211.17,486.20 L211.46,486.20 L211.75,486.20 L212.04,486.20 L212.32,486.20 L212.61,486.20 L212.90,486.20 L213.19,486.20 L213.48,486.20 L213.76,486.20 L214.05,486.20 L214.34,486.20 L214.63,486.20 L214.92,486.20 L215.21,486.20 L215.49,486.20 L215.78,486.20 L216.07,486.20 L216.36,486.20 L216.65,486.20 L216.93,486.20 L217.22,486.20 L217.51,486.20 L217.80,486.20 L218.09,486.20 L218.38,486.20 L218.66,486.20 L218.95,486.20 L219.24,486.20 L219.53,486.20 L219.82,486.20 L220.10,486.20 L220.39,486.20 L220.68,486.20 L220.97,486.20 L221.26,486.20 L221.55,486.20 L221.83,486.20 L222.12,486.20 L222.41,486.20 L222.70,486.20 L222.99,486.20 L223.27,486.20 L223.56,486.20 L223.85,486.20 L224.14,486.20 L224.43,486.20 L224.72,486.20 L225.00,486.20 L225.29,486.20 L225.58,486.20 L225.87,486.20 L226.16,486.20 L226.44,486.20 L226.73,486.20 L227.02,486.20 L227.31,486.20 L227.60,486.20 L227.89,486.23 L228.17,486.29 L228.46,486.38 L228.75,486.51 L229.04,486.66 L229.33,486.84 L229.61,487.03 L229.90,487.24 L230.19,487.46 L230.48,487.69 L230.77,487.92 L231.06,488.16 L231.34,488.39 L231.63,488.61 L231.92,488.82 L232.21,489.06 L232.50,489.34 L232.78,489.64 L233.07,489.97 L233.36,490.31 L233.65,490.66 L233.94,491.01 L234.23,491.34 L234.51,491.66 L234.80,491.95 L235.09,492.20 L235.38,492.41 L235.67,492.56 L235.96,492.66 L236.24,492.68 L236.53,492.65 L236.82,492.56 L237.11,492.43 L237.40,492.27 L237.68,492.06 L237.97,491.83 L238.26,491.57 L238.55,491.30 L238.84,491.01 L239.13,490.71 L239.41,490.42 L239.70,490.12 L239.99,489.83 L240.28,489.55 L240.57,489.30 L240.85,489.06 L241.14,488.86 L241.43,488.67 L241.72,488.49 L242.01,488.29 L242.30,488.09 L242.58,487.89 L242.87,487.69 L243.16,487.50 L243.45,487.31 L243.74,487.12 L244.02,486.95 L244.31,486.79 L244.60,486.64 L244.89,486.51 L245.18,486.40 L245.47,486.31 L245.75,486.25 L246.04,486.21 L246.33,486.20 L246.62,486.20 L246.91,486.20 L247.19,486.20 L247.48,486.20 L247.77,486.20 L248.06,486.20 L248.35,486.20 L248.64,486.20 L248.92,486.20 L249.21,486.20 L249.50,486.20 L249.79,486.20 L250.08,486.20 L250.36,486.20 L250.65,486.20 L250.94,486.20 L251.23,486.20 L251.52,486.20 L251.81,486.20 L252.09,486.20 L252.38,486.20 L252.67,486.20 L252.96,486.20 L253.25,486.20 L253.53,486.20 L253.82,486.20 L254.11,486.20 L254.40,486.20 L254.69,486.20 L254.98,486.20 L255.26,486.20 L255.55,486.20 L255.84,486.20 L256.13,486.20 L256.42,486.20 L256.70,486.20 L256.99,486.20 L257.28,486.20 L257.57,486.20 L257.86,486.20 L258.15,486.20 L258.43,486.20 L258.72,486.20 L259.01,486.20 L259.30,486.20 L259.59,486.20 L259.87,486.20 L260.16,486.20 L260.45,486.20 L260.74,486.20 L261.03,486.20 L261.32,486.20 L261.60,486.20 L261.89,486.20 L262.18,486.20 L262.47,486.20 L262.76,486.20 L263.05,486.20 L263.33,486.20 L263.62,486.20 L263.91,486.20 L264.20,486.20 L264.49,486.20 L264.77,486.20 L265.06,486.20 L265.35,486.20 L265.64,486.20 L265.93,486.20 L266.22,486.20 L266.50,486.20 L266.79,486.20 L267.08,486.20 L267.37,486.20 L267.66,486.20 L267.94,486.20 L268.23,486.20 L268.52,486.20 L268.81,486.20 L269.10,486.20 L269.39,486.20 L269.67,486.20 L269.96,486.20 L270.25,486.20 L270.54,486.20 L270.83,486.20 L271.11,486.20 L271.40,486.20 L271.69,486.20 L271.98,486.20 L272.27,486.20 L272.56,486.20 L272.84,486.20 L273.13,486.20 L273.42,486.20 L273.71,486.20 L274.00,486.20 L274.28,486.20 L274.57,486.20 L274.86,486.20 L275.15,486.20 L275.44,486.20 L275.73,486.20 L276.01,486.20 L276.30,486.20 L276.59,486.20 L276.88,486.20 L277.17,486.20 L277.45,486.20 L277.74,486.20 L278.03,486.20 L278.32,486.20 L278.61,486.20 L278.90,486.20 L279.18,486.20 L279.47,486.20 L279.76,486.20 L280.05,486.20 L280.34,486.20 L280.62,486.20 L280.91,486.20 L281.20,486.20 L281.49,486.20 L281.78,486.20 L282.07,486.20 L282.35,486.20 L282.64,486.20 L282.93,486.20 L283.22,486.20 L283.51,486.20 L283.79,486.20 L284.08,486.20 L284.37,486.20 L284.66,486.20 L284.95,486.20 L285.24,486.20 L285.52,486.20 L285.81,486.20 L286.10,486.20 L286.39,486.20 L286.68,486.20 L286.97,486.20 L287.25,486.20 L287.54,486.28 L287.83,486.64 L288.12,487.23 L288.41,488.05 L288.69,489.06 L288.98,490.23 L289.27,491.55 L289.56,492.97 L289.85,494.48 L290.14,496.05 L290.42,497.65 L290.71,499.25 L291.00,500.83 L291.29,502.36 L291.58,503.81 L291.86,505.17 L292.15,506.68 L292.44,508.37 L292.73,510.14 L293.02,511.92 L293.31,513.61 L293.59,515.14 L293.88,516.41 L294.17,517.35 L294.46,517.88 L294.75,518.26 L295.03,518.62 L295.32,518.92 L295.61,519.18 L295.90,519.36 L296.19,519.47 L296.48,519.49 L296.76,519.42 L297.05,519.30 L297.34,519.12 L297.63,518.90 L297.92,518.67 L298.20,518.44 L298.49,518.22 L298.78,518.02 L299.07,517.87 L299.36,517.78 L299.65,517.77 L299.93,517.99 L300.22,518.46 L300.51,519.14 L300.80,520.00 L301.09,520.99 L301.37,522.09 L301.66,523.27 L301.95,524.47 L302.24,525.67 L302.53,526.84 L302.82,527.93 L303.10,529.02 L303.39,530.25 L303.68,531.59 L303.97,533.00 L304.26,534.42 L304.54,535.83 L304.83,537.17 L305.12,538.41 L305.41,539.49 L305.70,540.37 L305.99,541.02 L306.27,541.47 L306.56,541.90 L306.85,542.31 L307.14,542.68 L307.43,543.01 L307.71,543.29 L308.00,543.50 L308.29,543.64 L308.58,543.70 L308.87,543.63 L309.16,543.39 L309.44,542.99 L309.73,542.46 L310.02,541.82 L310.31,541.09 L310.60,540.31 L310.88,539.49 L311.17,538.66 L311.46,537.73 L311.75,536.53 L312.04,535.11 L312.33,533.55 L312.61,531.91 L312.90,530.24 L313.19,528.62 L313.48,527.10 L313.77,525.75 L314.06,524.56 L314.34,523.41 L314.63,522.30 L314.92,521.22 L315.21,520.17 L315.50,519.15 L315.78,518.16 L316.07,517.20 L316.36,516.26 L316.65,515.34 L316.94,514.45 L317.23,513.58 L317.51,512.72 L317.80,511.89 L318.09,511.07 L318.38,510.27 L318.67,509.49 L318.95,508.72 L319.24,507.97 L319.53,507.23 L319.82,506.50 L320.11,505.78 L320.40,505.07 L320.68,504.37 L320.97,503.68 L321.26,502.99 L321.55,502.30 L321.84,501.59 L322.12,500.83 L322.41,500.03 L322.70,499.20 L322.99,498.36 L323.28,497.53 L323.57,496.73 L323.85,495.96 L324.14,495.26 L324.43,494.63 L324.72,494.08 L325.01,493.64 L325.29,493.33 L325.58,493.15 L325.87,493.15 L326.16,493.57 L326.45,494.43 L326.74,495.70 L327.02,497.33 L327.31,499.27 L327.60,501.47 L327.89,503.89 L328.18,506.49 L328.46,509.22 L328.75,512.02 L329.04,514.87 L329.33,517.71 L329.62,520.49 L329.91,523.18 L330.19,525.72 L330.48,528.07 L330.77,530.20 L331.06,532.25 L331.35,534.27 L331.63,536.27 L331.92,538.25 L332.21,540.22 L332.50,542.19 L332.79,544.15 L333.08,546.12 L333.36,548.10 L333.65,550.09 L333.94,552.11 L334.23,554.15 L334.52,556.22 L334.80,558.34 L335.09,560.49 L335.38,562.72 L335.67,565.16 L335.96,567.82 L336.25,570.66 L336.53,573.61 L336.82,576.64 L337.11,579.70 L337.40,582.73 L337.69,585.69 L337.98,588.53 L338.26,591.20 L338.55,593.65 L338.84,595.84 L339.13,597.71 L339.42,599.22 L339.70,600.32 L339.99,600.99 L340.28,601.51 L340.57,601.96 L340.86,602.36 L341.15,602.71 L341.43,603.02 L341.72,603.31 L342.01,603.58 L342.30,603.85 L342.59,604.12 L342.87,604.40 L343.16,604.71 L343.45,605.05 L343.74,605.40 L344.03,605.72 L344.32,606.01 L344.60,606.28 L344.89,606.57 L345.18,606.86 L345.47,607.19 L345.76,607.57 L346.04,608.00 L346.33,608.50 L346.62,609.09 L346.91,609.78 L347.20,611.08 L347.49,613.43 L347.77,616.39 L348.06,619.51 L348.35,622.33 L348.64,624.53 L348.93,626.73 L349.21,628.96 L349.50,631.04 L349.79,632.78 L350.08,633.99 L350.37,634.49 L350.66,634.41 L350.94,634.14 L351.23,633.69 L351.52,633.07 L351.81,632.30 L352.10,631.38 L352.38,630.34 L352.67,629.17 L352.96,627.72 L353.25,624.77 L353.54,620.45 L353.83,615.21 L354.11,609.52 L354.40,603.85 L354.69,598.52 L354.98,592.80 L355.27,586.71 L355.55,580.50 L355.84,574.42 L356.13,568.73 L356.42,563.62 L356.71,558.78 L357.00,554.11 L357.28,549.61 L357.57,545.28 L357.86,541.11 L358.15,537.11 L358.44,533.27 L358.72,529.56 L359.01,525.83 L359.30,522.11 L359.59,518.49 L359.88,515.06 L360.17,511.90 L360.45,509.10 L360.74,506.75 L361.03,504.88 L361.32,503.19 L361.61,501.61 L361.89,500.13 L362.18,498.75 L362.47,497.47 L362.76,496.28 L363.05,495.19 L363.34,494.20 L363.62,493.29 L363.91,492.48 L364.20,491.75 L364.49,491.10 L364.78,490.47 L365.07,489.84 L365.35,489.24 L365.64,488.66 L365.93,488.12 L366.22,487.63 L366.51,487.19 L366.79,486.82 L367.08,486.53 L367.37,486.33 L367.66,486.22 L367.95,486.20 L368.24,486.20 L368.52,486.20 L368.81,486.20 L369.10,486.20 L369.39,486.20 L369.68,486.20 L369.96,486.20 L370.25,486.20 L370.54,486.20 L370.83,486.20 L371.12,486.20 L371.41,486.20 L371.69,486.20 L371.98,486.20 L372.27,486.20 L372.56,486.20 L372.85,486.20 L373.13,486.20 L373.42,486.20 L373.71,486.20 L374.00,486.20 L374.29,486.20 L374.58,486.20 L374.86,486.20 L375.15,486.20 L375.44,486.20 L375.73,486.20 L376.02,486.20 L376.30,486.20 L376.59,486.20 L376.88,486.20 L377.17,486.20 L377.46,486.20 L377.75,486.20 L378.03,486.20 L378.32,486.20 L378.61,486.20 L378.90,486.20 L379.19,486.20 L379.47,486.20 L379.76,486.20 L380.05,486.20 L380.34,486.20 L380.63,486.20 L380.92,486.20 L381.20,486.20 L381.49,486.20 L381.78,486.20 L382.07,486.20 L382.36,486.20 L382.64,486.20 L382.93,486.20 L383.22,486.20 L383.51,486.20 L383.80,486.20 L384.09,486.20 L384.37,486.20 L384.66,486.20 L384.95,486.20 L385.24,486.20 L385.53,486.20 L385.81,486.20 L386.10,486.20 L386.39,486.20 L386.68,486.20 L386.97,486.20 L387.26,486.20 L387.54,486.20 L387.83,486.20 L388.12,486.20 L388.41,486.20 L388.70,486.20 L388.99,486.20 L389.27,486.20 L389.56,486.20 L389.85,486.20 L390.14,486.20 L390.43,486.20 L390.71,486.20 L391.00,486.20 L391.29,486.20 L391.58,486.20 L391.87,486.20 L392.16,486.20 L392.44,486.20 L392.73,486.20 L393.02,486.20 L393.31,486.20 L393.60,486.20 L393.88,486.20 L394.17,486.20 L394.46,486.20 L394.75,486.20 L395.04,486.20 L395.33,486.20 L395.61,486.20 L395.90,486.20 L396.19,486.20 L396.48,486.20 L396.77,486.20 L397.05,486.20 L397.34,486.20 L397.63,486.20 L397.92,486.20 L398.21,486.20 L398.50,486.20 L398.78,486.20 L399.07,486.20 L399.36,486.20 L399.65,486.20 L399.94,486.20 L400.22,486.20 L400.51,486.20 L400.80,486.20 L401.09,486.20 L401.38,486.20 L401.67,486.20 L401.95,486.20 L402.24,486.20 L402.53,486.20 L402.82,486.20 L403.11,486.20 L403.39,486.20 L403.68,486.20 L403.97,486.20 L404.26,486.20 L404.55,486.20 L404.84,486.20 L405.12,486.20 L405.41,486.20 L405.70,486.20 L405.99,486.20 L406.28,486.20 L406.56,486.20 L406.85,486.20 L407.14,486.20 L407.43,486.20 L407.72,486.20 L408.01,486.20 L408.29,486.20 L408.58,486.20 L408.87,486.20 L409.16,486.20 L409.45,486.20 L409.73,486.21 L410.02,486.31 L410.31,486.49 L410.60,486.74 L410.89,487.07 L411.18,487.47 L411.46,487.92 L411.75,488.44 L412.04,489.00 L412.33,489.61 L412.62,490.25 L412.91,490.93 L413.19,491.63 L413.48,492.36 L413.77,493.10 L414.06,493.85 L414.35,494.61 L414.63,495.37 L414.92,496.11 L415.21,496.85 L415.50,497.57 L415.79,498.28 L416.08,499.04 L416.36,499.87 L416.65,500.75 L416.94,501.67 L417.23,502.62 L417.52,503.60 L417.80,504.61 L418.09,505.62 L418.38,506.64 L418.67,507.66 L418.96,508.66 L419.25,509.64 L419.53,510.60 L419.82,511.52 L420.11,512.40 L420.40,513.23 L420.69,514.00 L420.97,514.72 L421.26,515.47 L421.55,516.25 L421.84,517.04 L422.13,517.83 L422.42,518.61 L422.70,519.35 L422.99,520.05 L423.28,520.69 L423.57,521.25 L423.86,521.73 L424.14,522.11 L424.43,522.37 L424.72,522.50 L425.01,522.46 L425.30,522.12 L425.59,521.55 L425.87,520.84 L426.16,520.06 L426.45,519.30 L426.74,518.64 L427.03,518.16 L427.31,517.77 L427.60,517.38 L427.89,517.00 L428.18,516.62 L428.47,516.25 L428.76,515.89 L429.04,515.55 L429.33,515.23 L429.62,514.94 L429.91,514.67 L430.20,514.44 L430.48,514.24 L430.77,514.08 L431.06,513.96 L431.35,513.89 L431.64,513.87 L431.93,514.01 L432.21,514.35 L432.50,514.86 L432.79,515.48 L433.08,516.18 L433.37,516.91 L433.65,517.64 L433.94,518.31 L434.23,518.90 L434.52,519.36 L434.81,519.67 L435.10,519.98 L435.38,520.28 L435.67,520.57 L435.96,520.84 L436.25,521.11 L436.54,521.34 L436.82,521.56 L437.11,521.74 L437.40,521.89 L437.69,522.00 L437.98,522.06 L438.27,522.08 L438.55,521.99 L438.84,521.75 L439.13,521.40 L439.42,520.96 L439.71,520.44 L440.00,519.87 L440.28,519.28 L440.57,518.67 L440.86,518.08 L441.15,517.52 L441.44,517.01 L441.72,516.48 L442.01,515.94 L442.30,515.38 L442.59,514.81 L442.88,514.23 L443.17,513.63 L443.45,513.03 L443.74,512.42 L444.03,511.81 L444.32,511.19 L444.61,510.56 L444.89,509.90 L445.18,509.23 L445.47,508.54 L445.76,507.85 L446.05,507.16 L446.34,506.47 L446.62,505.79 L446.91,505.12 L447.20,504.47 L447.49,503.84 L447.78,503.23 L448.06,502.62 L448.35,502.02 L448.64,501.43 L448.93,500.85 L449.22,500.27 L449.51,499.71 L449.79,499.15 L450.08,498.60 L450.37,498.06 L450.66,497.52 L450.95,496.97 L451.23,496.40 L451.52,495.83 L451.81,495.26 L452.10,494.72 L452.39,494.21 L452.68,493.73 L452.96,493.31 L453.25,492.94 L453.54,492.64 L453.83,492.39 L454.12,492.15 L454.40,491.93 L454.69,491.72 L454.98,491.53 L455.27,491.35 L455.56,491.18 L455.85,491.02 L456.13,490.86 L456.42,490.71 L456.71,490.57 L457.00,490.43 L457.29,490.28 L457.57,490.14 L457.86,490.00 L458.15,489.86 L458.44,489.73 L458.73,489.60 L459.02,489.48 L459.30,489.36 L459.59,489.24 L459.88,489.13 L460.17,489.01 L460.46,488.90 L460.74,488.78 L461.03,488.66 L461.32,488.53 L461.61,488.41 L461.90,488.27 L462.19,488.11 L462.47,487.93 L462.76,487.74 L463.05,487.55 L463.34,487.36 L463.63,487.18 L463.92,487.01 L464.20,486.87 L464.49,486.75 L464.78,486.67 L465.07,486.63 L465.36,486.65 L465.64,486.75 L465.93,486.91 L466.22,487.13 L466.51,487.39 L466.80,487.67 L467.09,487.97 L467.37,488.28 L467.66,488.57 L467.95,488.84 L468.24,489.12 L468.53,489.41 L468.81,489.72 L469.10,490.04 L469.39,490.37 L469.68,490.70 L469.97,491.05 L470.26,491.39 L470.54,491.73 L470.83,492.08 L471.12,492.41 L471.41,492.74 L471.70,493.05 L471.98,493.35 L472.27,493.64 L472.56,493.91 L472.85,494.15 L473.14,494.40 L473.43,494.63 L473.71,494.86 L474.00,495.09 L474.29,495.31 L474.58,495.52 L474.87,495.73 L475.15,495.94 L475.44,496.14 L475.73,496.34 L476.02,496.53 L476.31,496.72 L476.60,496.91 L476.88,497.10 L477.17,497.28 L477.46,497.46 L477.75,497.64 L478.04,497.82 L478.32,498.00 L478.61,498.17 L478.90,498.34 L479.19,498.50 L479.48,498.67 L479.77,498.83 L480.05,498.98 L480.34,499.14 L480.63,499.29 L480.92,499.44 L481.21,499.59 L481.49,499.75 L481.78,499.90 L482.07,500.05 L482.36,500.20 L482.65,500.35 L482.94,500.50 L483.22,500.67 L483.51,500.85 L483.80,501.04 L484.09,501.23 L484.38,501.43 L484.66,501.63 L484.95,501.82 L485.24,502.00 L485.53,502.17 L485.82,502.31 L486.11,502.44 L486.39,502.53 L486.68,502.60 L486.97,502.63 L487.26,502.59 L487.55,502.43 L487.83,502.16 L488.12,501.80 L488.41,501.36 L488.70,500.88 L488.99,500.36 L489.28,499.83 L489.56,499.30 L489.85,498.81 L490.14,498.35 L490.43,497.96 L490.72,497.63 L491.01,497.29 L491.29,496.94 L491.58,496.59 L491.87,496.24 L492.16,495.90 L492.45,495.58 L492.73,495.27 L493.02,494.98 L493.31,494.71 L493.60,494.48 L493.89,494.28 L494.18,494.12 L494.46,494.00 L494.75,493.92 L495.04,493.85 L495.33,493.79 L495.62,493.74 L495.90,493.69 L496.19,493.64 L496.48,493.61 L496.77,493.57 L497.06,493.54 L497.35,493.50 L497.63,493.47 L497.92,493.44 L498.21,493.41 L498.50,493.37 L498.79,493.34 L499.07,493.29 L499.36,493.25 L499.65,493.19 L499.94,493.13 L500.23,493.06 L500.52,492.97 L500.80,492.86 L501.09,492.73 L501.38,492.59 L501.67,492.44 L501.96,492.28 L502.24,492.12 L502.53,491.96 L502.82,491.80 L503.11,491.65 L503.40,491.50 L503.69,491.37 L503.97,491.25 L504.26,491.14 L504.55,491.06 L504.84,491.00 L505.13,490.96 L505.41,490.96 L505.70,490.96 L505.99,490.96 L506.28,490.96 L506.57,490.96 L506.86,490.96 L507.14,490.96 L507.43,490.96 L507.72,490.96 L508.01,490.96 L508.30,490.96 L508.58,490.96 L508.87,490.96 L509.16,490.96 L509.45,490.96 L509.74,490.96 L510.03,490.96 L510.31,490.96 L510.60,490.96 L510.89,490.96 L511.18,490.96 L511.47,490.96 L511.75,490.96 L512.04,490.96 L512.33,490.95 L512.62,490.93 L512.91,490.88 L513.20,490.81 L513.48,490.72 L513.77,490.61 L514.06,490.48 L514.35,490.35 L514.64,490.20 L514.93,490.06 L515.21,489.91 L515.50,489.76 L515.79,489.61 L516.08,489.44 L516.37,489.23 L516.65,488.98 L516.94,488.72 L517.23,488.44 L517.52,488.14 L517.81,487.85 L518.10,487.56 L518.38,487.28 L518.67,487.02 L518.96,486.78 L519.25,486.58 L519.54,486.41 L519.82,486.29 L520.11,486.21 L520.40,486.20 L520.69,486.22 L520.98,486.27 L521.27,486.34 L521.55,486.44 L521.84,486.55 L522.13,486.68 L522.42,486.82 L522.71,486.97 L522.99,487.13 L523.28,487.30 L523.57,487.48 L523.86,487.66 L524.15,487.83 L524.44,488.01 L524.72,488.18 L525.01,488.34 L525.30,488.50 L525.59,488.64 L525.88,488.77 L526.16,488.89 L526.45,489.02 L526.74,489.15 L527.03,489.29 L527.32,489.42 L527.61,489.56 L527.89,489.69 L528.18,489.82 L528.47,489.94 L528.76,490.06 L529.05,490.16 L529.33,490.26 L529.62,490.35 L529.91,490.42 L530.20,490.48 L530.49,490.52 L530.78,490.55 L531.06,490.57 L531.35,490.60 L531.64,490.62 L531.93,490.64 L532.22,490.66 L532.50,490.68 L532.79,490.70 L533.08,490.71 L533.37,490.73 L533.66,490.74 L533.95,490.76 L534.23,490.77 L534.52,490.78 L534.81,490.79 L535.10,490.80 L535.39,490.81 L535.67,490.82 L535.96,490.84 L536.25,490.85 L536.54,490.86 L536.83,490.87 L537.12,490.88 L537.40,490.89 L537.69,490.91 L537.98,490.92 L538.27,490.94 L538.56,490.95 L538.84,490.97 L539.13,490.99 L539.42,491.01 L539.71,491.03 L540.00,491.05 L540.29,491.07 L540.57,491.09 L540.86,491.12 L541.15,491.14 L541.44,491.16 L541.73,491.19 L542.02,491.21 L542.30,491.24 L542.59,491.26 L542.88,491.29 L543.17,491.32 L543.46,491.34 L543.74,491.37 L544.03,491.39 L544.32,491.42 L544.61,491.44 L544.90,491.47 L545.19,491.49 L545.47,491.52 L545.76,491.54 L546.05,491.56 L546.34,491.59 L546.63,491.61 L546.91,491.63 L547.20,491.65 L547.49,491.67 L547.78,491.69 L548.07,491.71 L548.36,491.72 L548.64,491.74 L548.93,491.75 L549.22,491.77 L549.51,491.78 L549.80,491.79 L550.08,491.80 L550.37,491.81 L550.66,491.81 L550.95,491.82 L551.24,491.82 L551.53,491.82 L551.81,491.82 L552.10,491.81 L552.39,491.80 L552.68,491.78 L552.97,491.76 L553.25,491.74 L553.54,491.71 L553.83,491.68 L554.12,491.65 L554.41,491.61 L554.70,491.57 L554.98,491.52 L555.27,491.48 L555.56,491.43 L555.85,491.38 L556.14,491.33 L556.42,491.27 L556.71,491.22 L557.00,491.16 L557.29,491.11 L557.58,491.05 L557.87,490.99 L558.15,490.93 L558.44,490.87 L558.73,490.81 L559.02,490.75 L559.31,490.70 L559.59,490.64 L559.88,490.58 L560.17,490.53 L560.46,490.47 L560.75,490.41 L561.04,490.34 L561.32,490.26 L561.61,490.18 L561.90,490.10 L562.19,490.01 L562.48,489.92 L562.76,489.83 L563.05,489.73 L563.34,489.64 L563.63,489.54 L563.92,489.44 L564.21,489.34 L564.49,489.25 L564.78,489.15 L565.07,489.06 L565.36,488.97 L565.65,488.89 L565.94,488.81 L566.22,488.73 L566.51,488.66 L566.80,488.60 L567.09,488.54 L567.38,488.49 L567.66,488.44 L567.95,488.41 L568.24,488.38 L568.53,488.37 L568.82,488.36 L569.11,488.37 L569.39,488.38 L569.68,488.40 L569.97,488.43 L570.26,488.46 L570.55,488.50 L570.83,488.55 L571.12,488.60 L571.41,488.66 L571.70,488.72 L571.99,488.78 L572.28,488.85 L572.56,488.92 L572.85,489.00 L573.14,489.07 L573.43,489.15 L573.72,489.23 L574.00,489.31 L574.29,489.39 L574.58,489.46 L574.87,489.54 L575.16,489.61 L575.45,489.69 L575.73,489.76 L576.02,489.82 L576.31,489.89 L576.60,489.94 L576.89,490.00 L577.17,490.05 L577.46,490.09 L577.75,490.13 L578.04,490.17 L578.33,490.21 L578.62,490.25 L578.90,490.29 L579.19,490.33 L579.48,490.37 L579.77,490.41 L580.06,490.45 L580.34,490.49 L580.63,490.53 L580.92,490.57 L581.21,490.61 L581.50,490.65 L581.79,490.69 L582.07,490.73 L582.36,490.76 L582.65,490.80 L582.94,490.84 L583.23,490.87 L583.51,490.91 L583.80,490.94 L584.09,490.98 L584.38,491.01 L584.67,491.04 L584.96,491.07 L585.24,491.10 L585.53,491.13 L585.82,491.16 L586.11,491.18 L586.40,491.21 L586.68,491.23 L586.97,491.25 L587.26,491.27 L587.55,491.29 L587.84,491.31 L588.13,491.32 L588.41,491.34 L588.70,491.35 L588.99,491.36 L589.28,491.37 L589.57,491.38 L589.85,491.38 L590.14,491.39 L590.43,491.39 L590.72,491.39 L591.01,491.39 L591.30,491.38 L591.58,491.38 L591.87,491.37 L592.16,491.37 L592.45,491.36 L592.74,491.35 L593.03,491.34 L593.31,491.32 L593.60,491.31 L593.89,491.30 L594.18,491.28 L594.47,491.26 L594.75,491.24 L595.04,491.22 L595.33,491.20 L595.62,491.18 L595.91,491.16 L596.20,491.13 L596.48,491.11 L596.77,491.08 L597.06,491.05 L597.35,491.02 L597.64,490.99 L597.92,490.96 L598.21,490.92 L598.50,490.89 L598.79,490.85 L599.08,490.81 L599.37,490.77 L599.65,490.73 L599.94,490.69 L600.23,490.65 L600.52,490.60 L600.81,490.56 L601.09,490.51 L601.38,490.46 L601.67,490.41 L601.96,490.36 L602.25,490.31 L602.54,490.26 L602.82,490.20 L603.11,490.15 L603.40,490.09" stroke="#FC8412"/>
</g>
<line x1="387.1" y1="313.2" x2="387.1" y2="659.2" stroke="#000" stroke-width="1.8" stroke-dasharray="6.3 5.54" stroke-dashoffset="4.09"/>
<rect x="171.4" y="313.2" width="432.0" height="346.0" fill="none" stroke="#000" stroke-width="2.0"/>
<line x1="164.6" y1="313.27" x2="171.4" y2="313.27" stroke="#000" stroke-width="1.9"/>
<text class="sans num" transform="translate(159.5,320.87) scale(1,1.03)" font-size="21.6" font-weight="bold" text-anchor="end">40</text>
<line x1="164.6" y1="399.73" x2="171.4" y2="399.73" stroke="#000" stroke-width="1.9"/>
<text class="sans num" transform="translate(159.5,407.33) scale(1,1.03)" font-size="21.6" font-weight="bold" text-anchor="end">20</text>
<line x1="164.6" y1="486.20" x2="171.4" y2="486.20" stroke="#000" stroke-width="1.9"/>
<text class="sans num" transform="translate(159.5,493.80) scale(1,1.03)" font-size="21.6" font-weight="bold" text-anchor="end">0</text>
<line x1="164.6" y1="572.67" x2="171.4" y2="572.67" stroke="#000" stroke-width="1.9"/>
<text class="sans num" transform="translate(159.5,580.27) scale(1,1.03)" font-size="21.6" font-weight="bold" text-anchor="end">-20</text>
<line x1="164.6" y1="659.13" x2="171.4" y2="659.13" stroke="#000" stroke-width="1.9"/>
<text class="sans num" transform="translate(159.5,666.73) scale(1,1.03)" font-size="21.6" font-weight="bold" text-anchor="end">-40</text>
<line x1="167.6" y1="356.50" x2="171.4" y2="356.50" stroke="#000" stroke-width="1.9"/>
<line x1="167.6" y1="442.97" x2="171.4" y2="442.97" stroke="#000" stroke-width="1.9"/>
<line x1="167.6" y1="529.43" x2="171.4" y2="529.43" stroke="#000" stroke-width="1.9"/>
<line x1="167.6" y1="615.90" x2="171.4" y2="615.90" stroke="#000" stroke-width="1.9"/>
<line x1="171.40" y1="659.2" x2="171.40" y2="665.5" stroke="#000" stroke-width="1.9"/>
<text class="sans num" transform="translate(171.90,687.6) scale(1,1.03)" font-size="21.6" font-weight="bold" text-anchor="middle">-15</text>
<line x1="243.40" y1="659.2" x2="243.40" y2="665.5" stroke="#000" stroke-width="1.9"/>
<text class="sans num" transform="translate(243.90,687.6) scale(1,1.03)" font-size="21.6" font-weight="bold" text-anchor="middle">-10</text>
<line x1="315.40" y1="659.2" x2="315.40" y2="665.5" stroke="#000" stroke-width="1.9"/>
<text class="sans num" transform="translate(315.90,687.6) scale(1,1.03)" font-size="21.6" font-weight="bold" text-anchor="middle">-5</text>
<line x1="387.40" y1="659.2" x2="387.40" y2="665.5" stroke="#000" stroke-width="1.9"/>
<text class="sans num" transform="translate(387.40,687.6) scale(1,1.03)" font-size="21.6" font-weight="bold" text-anchor="middle">0</text>
<line x1="459.40" y1="659.2" x2="459.40" y2="665.5" stroke="#000" stroke-width="1.9"/>
<text class="sans num" transform="translate(459.40,687.6) scale(1,1.03)" font-size="21.6" font-weight="bold" text-anchor="middle">5</text>
<line x1="531.40" y1="659.2" x2="531.40" y2="665.5" stroke="#000" stroke-width="1.9"/>
<text class="sans num" transform="translate(531.40,687.6) scale(1,1.03)" font-size="21.6" font-weight="bold" text-anchor="middle">10</text>
<line x1="603.40" y1="659.2" x2="603.40" y2="665.5" stroke="#000" stroke-width="1.9"/>
<text class="sans num" transform="translate(603.40,687.6) scale(1,1.03)" font-size="21.6" font-weight="bold" text-anchor="middle">15</text>
<line x1="207.40" y1="659.2" x2="207.40" y2="662.8" stroke="#000" stroke-width="1.9"/>
<line x1="279.40" y1="659.2" x2="279.40" y2="662.8" stroke="#000" stroke-width="1.9"/>
<line x1="351.40" y1="659.2" x2="351.40" y2="662.8" stroke="#000" stroke-width="1.9"/>
<line x1="423.40" y1="659.2" x2="423.40" y2="662.8" stroke="#000" stroke-width="1.9"/>
<line x1="495.40" y1="659.2" x2="495.40" y2="662.8" stroke="#000" stroke-width="1.9"/>
<line x1="567.40" y1="659.2" x2="567.40" y2="662.8" stroke="#000" stroke-width="1.9"/>
<text class="serif" transform="translate(127,494.5) rotate(-90)" font-size="23" text-anchor="middle">DOS (eV<tspan font-size="14.5" dy="-6.8">-1</tspan><tspan dy="6.8">)</tspan></text>
<text class="serif" x="376.2" y="728" font-size="23" text-anchor="middle">Energy (eV)</text>
<text class="serif" x="256" y="333.7" font-size="21.6">Pure ZnTeNS</text>
<text class="serif" x="267.3" y="359.2" font-size="21.5">total DOS</text>
<text class="sans" x="390.5" y="333.3" font-size="17.6">spin up</text>
<text class="sans" x="389.5" y="649.2" font-size="17.9">spin down</text>
<text class="serif" x="388.4" y="420.2" font-size="22.6" stroke="#000" stroke-width="0.5">&#949;<tspan font-size="16.4" font-weight="bold" stroke-width="0" dx="-0.6" dy="4.9">F</tspan></text>
<line x1="499" y1="556.1" x2="542.6" y2="556.1" stroke="#9340EC" stroke-width="3.0"/>
<text class="sans" x="546" y="562.3" font-size="18">Zn-4s</text>
<line x1="499" y1="578.2" x2="542.6" y2="578.2" stroke="#0A845A" stroke-width="3.0"/>
<text class="sans" x="546" y="584.4" font-size="18">Zn-3p</text>
<line x1="499" y1="600.3" x2="542.6" y2="600.3" stroke="#7A0000" stroke-width="3.0"/>
<text class="sans" x="546" y="606.5" font-size="18">Zn-3d</text>
<line x1="499" y1="622.4" x2="542.6" y2="622.4" stroke="#1E33EC" stroke-width="3.0"/>
<text class="sans" x="546" y="628.6" font-size="18">Te-5s</text>
<line x1="499" y1="644.5" x2="542.6" y2="644.5" stroke="#FC8412" stroke-width="3.0"/>
<text class="sans" x="546" y="650.7" font-size="18">Te-5p</text>
</svg>
</body></html>
